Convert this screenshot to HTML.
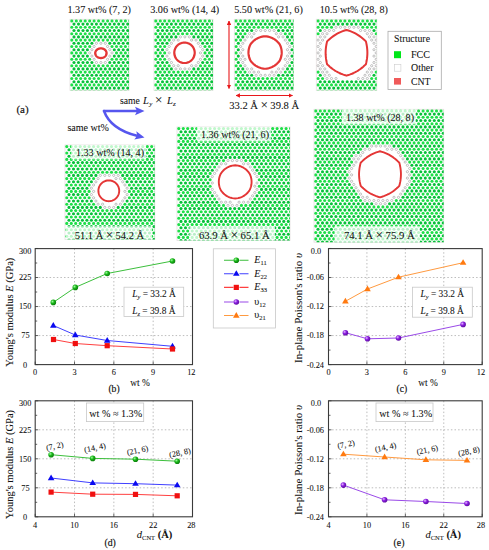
<!DOCTYPE html>
<html><head><meta charset="utf-8"><style>
html,body{margin:0;padding:0;background:#fff;width:489px;height:550px;overflow:hidden}
svg{display:block}
text{font-family:"Liberation Serif",serif;fill:#111;stroke:#111;stroke-width:0.07px}
</style></head><body>
<svg width="489" height="550" viewBox="0 0 489 550">
<defs>
<radialGradient id="gG" cx="0.35" cy="0.35" r="0.7"><stop offset="0" stop-color="#9dfc9d"/><stop offset="0.45" stop-color="#19b719"/><stop offset="1" stop-color="#0a7a0a"/></radialGradient>
<radialGradient id="gP" cx="0.35" cy="0.35" r="0.7"><stop offset="0" stop-color="#e6b8ff"/><stop offset="0.45" stop-color="#8a1ee0"/><stop offset="1" stop-color="#5a0a9a"/></radialGradient>
<marker id="ahR" viewBox="0 0 10 10" refX="9" refY="5" markerWidth="4" markerHeight="4" orient="auto-start-reverse"><path d="M0,0 L10,5 L0,10 z" fill="#e8181b"/></marker>
<marker id="ahB" viewBox="0 0 10 10" refX="8" refY="5" markerWidth="3.2" markerHeight="3.2" orient="auto"><path d="M0,0 L10,5 L0,10 L2,5 z" fill="#5a5aee"/></marker>
</defs>
<clipPath id="c1"><rect x="70" y="19.3" width="59" height="71"/></clipPath>
<rect x="70" y="19.3" width="59" height="71" fill="#fff" stroke="#e4dede" stroke-width="0.8"/>
<g clip-path="url(#c1)">
<g fill="#1ee048"><circle cx="71.8" cy="20.9" r="1.55"/><circle cx="76.3" cy="20.9" r="1.55"/><circle cx="80.7" cy="20.9" r="1.55"/><circle cx="85.2" cy="20.9" r="1.55"/><circle cx="89.7" cy="20.9" r="1.55"/><circle cx="94.1" cy="20.9" r="1.55"/><circle cx="98.6" cy="20.9" r="1.55"/><circle cx="103.1" cy="20.9" r="1.55"/><circle cx="107.6" cy="20.9" r="1.55"/><circle cx="112.0" cy="20.9" r="1.55"/><circle cx="116.5" cy="20.9" r="1.55"/><circle cx="121.0" cy="20.9" r="1.55"/><circle cx="125.4" cy="20.9" r="1.55"/><circle cx="129.9" cy="20.9" r="1.55"/><circle cx="71.8" cy="27.3" r="1.55"/><circle cx="76.3" cy="27.3" r="1.55"/><circle cx="80.7" cy="27.3" r="1.55"/><circle cx="85.2" cy="27.3" r="1.55"/><circle cx="89.7" cy="27.3" r="1.55"/><circle cx="94.1" cy="27.3" r="1.55"/><circle cx="98.6" cy="27.3" r="1.55"/><circle cx="103.1" cy="27.3" r="1.55"/><circle cx="107.6" cy="27.3" r="1.55"/><circle cx="112.0" cy="27.3" r="1.55"/><circle cx="116.5" cy="27.3" r="1.55"/><circle cx="121.0" cy="27.3" r="1.55"/><circle cx="125.4" cy="27.3" r="1.55"/><circle cx="129.9" cy="27.3" r="1.55"/><circle cx="71.8" cy="33.7" r="1.55"/><circle cx="76.3" cy="33.7" r="1.55"/><circle cx="80.7" cy="33.7" r="1.55"/><circle cx="85.2" cy="33.7" r="1.55"/><circle cx="89.7" cy="33.7" r="1.55"/><circle cx="94.1" cy="33.7" r="1.55"/><circle cx="98.6" cy="33.7" r="1.55"/><circle cx="103.1" cy="33.7" r="1.55"/><circle cx="107.6" cy="33.7" r="1.55"/><circle cx="112.0" cy="33.7" r="1.55"/><circle cx="116.5" cy="33.7" r="1.55"/><circle cx="121.0" cy="33.7" r="1.55"/><circle cx="125.4" cy="33.7" r="1.55"/><circle cx="129.9" cy="33.7" r="1.55"/><circle cx="71.8" cy="40.1" r="1.55"/><circle cx="76.3" cy="40.1" r="1.55"/><circle cx="80.7" cy="40.1" r="1.55"/><circle cx="85.2" cy="40.1" r="1.55"/><circle cx="89.7" cy="40.1" r="1.55"/><circle cx="94.1" cy="40.1" r="1.55"/><circle cx="98.6" cy="40.1" r="1.55"/><circle cx="103.1" cy="40.1" r="1.55"/><circle cx="107.6" cy="40.1" r="1.55"/><circle cx="112.0" cy="40.1" r="1.55"/><circle cx="116.5" cy="40.1" r="1.55"/><circle cx="121.0" cy="40.1" r="1.55"/><circle cx="125.4" cy="40.1" r="1.55"/><circle cx="129.9" cy="40.1" r="1.55"/><circle cx="71.8" cy="46.5" r="1.55"/><circle cx="76.3" cy="46.5" r="1.55"/><circle cx="80.7" cy="46.5" r="1.55"/><circle cx="85.2" cy="46.5" r="1.55"/><circle cx="89.7" cy="46.5" r="1.55"/><circle cx="112.0" cy="46.5" r="1.55"/><circle cx="116.5" cy="46.5" r="1.55"/><circle cx="121.0" cy="46.5" r="1.55"/><circle cx="125.4" cy="46.5" r="1.55"/><circle cx="129.9" cy="46.5" r="1.55"/><circle cx="71.8" cy="52.9" r="1.55"/><circle cx="76.3" cy="52.9" r="1.55"/><circle cx="80.7" cy="52.9" r="1.55"/><circle cx="85.2" cy="52.9" r="1.55"/><circle cx="116.5" cy="52.9" r="1.55"/><circle cx="121.0" cy="52.9" r="1.55"/><circle cx="125.4" cy="52.9" r="1.55"/><circle cx="129.9" cy="52.9" r="1.55"/><circle cx="71.8" cy="59.3" r="1.55"/><circle cx="76.3" cy="59.3" r="1.55"/><circle cx="80.7" cy="59.3" r="1.55"/><circle cx="85.2" cy="59.3" r="1.55"/><circle cx="89.7" cy="59.3" r="1.55"/><circle cx="112.0" cy="59.3" r="1.55"/><circle cx="116.5" cy="59.3" r="1.55"/><circle cx="121.0" cy="59.3" r="1.55"/><circle cx="125.4" cy="59.3" r="1.55"/><circle cx="129.9" cy="59.3" r="1.55"/><circle cx="71.8" cy="65.7" r="1.55"/><circle cx="76.3" cy="65.7" r="1.55"/><circle cx="80.7" cy="65.7" r="1.55"/><circle cx="85.2" cy="65.7" r="1.55"/><circle cx="89.7" cy="65.7" r="1.55"/><circle cx="94.1" cy="65.7" r="1.55"/><circle cx="98.6" cy="65.7" r="1.55"/><circle cx="103.1" cy="65.7" r="1.55"/><circle cx="107.6" cy="65.7" r="1.55"/><circle cx="112.0" cy="65.7" r="1.55"/><circle cx="116.5" cy="65.7" r="1.55"/><circle cx="121.0" cy="65.7" r="1.55"/><circle cx="125.4" cy="65.7" r="1.55"/><circle cx="129.9" cy="65.7" r="1.55"/><circle cx="71.8" cy="72.1" r="1.55"/><circle cx="76.3" cy="72.1" r="1.55"/><circle cx="80.7" cy="72.1" r="1.55"/><circle cx="85.2" cy="72.1" r="1.55"/><circle cx="89.7" cy="72.1" r="1.55"/><circle cx="94.1" cy="72.1" r="1.55"/><circle cx="98.6" cy="72.1" r="1.55"/><circle cx="103.1" cy="72.1" r="1.55"/><circle cx="107.6" cy="72.1" r="1.55"/><circle cx="112.0" cy="72.1" r="1.55"/><circle cx="116.5" cy="72.1" r="1.55"/><circle cx="121.0" cy="72.1" r="1.55"/><circle cx="125.4" cy="72.1" r="1.55"/><circle cx="129.9" cy="72.1" r="1.55"/><circle cx="71.8" cy="78.5" r="1.55"/><circle cx="76.3" cy="78.5" r="1.55"/><circle cx="80.7" cy="78.5" r="1.55"/><circle cx="85.2" cy="78.5" r="1.55"/><circle cx="89.7" cy="78.5" r="1.55"/><circle cx="94.1" cy="78.5" r="1.55"/><circle cx="98.6" cy="78.5" r="1.55"/><circle cx="103.1" cy="78.5" r="1.55"/><circle cx="107.6" cy="78.5" r="1.55"/><circle cx="112.0" cy="78.5" r="1.55"/><circle cx="116.5" cy="78.5" r="1.55"/><circle cx="121.0" cy="78.5" r="1.55"/><circle cx="125.4" cy="78.5" r="1.55"/><circle cx="129.9" cy="78.5" r="1.55"/><circle cx="71.8" cy="84.9" r="1.55"/><circle cx="76.3" cy="84.9" r="1.55"/><circle cx="80.7" cy="84.9" r="1.55"/><circle cx="85.2" cy="84.9" r="1.55"/><circle cx="89.7" cy="84.9" r="1.55"/><circle cx="94.1" cy="84.9" r="1.55"/><circle cx="98.6" cy="84.9" r="1.55"/><circle cx="103.1" cy="84.9" r="1.55"/><circle cx="107.6" cy="84.9" r="1.55"/><circle cx="112.0" cy="84.9" r="1.55"/><circle cx="116.5" cy="84.9" r="1.55"/><circle cx="121.0" cy="84.9" r="1.55"/><circle cx="125.4" cy="84.9" r="1.55"/><circle cx="129.9" cy="84.9" r="1.55"/><circle cx="71.8" cy="91.3" r="1.55"/><circle cx="76.3" cy="91.3" r="1.55"/><circle cx="80.7" cy="91.3" r="1.55"/><circle cx="85.2" cy="91.3" r="1.55"/><circle cx="89.7" cy="91.3" r="1.55"/><circle cx="94.1" cy="91.3" r="1.55"/><circle cx="98.6" cy="91.3" r="1.55"/><circle cx="103.1" cy="91.3" r="1.55"/><circle cx="107.6" cy="91.3" r="1.55"/><circle cx="112.0" cy="91.3" r="1.55"/><circle cx="116.5" cy="91.3" r="1.55"/><circle cx="121.0" cy="91.3" r="1.55"/><circle cx="125.4" cy="91.3" r="1.55"/><circle cx="129.9" cy="91.3" r="1.55"/></g>
<g fill="#07c03a"><circle cx="74.0" cy="24.1" r="1.55"/><circle cx="78.5" cy="24.1" r="1.55"/><circle cx="83.0" cy="24.1" r="1.55"/><circle cx="87.4" cy="24.1" r="1.55"/><circle cx="91.9" cy="24.1" r="1.55"/><circle cx="96.4" cy="24.1" r="1.55"/><circle cx="100.9" cy="24.1" r="1.55"/><circle cx="105.3" cy="24.1" r="1.55"/><circle cx="109.8" cy="24.1" r="1.55"/><circle cx="114.3" cy="24.1" r="1.55"/><circle cx="118.7" cy="24.1" r="1.55"/><circle cx="123.2" cy="24.1" r="1.55"/><circle cx="127.7" cy="24.1" r="1.55"/><circle cx="132.1" cy="24.1" r="1.55"/><circle cx="74.0" cy="30.5" r="1.55"/><circle cx="78.5" cy="30.5" r="1.55"/><circle cx="83.0" cy="30.5" r="1.55"/><circle cx="87.4" cy="30.5" r="1.55"/><circle cx="91.9" cy="30.5" r="1.55"/><circle cx="96.4" cy="30.5" r="1.55"/><circle cx="100.9" cy="30.5" r="1.55"/><circle cx="105.3" cy="30.5" r="1.55"/><circle cx="109.8" cy="30.5" r="1.55"/><circle cx="114.3" cy="30.5" r="1.55"/><circle cx="118.7" cy="30.5" r="1.55"/><circle cx="123.2" cy="30.5" r="1.55"/><circle cx="127.7" cy="30.5" r="1.55"/><circle cx="132.1" cy="30.5" r="1.55"/><circle cx="74.0" cy="36.9" r="1.55"/><circle cx="78.5" cy="36.9" r="1.55"/><circle cx="83.0" cy="36.9" r="1.55"/><circle cx="87.4" cy="36.9" r="1.55"/><circle cx="91.9" cy="36.9" r="1.55"/><circle cx="96.4" cy="36.9" r="1.55"/><circle cx="100.9" cy="36.9" r="1.55"/><circle cx="105.3" cy="36.9" r="1.55"/><circle cx="109.8" cy="36.9" r="1.55"/><circle cx="114.3" cy="36.9" r="1.55"/><circle cx="118.7" cy="36.9" r="1.55"/><circle cx="123.2" cy="36.9" r="1.55"/><circle cx="127.7" cy="36.9" r="1.55"/><circle cx="132.1" cy="36.9" r="1.55"/><circle cx="74.0" cy="43.3" r="1.55"/><circle cx="78.5" cy="43.3" r="1.55"/><circle cx="83.0" cy="43.3" r="1.55"/><circle cx="87.4" cy="43.3" r="1.55"/><circle cx="91.9" cy="43.3" r="1.55"/><circle cx="109.8" cy="43.3" r="1.55"/><circle cx="114.3" cy="43.3" r="1.55"/><circle cx="118.7" cy="43.3" r="1.55"/><circle cx="123.2" cy="43.3" r="1.55"/><circle cx="127.7" cy="43.3" r="1.55"/><circle cx="132.1" cy="43.3" r="1.55"/><circle cx="74.0" cy="49.7" r="1.55"/><circle cx="78.5" cy="49.7" r="1.55"/><circle cx="83.0" cy="49.7" r="1.55"/><circle cx="87.4" cy="49.7" r="1.55"/><circle cx="114.3" cy="49.7" r="1.55"/><circle cx="118.7" cy="49.7" r="1.55"/><circle cx="123.2" cy="49.7" r="1.55"/><circle cx="127.7" cy="49.7" r="1.55"/><circle cx="132.1" cy="49.7" r="1.55"/><circle cx="74.0" cy="56.1" r="1.55"/><circle cx="78.5" cy="56.1" r="1.55"/><circle cx="83.0" cy="56.1" r="1.55"/><circle cx="87.4" cy="56.1" r="1.55"/><circle cx="114.3" cy="56.1" r="1.55"/><circle cx="118.7" cy="56.1" r="1.55"/><circle cx="123.2" cy="56.1" r="1.55"/><circle cx="127.7" cy="56.1" r="1.55"/><circle cx="132.1" cy="56.1" r="1.55"/><circle cx="74.0" cy="62.5" r="1.55"/><circle cx="78.5" cy="62.5" r="1.55"/><circle cx="83.0" cy="62.5" r="1.55"/><circle cx="87.4" cy="62.5" r="1.55"/><circle cx="91.9" cy="62.5" r="1.55"/><circle cx="109.8" cy="62.5" r="1.55"/><circle cx="114.3" cy="62.5" r="1.55"/><circle cx="118.7" cy="62.5" r="1.55"/><circle cx="123.2" cy="62.5" r="1.55"/><circle cx="127.7" cy="62.5" r="1.55"/><circle cx="132.1" cy="62.5" r="1.55"/><circle cx="74.0" cy="68.9" r="1.55"/><circle cx="78.5" cy="68.9" r="1.55"/><circle cx="83.0" cy="68.9" r="1.55"/><circle cx="87.4" cy="68.9" r="1.55"/><circle cx="91.9" cy="68.9" r="1.55"/><circle cx="96.4" cy="68.9" r="1.55"/><circle cx="100.9" cy="68.9" r="1.55"/><circle cx="105.3" cy="68.9" r="1.55"/><circle cx="109.8" cy="68.9" r="1.55"/><circle cx="114.3" cy="68.9" r="1.55"/><circle cx="118.7" cy="68.9" r="1.55"/><circle cx="123.2" cy="68.9" r="1.55"/><circle cx="127.7" cy="68.9" r="1.55"/><circle cx="132.1" cy="68.9" r="1.55"/><circle cx="74.0" cy="75.3" r="1.55"/><circle cx="78.5" cy="75.3" r="1.55"/><circle cx="83.0" cy="75.3" r="1.55"/><circle cx="87.4" cy="75.3" r="1.55"/><circle cx="91.9" cy="75.3" r="1.55"/><circle cx="96.4" cy="75.3" r="1.55"/><circle cx="100.9" cy="75.3" r="1.55"/><circle cx="105.3" cy="75.3" r="1.55"/><circle cx="109.8" cy="75.3" r="1.55"/><circle cx="114.3" cy="75.3" r="1.55"/><circle cx="118.7" cy="75.3" r="1.55"/><circle cx="123.2" cy="75.3" r="1.55"/><circle cx="127.7" cy="75.3" r="1.55"/><circle cx="132.1" cy="75.3" r="1.55"/><circle cx="74.0" cy="81.7" r="1.55"/><circle cx="78.5" cy="81.7" r="1.55"/><circle cx="83.0" cy="81.7" r="1.55"/><circle cx="87.4" cy="81.7" r="1.55"/><circle cx="91.9" cy="81.7" r="1.55"/><circle cx="96.4" cy="81.7" r="1.55"/><circle cx="100.9" cy="81.7" r="1.55"/><circle cx="105.3" cy="81.7" r="1.55"/><circle cx="109.8" cy="81.7" r="1.55"/><circle cx="114.3" cy="81.7" r="1.55"/><circle cx="118.7" cy="81.7" r="1.55"/><circle cx="123.2" cy="81.7" r="1.55"/><circle cx="127.7" cy="81.7" r="1.55"/><circle cx="132.1" cy="81.7" r="1.55"/><circle cx="74.0" cy="88.1" r="1.55"/><circle cx="78.5" cy="88.1" r="1.55"/><circle cx="83.0" cy="88.1" r="1.55"/><circle cx="87.4" cy="88.1" r="1.55"/><circle cx="91.9" cy="88.1" r="1.55"/><circle cx="96.4" cy="88.1" r="1.55"/><circle cx="100.9" cy="88.1" r="1.55"/><circle cx="105.3" cy="88.1" r="1.55"/><circle cx="109.8" cy="88.1" r="1.55"/><circle cx="114.3" cy="88.1" r="1.55"/><circle cx="118.7" cy="88.1" r="1.55"/><circle cx="123.2" cy="88.1" r="1.55"/><circle cx="127.7" cy="88.1" r="1.55"/><circle cx="132.1" cy="88.1" r="1.55"/></g>
<g fill="#fff" stroke="#9a9a9a" stroke-width="0.6"><circle cx="96.4" cy="43.3" r="1.1"/><circle cx="100.9" cy="43.3" r="1.1"/><circle cx="105.3" cy="43.3" r="1.1"/><circle cx="94.1" cy="46.5" r="1.1"/><circle cx="107.6" cy="46.5" r="1.1"/><circle cx="91.9" cy="49.7" r="1.1"/><circle cx="109.8" cy="49.7" r="1.1"/><circle cx="89.7" cy="52.9" r="1.1"/><circle cx="112.0" cy="52.9" r="1.1"/><circle cx="91.9" cy="56.1" r="1.1"/><circle cx="109.8" cy="56.1" r="1.1"/><circle cx="94.1" cy="59.3" r="1.1"/><circle cx="107.6" cy="59.3" r="1.1"/><circle cx="96.4" cy="62.5" r="1.1"/><circle cx="100.9" cy="62.5" r="1.1"/><circle cx="105.3" cy="62.5" r="1.1"/></g>
<path d="M106.57,53.20 L106.55,53.62 L106.49,54.04 L106.38,54.45 L106.23,54.85 L106.04,55.24 L105.81,55.62 L105.55,55.97 L105.25,56.31 L104.91,56.62 L104.55,56.90 L104.15,57.16 L103.74,57.38 L103.30,57.58 L102.84,57.74 L102.37,57.87 L101.89,57.96 L101.39,58.01 L100.90,58.03 L100.41,58.01 L99.91,57.96 L99.43,57.87 L98.96,57.74 L98.50,57.58 L98.06,57.38 L97.65,57.16 L97.25,56.90 L96.89,56.62 L96.55,56.31 L96.25,55.97 L95.99,55.62 L95.76,55.24 L95.57,54.85 L95.42,54.45 L95.31,54.04 L95.25,53.62 L95.23,53.20 L95.25,52.78 L95.31,52.36 L95.42,51.95 L95.57,51.55 L95.76,51.16 L95.99,50.78 L96.25,50.43 L96.55,50.09 L96.89,49.78 L97.25,49.50 L97.65,49.24 L98.06,49.02 L98.50,48.82 L98.96,48.66 L99.43,48.53 L99.91,48.44 L100.41,48.39 L100.90,48.37 L101.39,48.39 L101.89,48.44 L102.37,48.53 L102.84,48.66 L103.30,48.82 L103.74,49.02 L104.15,49.24 L104.55,49.50 L104.91,49.78 L105.25,50.09 L105.55,50.43 L105.81,50.78 L106.04,51.16 L106.23,51.55 L106.38,51.95 L106.49,52.36 L106.55,52.78Z" fill="none" stroke="#e43636" stroke-width="2.3" stroke-linejoin="round"/>
</g>
<clipPath id="c2"><rect x="154" y="19.3" width="59" height="71"/></clipPath>
<rect x="154" y="19.3" width="59" height="71" fill="#fff" stroke="#e4dede" stroke-width="0.8"/>
<g clip-path="url(#c2)">
<g fill="#1ee048"><circle cx="155.8" cy="20.9" r="1.55"/><circle cx="160.3" cy="20.9" r="1.55"/><circle cx="164.7" cy="20.9" r="1.55"/><circle cx="169.2" cy="20.9" r="1.55"/><circle cx="173.7" cy="20.9" r="1.55"/><circle cx="178.2" cy="20.9" r="1.55"/><circle cx="182.6" cy="20.9" r="1.55"/><circle cx="187.1" cy="20.9" r="1.55"/><circle cx="191.6" cy="20.9" r="1.55"/><circle cx="196.0" cy="20.9" r="1.55"/><circle cx="200.5" cy="20.9" r="1.55"/><circle cx="205.0" cy="20.9" r="1.55"/><circle cx="209.4" cy="20.9" r="1.55"/><circle cx="213.9" cy="20.9" r="1.55"/><circle cx="155.8" cy="27.3" r="1.55"/><circle cx="160.3" cy="27.3" r="1.55"/><circle cx="164.7" cy="27.3" r="1.55"/><circle cx="169.2" cy="27.3" r="1.55"/><circle cx="173.7" cy="27.3" r="1.55"/><circle cx="178.2" cy="27.3" r="1.55"/><circle cx="182.6" cy="27.3" r="1.55"/><circle cx="187.1" cy="27.3" r="1.55"/><circle cx="191.6" cy="27.3" r="1.55"/><circle cx="196.0" cy="27.3" r="1.55"/><circle cx="200.5" cy="27.3" r="1.55"/><circle cx="205.0" cy="27.3" r="1.55"/><circle cx="209.4" cy="27.3" r="1.55"/><circle cx="213.9" cy="27.3" r="1.55"/><circle cx="155.8" cy="33.7" r="1.55"/><circle cx="160.3" cy="33.7" r="1.55"/><circle cx="164.7" cy="33.7" r="1.55"/><circle cx="169.2" cy="33.7" r="1.55"/><circle cx="173.7" cy="33.7" r="1.55"/><circle cx="178.2" cy="33.7" r="1.55"/><circle cx="182.6" cy="33.7" r="1.55"/><circle cx="187.1" cy="33.7" r="1.55"/><circle cx="191.6" cy="33.7" r="1.55"/><circle cx="196.0" cy="33.7" r="1.55"/><circle cx="200.5" cy="33.7" r="1.55"/><circle cx="205.0" cy="33.7" r="1.55"/><circle cx="209.4" cy="33.7" r="1.55"/><circle cx="213.9" cy="33.7" r="1.55"/><circle cx="155.8" cy="40.1" r="1.55"/><circle cx="160.3" cy="40.1" r="1.55"/><circle cx="164.7" cy="40.1" r="1.55"/><circle cx="169.2" cy="40.1" r="1.55"/><circle cx="200.5" cy="40.1" r="1.55"/><circle cx="205.0" cy="40.1" r="1.55"/><circle cx="209.4" cy="40.1" r="1.55"/><circle cx="213.9" cy="40.1" r="1.55"/><circle cx="155.8" cy="46.5" r="1.55"/><circle cx="160.3" cy="46.5" r="1.55"/><circle cx="164.7" cy="46.5" r="1.55"/><circle cx="205.0" cy="46.5" r="1.55"/><circle cx="209.4" cy="46.5" r="1.55"/><circle cx="213.9" cy="46.5" r="1.55"/><circle cx="155.8" cy="52.9" r="1.55"/><circle cx="160.3" cy="52.9" r="1.55"/><circle cx="164.7" cy="52.9" r="1.55"/><circle cx="205.0" cy="52.9" r="1.55"/><circle cx="209.4" cy="52.9" r="1.55"/><circle cx="213.9" cy="52.9" r="1.55"/><circle cx="155.8" cy="59.3" r="1.55"/><circle cx="160.3" cy="59.3" r="1.55"/><circle cx="164.7" cy="59.3" r="1.55"/><circle cx="205.0" cy="59.3" r="1.55"/><circle cx="209.4" cy="59.3" r="1.55"/><circle cx="213.9" cy="59.3" r="1.55"/><circle cx="155.8" cy="65.7" r="1.55"/><circle cx="160.3" cy="65.7" r="1.55"/><circle cx="164.7" cy="65.7" r="1.55"/><circle cx="169.2" cy="65.7" r="1.55"/><circle cx="200.5" cy="65.7" r="1.55"/><circle cx="205.0" cy="65.7" r="1.55"/><circle cx="209.4" cy="65.7" r="1.55"/><circle cx="213.9" cy="65.7" r="1.55"/><circle cx="155.8" cy="72.1" r="1.55"/><circle cx="160.3" cy="72.1" r="1.55"/><circle cx="164.7" cy="72.1" r="1.55"/><circle cx="169.2" cy="72.1" r="1.55"/><circle cx="173.7" cy="72.1" r="1.55"/><circle cx="178.2" cy="72.1" r="1.55"/><circle cx="182.6" cy="72.1" r="1.55"/><circle cx="187.1" cy="72.1" r="1.55"/><circle cx="191.6" cy="72.1" r="1.55"/><circle cx="196.0" cy="72.1" r="1.55"/><circle cx="200.5" cy="72.1" r="1.55"/><circle cx="205.0" cy="72.1" r="1.55"/><circle cx="209.4" cy="72.1" r="1.55"/><circle cx="213.9" cy="72.1" r="1.55"/><circle cx="155.8" cy="78.5" r="1.55"/><circle cx="160.3" cy="78.5" r="1.55"/><circle cx="164.7" cy="78.5" r="1.55"/><circle cx="169.2" cy="78.5" r="1.55"/><circle cx="173.7" cy="78.5" r="1.55"/><circle cx="178.2" cy="78.5" r="1.55"/><circle cx="182.6" cy="78.5" r="1.55"/><circle cx="187.1" cy="78.5" r="1.55"/><circle cx="191.6" cy="78.5" r="1.55"/><circle cx="196.0" cy="78.5" r="1.55"/><circle cx="200.5" cy="78.5" r="1.55"/><circle cx="205.0" cy="78.5" r="1.55"/><circle cx="209.4" cy="78.5" r="1.55"/><circle cx="213.9" cy="78.5" r="1.55"/><circle cx="155.8" cy="84.9" r="1.55"/><circle cx="160.3" cy="84.9" r="1.55"/><circle cx="164.7" cy="84.9" r="1.55"/><circle cx="169.2" cy="84.9" r="1.55"/><circle cx="173.7" cy="84.9" r="1.55"/><circle cx="178.2" cy="84.9" r="1.55"/><circle cx="182.6" cy="84.9" r="1.55"/><circle cx="187.1" cy="84.9" r="1.55"/><circle cx="191.6" cy="84.9" r="1.55"/><circle cx="196.0" cy="84.9" r="1.55"/><circle cx="200.5" cy="84.9" r="1.55"/><circle cx="205.0" cy="84.9" r="1.55"/><circle cx="209.4" cy="84.9" r="1.55"/><circle cx="213.9" cy="84.9" r="1.55"/><circle cx="155.8" cy="91.3" r="1.55"/><circle cx="160.3" cy="91.3" r="1.55"/><circle cx="164.7" cy="91.3" r="1.55"/><circle cx="169.2" cy="91.3" r="1.55"/><circle cx="173.7" cy="91.3" r="1.55"/><circle cx="178.2" cy="91.3" r="1.55"/><circle cx="182.6" cy="91.3" r="1.55"/><circle cx="187.1" cy="91.3" r="1.55"/><circle cx="191.6" cy="91.3" r="1.55"/><circle cx="196.0" cy="91.3" r="1.55"/><circle cx="200.5" cy="91.3" r="1.55"/><circle cx="205.0" cy="91.3" r="1.55"/><circle cx="209.4" cy="91.3" r="1.55"/><circle cx="213.9" cy="91.3" r="1.55"/></g>
<g fill="#07c03a"><circle cx="158.0" cy="24.1" r="1.55"/><circle cx="162.5" cy="24.1" r="1.55"/><circle cx="167.0" cy="24.1" r="1.55"/><circle cx="171.4" cy="24.1" r="1.55"/><circle cx="175.9" cy="24.1" r="1.55"/><circle cx="180.4" cy="24.1" r="1.55"/><circle cx="184.9" cy="24.1" r="1.55"/><circle cx="189.3" cy="24.1" r="1.55"/><circle cx="193.8" cy="24.1" r="1.55"/><circle cx="198.3" cy="24.1" r="1.55"/><circle cx="202.7" cy="24.1" r="1.55"/><circle cx="207.2" cy="24.1" r="1.55"/><circle cx="211.7" cy="24.1" r="1.55"/><circle cx="216.1" cy="24.1" r="1.55"/><circle cx="158.0" cy="30.5" r="1.55"/><circle cx="162.5" cy="30.5" r="1.55"/><circle cx="167.0" cy="30.5" r="1.55"/><circle cx="171.4" cy="30.5" r="1.55"/><circle cx="175.9" cy="30.5" r="1.55"/><circle cx="180.4" cy="30.5" r="1.55"/><circle cx="184.9" cy="30.5" r="1.55"/><circle cx="189.3" cy="30.5" r="1.55"/><circle cx="193.8" cy="30.5" r="1.55"/><circle cx="198.3" cy="30.5" r="1.55"/><circle cx="202.7" cy="30.5" r="1.55"/><circle cx="207.2" cy="30.5" r="1.55"/><circle cx="211.7" cy="30.5" r="1.55"/><circle cx="216.1" cy="30.5" r="1.55"/><circle cx="158.0" cy="36.9" r="1.55"/><circle cx="162.5" cy="36.9" r="1.55"/><circle cx="167.0" cy="36.9" r="1.55"/><circle cx="171.4" cy="36.9" r="1.55"/><circle cx="175.9" cy="36.9" r="1.55"/><circle cx="193.8" cy="36.9" r="1.55"/><circle cx="198.3" cy="36.9" r="1.55"/><circle cx="202.7" cy="36.9" r="1.55"/><circle cx="207.2" cy="36.9" r="1.55"/><circle cx="211.7" cy="36.9" r="1.55"/><circle cx="216.1" cy="36.9" r="1.55"/><circle cx="158.0" cy="43.3" r="1.55"/><circle cx="162.5" cy="43.3" r="1.55"/><circle cx="167.0" cy="43.3" r="1.55"/><circle cx="202.7" cy="43.3" r="1.55"/><circle cx="207.2" cy="43.3" r="1.55"/><circle cx="211.7" cy="43.3" r="1.55"/><circle cx="216.1" cy="43.3" r="1.55"/><circle cx="158.0" cy="49.7" r="1.55"/><circle cx="162.5" cy="49.7" r="1.55"/><circle cx="207.2" cy="49.7" r="1.55"/><circle cx="211.7" cy="49.7" r="1.55"/><circle cx="216.1" cy="49.7" r="1.55"/><circle cx="158.0" cy="56.1" r="1.55"/><circle cx="162.5" cy="56.1" r="1.55"/><circle cx="207.2" cy="56.1" r="1.55"/><circle cx="211.7" cy="56.1" r="1.55"/><circle cx="216.1" cy="56.1" r="1.55"/><circle cx="158.0" cy="62.5" r="1.55"/><circle cx="162.5" cy="62.5" r="1.55"/><circle cx="167.0" cy="62.5" r="1.55"/><circle cx="202.7" cy="62.5" r="1.55"/><circle cx="207.2" cy="62.5" r="1.55"/><circle cx="211.7" cy="62.5" r="1.55"/><circle cx="216.1" cy="62.5" r="1.55"/><circle cx="158.0" cy="68.9" r="1.55"/><circle cx="162.5" cy="68.9" r="1.55"/><circle cx="167.0" cy="68.9" r="1.55"/><circle cx="171.4" cy="68.9" r="1.55"/><circle cx="193.8" cy="68.9" r="1.55"/><circle cx="198.3" cy="68.9" r="1.55"/><circle cx="202.7" cy="68.9" r="1.55"/><circle cx="207.2" cy="68.9" r="1.55"/><circle cx="211.7" cy="68.9" r="1.55"/><circle cx="216.1" cy="68.9" r="1.55"/><circle cx="158.0" cy="75.3" r="1.55"/><circle cx="162.5" cy="75.3" r="1.55"/><circle cx="167.0" cy="75.3" r="1.55"/><circle cx="171.4" cy="75.3" r="1.55"/><circle cx="175.9" cy="75.3" r="1.55"/><circle cx="180.4" cy="75.3" r="1.55"/><circle cx="184.9" cy="75.3" r="1.55"/><circle cx="189.3" cy="75.3" r="1.55"/><circle cx="193.8" cy="75.3" r="1.55"/><circle cx="198.3" cy="75.3" r="1.55"/><circle cx="202.7" cy="75.3" r="1.55"/><circle cx="207.2" cy="75.3" r="1.55"/><circle cx="211.7" cy="75.3" r="1.55"/><circle cx="216.1" cy="75.3" r="1.55"/><circle cx="158.0" cy="81.7" r="1.55"/><circle cx="162.5" cy="81.7" r="1.55"/><circle cx="167.0" cy="81.7" r="1.55"/><circle cx="171.4" cy="81.7" r="1.55"/><circle cx="175.9" cy="81.7" r="1.55"/><circle cx="180.4" cy="81.7" r="1.55"/><circle cx="184.9" cy="81.7" r="1.55"/><circle cx="189.3" cy="81.7" r="1.55"/><circle cx="193.8" cy="81.7" r="1.55"/><circle cx="198.3" cy="81.7" r="1.55"/><circle cx="202.7" cy="81.7" r="1.55"/><circle cx="207.2" cy="81.7" r="1.55"/><circle cx="211.7" cy="81.7" r="1.55"/><circle cx="216.1" cy="81.7" r="1.55"/><circle cx="158.0" cy="88.1" r="1.55"/><circle cx="162.5" cy="88.1" r="1.55"/><circle cx="167.0" cy="88.1" r="1.55"/><circle cx="171.4" cy="88.1" r="1.55"/><circle cx="175.9" cy="88.1" r="1.55"/><circle cx="180.4" cy="88.1" r="1.55"/><circle cx="184.9" cy="88.1" r="1.55"/><circle cx="189.3" cy="88.1" r="1.55"/><circle cx="193.8" cy="88.1" r="1.55"/><circle cx="198.3" cy="88.1" r="1.55"/><circle cx="202.7" cy="88.1" r="1.55"/><circle cx="207.2" cy="88.1" r="1.55"/><circle cx="211.7" cy="88.1" r="1.55"/><circle cx="216.1" cy="88.1" r="1.55"/></g>
<g fill="#fff" stroke="#9a9a9a" stroke-width="0.6"><circle cx="180.4" cy="36.9" r="1.1"/><circle cx="184.9" cy="36.9" r="1.1"/><circle cx="189.3" cy="36.9" r="1.1"/><circle cx="173.7" cy="40.1" r="1.1"/><circle cx="178.2" cy="40.1" r="1.1"/><circle cx="191.6" cy="40.1" r="1.1"/><circle cx="196.0" cy="40.1" r="1.1"/><circle cx="171.4" cy="43.3" r="1.1"/><circle cx="198.3" cy="43.3" r="1.1"/><circle cx="169.2" cy="46.5" r="1.1"/><circle cx="200.5" cy="46.5" r="1.1"/><circle cx="167.0" cy="49.7" r="1.1"/><circle cx="202.7" cy="49.7" r="1.1"/><circle cx="169.2" cy="52.9" r="1.1"/><circle cx="200.5" cy="52.9" r="1.1"/><circle cx="167.0" cy="56.1" r="1.1"/><circle cx="202.7" cy="56.1" r="1.1"/><circle cx="169.2" cy="59.3" r="1.1"/><circle cx="200.5" cy="59.3" r="1.1"/><circle cx="171.4" cy="62.5" r="1.1"/><circle cx="198.3" cy="62.5" r="1.1"/><circle cx="173.7" cy="65.7" r="1.1"/><circle cx="178.2" cy="65.7" r="1.1"/><circle cx="191.6" cy="65.7" r="1.1"/><circle cx="196.0" cy="65.7" r="1.1"/><circle cx="175.9" cy="68.9" r="1.1"/><circle cx="180.4" cy="68.9" r="1.1"/><circle cx="184.9" cy="68.9" r="1.1"/><circle cx="189.3" cy="68.9" r="1.1"/></g>
<path d="M194.72,52.80 L194.68,53.69 L194.56,54.57 L194.37,55.44 L194.10,56.29 L193.76,57.12 L193.35,57.91 L192.87,58.66 L192.33,59.37 L191.73,60.03 L191.07,60.63 L190.36,61.17 L189.61,61.65 L188.82,62.06 L187.99,62.40 L187.14,62.67 L186.27,62.86 L185.39,62.98 L184.50,63.02 L183.61,62.98 L182.73,62.86 L181.86,62.67 L181.01,62.40 L180.18,62.06 L179.39,61.65 L178.64,61.17 L177.93,60.63 L177.27,60.03 L176.67,59.37 L176.13,58.66 L175.65,57.91 L175.24,57.12 L174.90,56.29 L174.63,55.44 L174.44,54.57 L174.32,53.69 L174.28,52.80 L174.32,51.91 L174.44,51.03 L174.63,50.16 L174.90,49.31 L175.24,48.48 L175.65,47.69 L176.13,46.94 L176.67,46.23 L177.27,45.57 L177.93,44.97 L178.64,44.43 L179.39,43.95 L180.18,43.54 L181.01,43.20 L181.86,42.93 L182.73,42.74 L183.61,42.62 L184.50,42.58 L185.39,42.62 L186.27,42.74 L187.14,42.93 L187.99,43.20 L188.82,43.54 L189.61,43.95 L190.36,44.43 L191.07,44.97 L191.73,45.57 L192.33,46.23 L192.87,46.94 L193.35,47.69 L193.76,48.48 L194.10,49.31 L194.37,50.16 L194.56,51.03 L194.68,51.91Z" fill="none" stroke="#e43636" stroke-width="2.2" stroke-linejoin="round"/>
</g>
<clipPath id="c3"><rect x="234.3" y="19.3" width="59.3" height="71"/></clipPath>
<rect x="234.3" y="19.3" width="59.3" height="71" fill="#fff" stroke="#e4dede" stroke-width="0.8"/>
<g clip-path="url(#c3)">
<g fill="#1ee048"><circle cx="236.1" cy="20.9" r="1.55"/><circle cx="240.6" cy="20.9" r="1.55"/><circle cx="245.0" cy="20.9" r="1.55"/><circle cx="249.5" cy="20.9" r="1.55"/><circle cx="254.0" cy="20.9" r="1.55"/><circle cx="258.5" cy="20.9" r="1.55"/><circle cx="262.9" cy="20.9" r="1.55"/><circle cx="267.4" cy="20.9" r="1.55"/><circle cx="271.9" cy="20.9" r="1.55"/><circle cx="276.3" cy="20.9" r="1.55"/><circle cx="280.8" cy="20.9" r="1.55"/><circle cx="285.3" cy="20.9" r="1.55"/><circle cx="289.7" cy="20.9" r="1.55"/><circle cx="294.2" cy="20.9" r="1.55"/><circle cx="236.1" cy="27.3" r="1.55"/><circle cx="240.6" cy="27.3" r="1.55"/><circle cx="245.0" cy="27.3" r="1.55"/><circle cx="249.5" cy="27.3" r="1.55"/><circle cx="254.0" cy="27.3" r="1.55"/><circle cx="258.5" cy="27.3" r="1.55"/><circle cx="262.9" cy="27.3" r="1.55"/><circle cx="267.4" cy="27.3" r="1.55"/><circle cx="271.9" cy="27.3" r="1.55"/><circle cx="276.3" cy="27.3" r="1.55"/><circle cx="280.8" cy="27.3" r="1.55"/><circle cx="285.3" cy="27.3" r="1.55"/><circle cx="289.7" cy="27.3" r="1.55"/><circle cx="294.2" cy="27.3" r="1.55"/><circle cx="236.1" cy="33.7" r="1.55"/><circle cx="240.6" cy="33.7" r="1.55"/><circle cx="245.0" cy="33.7" r="1.55"/><circle cx="285.3" cy="33.7" r="1.55"/><circle cx="289.7" cy="33.7" r="1.55"/><circle cx="294.2" cy="33.7" r="1.55"/><circle cx="236.1" cy="40.1" r="1.55"/><circle cx="240.6" cy="40.1" r="1.55"/><circle cx="289.7" cy="40.1" r="1.55"/><circle cx="294.2" cy="40.1" r="1.55"/><circle cx="236.1" cy="46.5" r="1.55"/><circle cx="294.2" cy="46.5" r="1.55"/><circle cx="236.1" cy="52.9" r="1.55"/><circle cx="294.2" cy="52.9" r="1.55"/><circle cx="236.1" cy="59.3" r="1.55"/><circle cx="294.2" cy="59.3" r="1.55"/><circle cx="236.1" cy="65.7" r="1.55"/><circle cx="240.6" cy="65.7" r="1.55"/><circle cx="289.7" cy="65.7" r="1.55"/><circle cx="294.2" cy="65.7" r="1.55"/><circle cx="236.1" cy="72.1" r="1.55"/><circle cx="240.6" cy="72.1" r="1.55"/><circle cx="245.0" cy="72.1" r="1.55"/><circle cx="285.3" cy="72.1" r="1.55"/><circle cx="289.7" cy="72.1" r="1.55"/><circle cx="294.2" cy="72.1" r="1.55"/><circle cx="236.1" cy="78.5" r="1.55"/><circle cx="240.6" cy="78.5" r="1.55"/><circle cx="245.0" cy="78.5" r="1.55"/><circle cx="249.5" cy="78.5" r="1.55"/><circle cx="254.0" cy="78.5" r="1.55"/><circle cx="258.5" cy="78.5" r="1.55"/><circle cx="262.9" cy="78.5" r="1.55"/><circle cx="267.4" cy="78.5" r="1.55"/><circle cx="271.9" cy="78.5" r="1.55"/><circle cx="276.3" cy="78.5" r="1.55"/><circle cx="280.8" cy="78.5" r="1.55"/><circle cx="285.3" cy="78.5" r="1.55"/><circle cx="289.7" cy="78.5" r="1.55"/><circle cx="294.2" cy="78.5" r="1.55"/><circle cx="236.1" cy="84.9" r="1.55"/><circle cx="240.6" cy="84.9" r="1.55"/><circle cx="245.0" cy="84.9" r="1.55"/><circle cx="249.5" cy="84.9" r="1.55"/><circle cx="254.0" cy="84.9" r="1.55"/><circle cx="258.5" cy="84.9" r="1.55"/><circle cx="262.9" cy="84.9" r="1.55"/><circle cx="267.4" cy="84.9" r="1.55"/><circle cx="271.9" cy="84.9" r="1.55"/><circle cx="276.3" cy="84.9" r="1.55"/><circle cx="280.8" cy="84.9" r="1.55"/><circle cx="285.3" cy="84.9" r="1.55"/><circle cx="289.7" cy="84.9" r="1.55"/><circle cx="294.2" cy="84.9" r="1.55"/><circle cx="236.1" cy="91.3" r="1.55"/><circle cx="240.6" cy="91.3" r="1.55"/><circle cx="245.0" cy="91.3" r="1.55"/><circle cx="249.5" cy="91.3" r="1.55"/><circle cx="254.0" cy="91.3" r="1.55"/><circle cx="258.5" cy="91.3" r="1.55"/><circle cx="262.9" cy="91.3" r="1.55"/><circle cx="267.4" cy="91.3" r="1.55"/><circle cx="271.9" cy="91.3" r="1.55"/><circle cx="276.3" cy="91.3" r="1.55"/><circle cx="280.8" cy="91.3" r="1.55"/><circle cx="285.3" cy="91.3" r="1.55"/><circle cx="289.7" cy="91.3" r="1.55"/><circle cx="294.2" cy="91.3" r="1.55"/></g>
<g fill="#07c03a"><circle cx="238.3" cy="24.1" r="1.55"/><circle cx="242.8" cy="24.1" r="1.55"/><circle cx="247.3" cy="24.1" r="1.55"/><circle cx="251.7" cy="24.1" r="1.55"/><circle cx="256.2" cy="24.1" r="1.55"/><circle cx="260.7" cy="24.1" r="1.55"/><circle cx="265.2" cy="24.1" r="1.55"/><circle cx="269.6" cy="24.1" r="1.55"/><circle cx="274.1" cy="24.1" r="1.55"/><circle cx="278.6" cy="24.1" r="1.55"/><circle cx="283.0" cy="24.1" r="1.55"/><circle cx="287.5" cy="24.1" r="1.55"/><circle cx="292.0" cy="24.1" r="1.55"/><circle cx="296.4" cy="24.1" r="1.55"/><circle cx="238.3" cy="30.5" r="1.55"/><circle cx="242.8" cy="30.5" r="1.55"/><circle cx="247.3" cy="30.5" r="1.55"/><circle cx="251.7" cy="30.5" r="1.55"/><circle cx="278.6" cy="30.5" r="1.55"/><circle cx="283.0" cy="30.5" r="1.55"/><circle cx="287.5" cy="30.5" r="1.55"/><circle cx="292.0" cy="30.5" r="1.55"/><circle cx="296.4" cy="30.5" r="1.55"/><circle cx="238.3" cy="36.9" r="1.55"/><circle cx="242.8" cy="36.9" r="1.55"/><circle cx="287.5" cy="36.9" r="1.55"/><circle cx="292.0" cy="36.9" r="1.55"/><circle cx="296.4" cy="36.9" r="1.55"/><circle cx="238.3" cy="43.3" r="1.55"/><circle cx="292.0" cy="43.3" r="1.55"/><circle cx="296.4" cy="43.3" r="1.55"/><circle cx="238.3" cy="49.7" r="1.55"/><circle cx="292.0" cy="49.7" r="1.55"/><circle cx="296.4" cy="49.7" r="1.55"/><circle cx="238.3" cy="56.1" r="1.55"/><circle cx="292.0" cy="56.1" r="1.55"/><circle cx="296.4" cy="56.1" r="1.55"/><circle cx="238.3" cy="62.5" r="1.55"/><circle cx="292.0" cy="62.5" r="1.55"/><circle cx="296.4" cy="62.5" r="1.55"/><circle cx="238.3" cy="68.9" r="1.55"/><circle cx="242.8" cy="68.9" r="1.55"/><circle cx="287.5" cy="68.9" r="1.55"/><circle cx="292.0" cy="68.9" r="1.55"/><circle cx="296.4" cy="68.9" r="1.55"/><circle cx="238.3" cy="75.3" r="1.55"/><circle cx="242.8" cy="75.3" r="1.55"/><circle cx="247.3" cy="75.3" r="1.55"/><circle cx="251.7" cy="75.3" r="1.55"/><circle cx="278.6" cy="75.3" r="1.55"/><circle cx="283.0" cy="75.3" r="1.55"/><circle cx="287.5" cy="75.3" r="1.55"/><circle cx="292.0" cy="75.3" r="1.55"/><circle cx="296.4" cy="75.3" r="1.55"/><circle cx="238.3" cy="81.7" r="1.55"/><circle cx="242.8" cy="81.7" r="1.55"/><circle cx="247.3" cy="81.7" r="1.55"/><circle cx="251.7" cy="81.7" r="1.55"/><circle cx="256.2" cy="81.7" r="1.55"/><circle cx="260.7" cy="81.7" r="1.55"/><circle cx="265.2" cy="81.7" r="1.55"/><circle cx="269.6" cy="81.7" r="1.55"/><circle cx="274.1" cy="81.7" r="1.55"/><circle cx="278.6" cy="81.7" r="1.55"/><circle cx="283.0" cy="81.7" r="1.55"/><circle cx="287.5" cy="81.7" r="1.55"/><circle cx="292.0" cy="81.7" r="1.55"/><circle cx="296.4" cy="81.7" r="1.55"/><circle cx="238.3" cy="88.1" r="1.55"/><circle cx="242.8" cy="88.1" r="1.55"/><circle cx="247.3" cy="88.1" r="1.55"/><circle cx="251.7" cy="88.1" r="1.55"/><circle cx="256.2" cy="88.1" r="1.55"/><circle cx="260.7" cy="88.1" r="1.55"/><circle cx="265.2" cy="88.1" r="1.55"/><circle cx="269.6" cy="88.1" r="1.55"/><circle cx="274.1" cy="88.1" r="1.55"/><circle cx="278.6" cy="88.1" r="1.55"/><circle cx="283.0" cy="88.1" r="1.55"/><circle cx="287.5" cy="88.1" r="1.55"/><circle cx="292.0" cy="88.1" r="1.55"/><circle cx="296.4" cy="88.1" r="1.55"/></g>
<g fill="#fff" stroke="#9a9a9a" stroke-width="0.6"><circle cx="256.2" cy="30.5" r="1.1"/><circle cx="260.7" cy="30.5" r="1.1"/><circle cx="265.2" cy="30.5" r="1.1"/><circle cx="269.6" cy="30.5" r="1.1"/><circle cx="274.1" cy="30.5" r="1.1"/><circle cx="249.5" cy="33.7" r="1.1"/><circle cx="254.0" cy="33.7" r="1.1"/><circle cx="276.3" cy="33.7" r="1.1"/><circle cx="280.8" cy="33.7" r="1.1"/><circle cx="247.3" cy="36.9" r="1.1"/><circle cx="251.7" cy="36.9" r="1.1"/><circle cx="278.6" cy="36.9" r="1.1"/><circle cx="283.0" cy="36.9" r="1.1"/><circle cx="245.0" cy="40.1" r="1.1"/><circle cx="285.3" cy="40.1" r="1.1"/><circle cx="242.8" cy="43.3" r="1.1"/><circle cx="287.5" cy="43.3" r="1.1"/><circle cx="240.6" cy="46.5" r="1.1"/><circle cx="289.7" cy="46.5" r="1.1"/><circle cx="242.8" cy="49.7" r="1.1"/><circle cx="287.5" cy="49.7" r="1.1"/><circle cx="240.6" cy="52.9" r="1.1"/><circle cx="289.7" cy="52.9" r="1.1"/><circle cx="242.8" cy="56.1" r="1.1"/><circle cx="287.5" cy="56.1" r="1.1"/><circle cx="240.6" cy="59.3" r="1.1"/><circle cx="245.0" cy="59.3" r="1.1"/><circle cx="285.3" cy="59.3" r="1.1"/><circle cx="289.7" cy="59.3" r="1.1"/><circle cx="242.8" cy="62.5" r="1.1"/><circle cx="287.5" cy="62.5" r="1.1"/><circle cx="245.0" cy="65.7" r="1.1"/><circle cx="285.3" cy="65.7" r="1.1"/><circle cx="247.3" cy="68.9" r="1.1"/><circle cx="251.7" cy="68.9" r="1.1"/><circle cx="278.6" cy="68.9" r="1.1"/><circle cx="283.0" cy="68.9" r="1.1"/><circle cx="249.5" cy="72.1" r="1.1"/><circle cx="254.0" cy="72.1" r="1.1"/><circle cx="258.5" cy="72.1" r="1.1"/><circle cx="271.9" cy="72.1" r="1.1"/><circle cx="276.3" cy="72.1" r="1.1"/><circle cx="280.8" cy="72.1" r="1.1"/><circle cx="256.2" cy="75.3" r="1.1"/><circle cx="260.7" cy="75.3" r="1.1"/><circle cx="265.2" cy="75.3" r="1.1"/><circle cx="269.6" cy="75.3" r="1.1"/><circle cx="274.1" cy="75.3" r="1.1"/></g>
<path d="M281.72,52.50 L281.66,53.89 L281.50,55.28 L281.22,56.65 L280.83,58.00 L280.33,59.32 L279.74,60.61 L278.87,61.76 L277.92,62.83 L276.90,63.83 L275.80,64.74 L274.64,65.58 L273.41,66.32 L272.13,66.97 L270.79,67.52 L269.42,67.97 L268.01,68.32 L266.57,68.58 L265.10,68.73 L263.63,68.58 L262.19,68.32 L260.78,67.97 L259.41,67.52 L258.07,66.97 L256.79,66.32 L255.56,65.58 L254.40,64.74 L253.30,63.83 L252.28,62.83 L251.33,61.76 L250.46,60.61 L249.87,59.32 L249.37,58.00 L248.98,56.65 L248.70,55.28 L248.54,53.89 L248.48,52.50 L248.54,51.11 L248.70,49.72 L248.98,48.35 L249.37,47.00 L249.87,45.68 L250.46,44.39 L251.33,43.24 L252.28,42.17 L253.30,41.17 L254.40,40.26 L255.56,39.42 L256.79,38.68 L258.07,38.03 L259.41,37.48 L260.78,37.03 L262.19,36.68 L263.63,36.42 L265.10,36.27 L266.57,36.42 L268.01,36.68 L269.42,37.03 L270.79,37.48 L272.13,38.03 L273.41,38.68 L274.64,39.42 L275.80,40.26 L276.90,41.17 L277.92,42.17 L278.87,43.24 L279.74,44.39 L280.33,45.68 L280.83,47.00 L281.22,48.35 L281.50,49.72 L281.66,51.11Z" fill="none" stroke="#e43636" stroke-width="2.2" stroke-linejoin="round"/>
</g>
<clipPath id="c4"><rect x="316.3" y="19.3" width="60.5" height="71"/></clipPath>
<rect x="316.3" y="19.3" width="60.5" height="71" fill="#fff" stroke="#e4dede" stroke-width="0.8"/>
<g clip-path="url(#c4)">
<g fill="#1ee048"><circle cx="318.1" cy="20.9" r="1.55"/><circle cx="322.6" cy="20.9" r="1.55"/><circle cx="327.0" cy="20.9" r="1.55"/><circle cx="331.5" cy="20.9" r="1.55"/><circle cx="336.0" cy="20.9" r="1.55"/><circle cx="340.5" cy="20.9" r="1.55"/><circle cx="344.9" cy="20.9" r="1.55"/><circle cx="349.4" cy="20.9" r="1.55"/><circle cx="353.9" cy="20.9" r="1.55"/><circle cx="358.3" cy="20.9" r="1.55"/><circle cx="362.8" cy="20.9" r="1.55"/><circle cx="367.3" cy="20.9" r="1.55"/><circle cx="371.7" cy="20.9" r="1.55"/><circle cx="376.2" cy="20.9" r="1.55"/><circle cx="380.7" cy="20.9" r="1.55"/><circle cx="318.1" cy="27.3" r="1.55"/><circle cx="322.6" cy="27.3" r="1.55"/><circle cx="327.0" cy="27.3" r="1.55"/><circle cx="331.5" cy="27.3" r="1.55"/><circle cx="362.8" cy="27.3" r="1.55"/><circle cx="367.3" cy="27.3" r="1.55"/><circle cx="371.7" cy="27.3" r="1.55"/><circle cx="376.2" cy="27.3" r="1.55"/><circle cx="380.7" cy="27.3" r="1.55"/><circle cx="318.1" cy="33.7" r="1.55"/><circle cx="376.2" cy="33.7" r="1.55"/><circle cx="380.7" cy="33.7" r="1.55"/><circle cx="380.7" cy="40.1" r="1.55"/><circle cx="380.7" cy="46.5" r="1.55"/><circle cx="380.7" cy="52.9" r="1.55"/><circle cx="380.7" cy="59.3" r="1.55"/><circle cx="380.7" cy="65.7" r="1.55"/><circle cx="318.1" cy="72.1" r="1.55"/><circle cx="376.2" cy="72.1" r="1.55"/><circle cx="380.7" cy="72.1" r="1.55"/><circle cx="318.1" cy="78.5" r="1.55"/><circle cx="322.6" cy="78.5" r="1.55"/><circle cx="371.7" cy="78.5" r="1.55"/><circle cx="376.2" cy="78.5" r="1.55"/><circle cx="380.7" cy="78.5" r="1.55"/><circle cx="318.1" cy="84.9" r="1.55"/><circle cx="322.6" cy="84.9" r="1.55"/><circle cx="327.0" cy="84.9" r="1.55"/><circle cx="331.5" cy="84.9" r="1.55"/><circle cx="336.0" cy="84.9" r="1.55"/><circle cx="340.5" cy="84.9" r="1.55"/><circle cx="344.9" cy="84.9" r="1.55"/><circle cx="349.4" cy="84.9" r="1.55"/><circle cx="353.9" cy="84.9" r="1.55"/><circle cx="358.3" cy="84.9" r="1.55"/><circle cx="362.8" cy="84.9" r="1.55"/><circle cx="367.3" cy="84.9" r="1.55"/><circle cx="371.7" cy="84.9" r="1.55"/><circle cx="376.2" cy="84.9" r="1.55"/><circle cx="380.7" cy="84.9" r="1.55"/><circle cx="318.1" cy="91.3" r="1.55"/><circle cx="322.6" cy="91.3" r="1.55"/><circle cx="327.0" cy="91.3" r="1.55"/><circle cx="331.5" cy="91.3" r="1.55"/><circle cx="336.0" cy="91.3" r="1.55"/><circle cx="340.5" cy="91.3" r="1.55"/><circle cx="344.9" cy="91.3" r="1.55"/><circle cx="349.4" cy="91.3" r="1.55"/><circle cx="353.9" cy="91.3" r="1.55"/><circle cx="358.3" cy="91.3" r="1.55"/><circle cx="362.8" cy="91.3" r="1.55"/><circle cx="367.3" cy="91.3" r="1.55"/><circle cx="371.7" cy="91.3" r="1.55"/><circle cx="376.2" cy="91.3" r="1.55"/><circle cx="380.7" cy="91.3" r="1.55"/></g>
<g fill="#07c03a"><circle cx="320.3" cy="24.1" r="1.55"/><circle cx="324.8" cy="24.1" r="1.55"/><circle cx="329.3" cy="24.1" r="1.55"/><circle cx="333.7" cy="24.1" r="1.55"/><circle cx="338.2" cy="24.1" r="1.55"/><circle cx="342.7" cy="24.1" r="1.55"/><circle cx="347.2" cy="24.1" r="1.55"/><circle cx="351.6" cy="24.1" r="1.55"/><circle cx="356.1" cy="24.1" r="1.55"/><circle cx="360.6" cy="24.1" r="1.55"/><circle cx="365.0" cy="24.1" r="1.55"/><circle cx="369.5" cy="24.1" r="1.55"/><circle cx="374.0" cy="24.1" r="1.55"/><circle cx="378.4" cy="24.1" r="1.55"/><circle cx="320.3" cy="30.5" r="1.55"/><circle cx="374.0" cy="30.5" r="1.55"/><circle cx="378.4" cy="30.5" r="1.55"/><circle cx="378.4" cy="36.9" r="1.55"/><circle cx="378.4" cy="43.3" r="1.55"/><circle cx="378.4" cy="49.7" r="1.55"/><circle cx="378.4" cy="56.1" r="1.55"/><circle cx="378.4" cy="62.5" r="1.55"/><circle cx="378.4" cy="68.9" r="1.55"/><circle cx="320.3" cy="75.3" r="1.55"/><circle cx="374.0" cy="75.3" r="1.55"/><circle cx="378.4" cy="75.3" r="1.55"/><circle cx="320.3" cy="81.7" r="1.55"/><circle cx="324.8" cy="81.7" r="1.55"/><circle cx="329.3" cy="81.7" r="1.55"/><circle cx="333.7" cy="81.7" r="1.55"/><circle cx="338.2" cy="81.7" r="1.55"/><circle cx="342.7" cy="81.7" r="1.55"/><circle cx="347.2" cy="81.7" r="1.55"/><circle cx="351.6" cy="81.7" r="1.55"/><circle cx="356.1" cy="81.7" r="1.55"/><circle cx="360.6" cy="81.7" r="1.55"/><circle cx="365.0" cy="81.7" r="1.55"/><circle cx="369.5" cy="81.7" r="1.55"/><circle cx="374.0" cy="81.7" r="1.55"/><circle cx="378.4" cy="81.7" r="1.55"/><circle cx="320.3" cy="88.1" r="1.55"/><circle cx="324.8" cy="88.1" r="1.55"/><circle cx="329.3" cy="88.1" r="1.55"/><circle cx="333.7" cy="88.1" r="1.55"/><circle cx="338.2" cy="88.1" r="1.55"/><circle cx="342.7" cy="88.1" r="1.55"/><circle cx="347.2" cy="88.1" r="1.55"/><circle cx="351.6" cy="88.1" r="1.55"/><circle cx="356.1" cy="88.1" r="1.55"/><circle cx="360.6" cy="88.1" r="1.55"/><circle cx="365.0" cy="88.1" r="1.55"/><circle cx="369.5" cy="88.1" r="1.55"/><circle cx="374.0" cy="88.1" r="1.55"/><circle cx="378.4" cy="88.1" r="1.55"/></g>
<g fill="#fff" stroke="#9a9a9a" stroke-width="0.6"><circle cx="336.0" cy="27.3" r="1.1"/><circle cx="340.5" cy="27.3" r="1.1"/><circle cx="344.9" cy="27.3" r="1.1"/><circle cx="349.4" cy="27.3" r="1.1"/><circle cx="353.9" cy="27.3" r="1.1"/><circle cx="358.3" cy="27.3" r="1.1"/><circle cx="324.8" cy="30.5" r="1.1"/><circle cx="329.3" cy="30.5" r="1.1"/><circle cx="333.7" cy="30.5" r="1.1"/><circle cx="360.6" cy="30.5" r="1.1"/><circle cx="365.0" cy="30.5" r="1.1"/><circle cx="369.5" cy="30.5" r="1.1"/><circle cx="322.6" cy="33.7" r="1.1"/><circle cx="327.0" cy="33.7" r="1.1"/><circle cx="367.3" cy="33.7" r="1.1"/><circle cx="371.7" cy="33.7" r="1.1"/><circle cx="320.3" cy="36.9" r="1.1"/><circle cx="324.8" cy="36.9" r="1.1"/><circle cx="369.5" cy="36.9" r="1.1"/><circle cx="374.0" cy="36.9" r="1.1"/><circle cx="318.1" cy="40.1" r="1.1"/><circle cx="322.6" cy="40.1" r="1.1"/><circle cx="371.7" cy="40.1" r="1.1"/><circle cx="376.2" cy="40.1" r="1.1"/><circle cx="320.3" cy="43.3" r="1.1"/><circle cx="374.0" cy="43.3" r="1.1"/><circle cx="318.1" cy="46.5" r="1.1"/><circle cx="376.2" cy="46.5" r="1.1"/><circle cx="320.3" cy="49.7" r="1.1"/><circle cx="374.0" cy="49.7" r="1.1"/><circle cx="318.1" cy="52.9" r="1.1"/><circle cx="376.2" cy="52.9" r="1.1"/><circle cx="320.3" cy="56.1" r="1.1"/><circle cx="374.0" cy="56.1" r="1.1"/><circle cx="318.1" cy="59.3" r="1.1"/><circle cx="376.2" cy="59.3" r="1.1"/><circle cx="320.3" cy="62.5" r="1.1"/><circle cx="374.0" cy="62.5" r="1.1"/><circle cx="318.1" cy="65.7" r="1.1"/><circle cx="322.6" cy="65.7" r="1.1"/><circle cx="371.7" cy="65.7" r="1.1"/><circle cx="376.2" cy="65.7" r="1.1"/><circle cx="320.3" cy="68.9" r="1.1"/><circle cx="324.8" cy="68.9" r="1.1"/><circle cx="369.5" cy="68.9" r="1.1"/><circle cx="374.0" cy="68.9" r="1.1"/><circle cx="322.6" cy="72.1" r="1.1"/><circle cx="327.0" cy="72.1" r="1.1"/><circle cx="367.3" cy="72.1" r="1.1"/><circle cx="371.7" cy="72.1" r="1.1"/><circle cx="324.8" cy="75.3" r="1.1"/><circle cx="329.3" cy="75.3" r="1.1"/><circle cx="365.0" cy="75.3" r="1.1"/><circle cx="369.5" cy="75.3" r="1.1"/><circle cx="327.0" cy="78.5" r="1.1"/><circle cx="331.5" cy="78.5" r="1.1"/><circle cx="336.0" cy="78.5" r="1.1"/><circle cx="358.3" cy="78.5" r="1.1"/><circle cx="362.8" cy="78.5" r="1.1"/><circle cx="367.3" cy="78.5" r="1.1"/></g>
<path d="M367.38,52.80 L367.34,54.66 L367.21,56.53 L367.01,58.41 L366.72,60.31 L366.35,62.25 L365.91,64.24 L364.44,65.62 L362.98,66.91 L361.51,68.12 L360.02,69.24 L358.50,70.28 L356.94,71.25 L355.34,72.14 L353.69,72.97 L351.99,73.73 L350.24,74.42 L348.41,75.07 L346.50,75.67 L344.59,75.07 L342.76,74.42 L341.01,73.73 L339.31,72.97 L337.66,72.14 L336.06,71.25 L334.50,70.28 L332.98,69.24 L331.49,68.12 L330.02,66.91 L328.56,65.62 L327.09,64.24 L326.65,62.25 L326.28,60.31 L325.99,58.41 L325.79,56.53 L325.66,54.66 L325.62,52.80 L325.66,50.94 L325.79,49.07 L325.99,47.19 L326.28,45.29 L326.65,43.35 L327.09,41.36 L328.56,39.98 L330.02,38.69 L331.49,37.48 L332.98,36.36 L334.50,35.32 L336.06,34.35 L337.66,33.46 L339.31,32.63 L341.01,31.87 L342.76,31.18 L344.59,30.53 L346.50,29.93 L348.41,30.53 L350.24,31.18 L351.99,31.87 L353.69,32.63 L355.34,33.46 L356.94,34.35 L358.50,35.32 L360.02,36.36 L361.51,37.48 L362.98,38.69 L364.44,39.98 L365.91,41.36 L366.35,43.35 L366.72,45.29 L367.01,47.19 L367.21,49.07 L367.34,50.94Z" fill="none" stroke="#e43636" stroke-width="2.0" stroke-linejoin="round"/>
</g>
<clipPath id="c5"><rect x="65" y="145" width="89.8" height="94.4"/></clipPath>
<rect x="65" y="145" width="89.8" height="94.4" fill="#fff" stroke="#e4dede" stroke-width="0.8"/>
<g clip-path="url(#c5)">
<g fill="#1ee048"><circle cx="66.8" cy="146.6" r="1.55"/><circle cx="71.3" cy="146.6" r="1.55"/><circle cx="75.7" cy="146.6" r="1.55"/><circle cx="80.2" cy="146.6" r="1.55"/><circle cx="84.7" cy="146.6" r="1.55"/><circle cx="89.1" cy="146.6" r="1.55"/><circle cx="93.6" cy="146.6" r="1.55"/><circle cx="98.1" cy="146.6" r="1.55"/><circle cx="102.6" cy="146.6" r="1.55"/><circle cx="107.0" cy="146.6" r="1.55"/><circle cx="111.5" cy="146.6" r="1.55"/><circle cx="116.0" cy="146.6" r="1.55"/><circle cx="120.4" cy="146.6" r="1.55"/><circle cx="124.9" cy="146.6" r="1.55"/><circle cx="129.4" cy="146.6" r="1.55"/><circle cx="133.8" cy="146.6" r="1.55"/><circle cx="138.3" cy="146.6" r="1.55"/><circle cx="142.8" cy="146.6" r="1.55"/><circle cx="147.3" cy="146.6" r="1.55"/><circle cx="151.7" cy="146.6" r="1.55"/><circle cx="156.2" cy="146.6" r="1.55"/><circle cx="66.8" cy="153.0" r="1.55"/><circle cx="71.3" cy="153.0" r="1.55"/><circle cx="75.7" cy="153.0" r="1.55"/><circle cx="80.2" cy="153.0" r="1.55"/><circle cx="84.7" cy="153.0" r="1.55"/><circle cx="89.1" cy="153.0" r="1.55"/><circle cx="93.6" cy="153.0" r="1.55"/><circle cx="98.1" cy="153.0" r="1.55"/><circle cx="102.6" cy="153.0" r="1.55"/><circle cx="107.0" cy="153.0" r="1.55"/><circle cx="111.5" cy="153.0" r="1.55"/><circle cx="116.0" cy="153.0" r="1.55"/><circle cx="120.4" cy="153.0" r="1.55"/><circle cx="124.9" cy="153.0" r="1.55"/><circle cx="129.4" cy="153.0" r="1.55"/><circle cx="133.8" cy="153.0" r="1.55"/><circle cx="138.3" cy="153.0" r="1.55"/><circle cx="142.8" cy="153.0" r="1.55"/><circle cx="147.3" cy="153.0" r="1.55"/><circle cx="151.7" cy="153.0" r="1.55"/><circle cx="156.2" cy="153.0" r="1.55"/><circle cx="66.8" cy="159.4" r="1.55"/><circle cx="71.3" cy="159.4" r="1.55"/><circle cx="75.7" cy="159.4" r="1.55"/><circle cx="80.2" cy="159.4" r="1.55"/><circle cx="84.7" cy="159.4" r="1.55"/><circle cx="89.1" cy="159.4" r="1.55"/><circle cx="93.6" cy="159.4" r="1.55"/><circle cx="98.1" cy="159.4" r="1.55"/><circle cx="102.6" cy="159.4" r="1.55"/><circle cx="107.0" cy="159.4" r="1.55"/><circle cx="111.5" cy="159.4" r="1.55"/><circle cx="116.0" cy="159.4" r="1.55"/><circle cx="120.4" cy="159.4" r="1.55"/><circle cx="124.9" cy="159.4" r="1.55"/><circle cx="129.4" cy="159.4" r="1.55"/><circle cx="133.8" cy="159.4" r="1.55"/><circle cx="138.3" cy="159.4" r="1.55"/><circle cx="142.8" cy="159.4" r="1.55"/><circle cx="147.3" cy="159.4" r="1.55"/><circle cx="151.7" cy="159.4" r="1.55"/><circle cx="156.2" cy="159.4" r="1.55"/><circle cx="66.8" cy="165.8" r="1.55"/><circle cx="71.3" cy="165.8" r="1.55"/><circle cx="75.7" cy="165.8" r="1.55"/><circle cx="80.2" cy="165.8" r="1.55"/><circle cx="84.7" cy="165.8" r="1.55"/><circle cx="89.1" cy="165.8" r="1.55"/><circle cx="93.6" cy="165.8" r="1.55"/><circle cx="98.1" cy="165.8" r="1.55"/><circle cx="102.6" cy="165.8" r="1.55"/><circle cx="107.0" cy="165.8" r="1.55"/><circle cx="111.5" cy="165.8" r="1.55"/><circle cx="116.0" cy="165.8" r="1.55"/><circle cx="120.4" cy="165.8" r="1.55"/><circle cx="124.9" cy="165.8" r="1.55"/><circle cx="129.4" cy="165.8" r="1.55"/><circle cx="133.8" cy="165.8" r="1.55"/><circle cx="138.3" cy="165.8" r="1.55"/><circle cx="142.8" cy="165.8" r="1.55"/><circle cx="147.3" cy="165.8" r="1.55"/><circle cx="151.7" cy="165.8" r="1.55"/><circle cx="156.2" cy="165.8" r="1.55"/><circle cx="66.8" cy="172.2" r="1.55"/><circle cx="71.3" cy="172.2" r="1.55"/><circle cx="75.7" cy="172.2" r="1.55"/><circle cx="80.2" cy="172.2" r="1.55"/><circle cx="84.7" cy="172.2" r="1.55"/><circle cx="89.1" cy="172.2" r="1.55"/><circle cx="93.6" cy="172.2" r="1.55"/><circle cx="98.1" cy="172.2" r="1.55"/><circle cx="102.6" cy="172.2" r="1.55"/><circle cx="107.0" cy="172.2" r="1.55"/><circle cx="111.5" cy="172.2" r="1.55"/><circle cx="116.0" cy="172.2" r="1.55"/><circle cx="120.4" cy="172.2" r="1.55"/><circle cx="124.9" cy="172.2" r="1.55"/><circle cx="129.4" cy="172.2" r="1.55"/><circle cx="133.8" cy="172.2" r="1.55"/><circle cx="138.3" cy="172.2" r="1.55"/><circle cx="142.8" cy="172.2" r="1.55"/><circle cx="147.3" cy="172.2" r="1.55"/><circle cx="151.7" cy="172.2" r="1.55"/><circle cx="156.2" cy="172.2" r="1.55"/><circle cx="66.8" cy="178.6" r="1.55"/><circle cx="71.3" cy="178.6" r="1.55"/><circle cx="75.7" cy="178.6" r="1.55"/><circle cx="80.2" cy="178.6" r="1.55"/><circle cx="84.7" cy="178.6" r="1.55"/><circle cx="89.1" cy="178.6" r="1.55"/><circle cx="93.6" cy="178.6" r="1.55"/><circle cx="124.9" cy="178.6" r="1.55"/><circle cx="129.4" cy="178.6" r="1.55"/><circle cx="133.8" cy="178.6" r="1.55"/><circle cx="138.3" cy="178.6" r="1.55"/><circle cx="142.8" cy="178.6" r="1.55"/><circle cx="147.3" cy="178.6" r="1.55"/><circle cx="151.7" cy="178.6" r="1.55"/><circle cx="156.2" cy="178.6" r="1.55"/><circle cx="66.8" cy="185.0" r="1.55"/><circle cx="71.3" cy="185.0" r="1.55"/><circle cx="75.7" cy="185.0" r="1.55"/><circle cx="80.2" cy="185.0" r="1.55"/><circle cx="84.7" cy="185.0" r="1.55"/><circle cx="89.1" cy="185.0" r="1.55"/><circle cx="129.4" cy="185.0" r="1.55"/><circle cx="133.8" cy="185.0" r="1.55"/><circle cx="138.3" cy="185.0" r="1.55"/><circle cx="142.8" cy="185.0" r="1.55"/><circle cx="147.3" cy="185.0" r="1.55"/><circle cx="151.7" cy="185.0" r="1.55"/><circle cx="156.2" cy="185.0" r="1.55"/><circle cx="66.8" cy="191.4" r="1.55"/><circle cx="71.3" cy="191.4" r="1.55"/><circle cx="75.7" cy="191.4" r="1.55"/><circle cx="80.2" cy="191.4" r="1.55"/><circle cx="84.7" cy="191.4" r="1.55"/><circle cx="89.1" cy="191.4" r="1.55"/><circle cx="129.4" cy="191.4" r="1.55"/><circle cx="133.8" cy="191.4" r="1.55"/><circle cx="138.3" cy="191.4" r="1.55"/><circle cx="142.8" cy="191.4" r="1.55"/><circle cx="147.3" cy="191.4" r="1.55"/><circle cx="151.7" cy="191.4" r="1.55"/><circle cx="156.2" cy="191.4" r="1.55"/><circle cx="66.8" cy="197.8" r="1.55"/><circle cx="71.3" cy="197.8" r="1.55"/><circle cx="75.7" cy="197.8" r="1.55"/><circle cx="80.2" cy="197.8" r="1.55"/><circle cx="84.7" cy="197.8" r="1.55"/><circle cx="89.1" cy="197.8" r="1.55"/><circle cx="129.4" cy="197.8" r="1.55"/><circle cx="133.8" cy="197.8" r="1.55"/><circle cx="138.3" cy="197.8" r="1.55"/><circle cx="142.8" cy="197.8" r="1.55"/><circle cx="147.3" cy="197.8" r="1.55"/><circle cx="151.7" cy="197.8" r="1.55"/><circle cx="156.2" cy="197.8" r="1.55"/><circle cx="66.8" cy="204.2" r="1.55"/><circle cx="71.3" cy="204.2" r="1.55"/><circle cx="75.7" cy="204.2" r="1.55"/><circle cx="80.2" cy="204.2" r="1.55"/><circle cx="84.7" cy="204.2" r="1.55"/><circle cx="89.1" cy="204.2" r="1.55"/><circle cx="93.6" cy="204.2" r="1.55"/><circle cx="124.9" cy="204.2" r="1.55"/><circle cx="129.4" cy="204.2" r="1.55"/><circle cx="133.8" cy="204.2" r="1.55"/><circle cx="138.3" cy="204.2" r="1.55"/><circle cx="142.8" cy="204.2" r="1.55"/><circle cx="147.3" cy="204.2" r="1.55"/><circle cx="151.7" cy="204.2" r="1.55"/><circle cx="156.2" cy="204.2" r="1.55"/><circle cx="66.8" cy="210.6" r="1.55"/><circle cx="71.3" cy="210.6" r="1.55"/><circle cx="75.7" cy="210.6" r="1.55"/><circle cx="80.2" cy="210.6" r="1.55"/><circle cx="84.7" cy="210.6" r="1.55"/><circle cx="89.1" cy="210.6" r="1.55"/><circle cx="93.6" cy="210.6" r="1.55"/><circle cx="98.1" cy="210.6" r="1.55"/><circle cx="102.6" cy="210.6" r="1.55"/><circle cx="107.0" cy="210.6" r="1.55"/><circle cx="111.5" cy="210.6" r="1.55"/><circle cx="116.0" cy="210.6" r="1.55"/><circle cx="120.4" cy="210.6" r="1.55"/><circle cx="124.9" cy="210.6" r="1.55"/><circle cx="129.4" cy="210.6" r="1.55"/><circle cx="133.8" cy="210.6" r="1.55"/><circle cx="138.3" cy="210.6" r="1.55"/><circle cx="142.8" cy="210.6" r="1.55"/><circle cx="147.3" cy="210.6" r="1.55"/><circle cx="151.7" cy="210.6" r="1.55"/><circle cx="156.2" cy="210.6" r="1.55"/><circle cx="66.8" cy="217.0" r="1.55"/><circle cx="71.3" cy="217.0" r="1.55"/><circle cx="75.7" cy="217.0" r="1.55"/><circle cx="80.2" cy="217.0" r="1.55"/><circle cx="84.7" cy="217.0" r="1.55"/><circle cx="89.1" cy="217.0" r="1.55"/><circle cx="93.6" cy="217.0" r="1.55"/><circle cx="98.1" cy="217.0" r="1.55"/><circle cx="102.6" cy="217.0" r="1.55"/><circle cx="107.0" cy="217.0" r="1.55"/><circle cx="111.5" cy="217.0" r="1.55"/><circle cx="116.0" cy="217.0" r="1.55"/><circle cx="120.4" cy="217.0" r="1.55"/><circle cx="124.9" cy="217.0" r="1.55"/><circle cx="129.4" cy="217.0" r="1.55"/><circle cx="133.8" cy="217.0" r="1.55"/><circle cx="138.3" cy="217.0" r="1.55"/><circle cx="142.8" cy="217.0" r="1.55"/><circle cx="147.3" cy="217.0" r="1.55"/><circle cx="151.7" cy="217.0" r="1.55"/><circle cx="156.2" cy="217.0" r="1.55"/><circle cx="66.8" cy="223.4" r="1.55"/><circle cx="71.3" cy="223.4" r="1.55"/><circle cx="75.7" cy="223.4" r="1.55"/><circle cx="80.2" cy="223.4" r="1.55"/><circle cx="84.7" cy="223.4" r="1.55"/><circle cx="89.1" cy="223.4" r="1.55"/><circle cx="93.6" cy="223.4" r="1.55"/><circle cx="98.1" cy="223.4" r="1.55"/><circle cx="102.6" cy="223.4" r="1.55"/><circle cx="107.0" cy="223.4" r="1.55"/><circle cx="111.5" cy="223.4" r="1.55"/><circle cx="116.0" cy="223.4" r="1.55"/><circle cx="120.4" cy="223.4" r="1.55"/><circle cx="124.9" cy="223.4" r="1.55"/><circle cx="129.4" cy="223.4" r="1.55"/><circle cx="133.8" cy="223.4" r="1.55"/><circle cx="138.3" cy="223.4" r="1.55"/><circle cx="142.8" cy="223.4" r="1.55"/><circle cx="147.3" cy="223.4" r="1.55"/><circle cx="151.7" cy="223.4" r="1.55"/><circle cx="156.2" cy="223.4" r="1.55"/><circle cx="66.8" cy="229.8" r="1.55"/><circle cx="71.3" cy="229.8" r="1.55"/><circle cx="75.7" cy="229.8" r="1.55"/><circle cx="80.2" cy="229.8" r="1.55"/><circle cx="84.7" cy="229.8" r="1.55"/><circle cx="89.1" cy="229.8" r="1.55"/><circle cx="93.6" cy="229.8" r="1.55"/><circle cx="98.1" cy="229.8" r="1.55"/><circle cx="102.6" cy="229.8" r="1.55"/><circle cx="107.0" cy="229.8" r="1.55"/><circle cx="111.5" cy="229.8" r="1.55"/><circle cx="116.0" cy="229.8" r="1.55"/><circle cx="120.4" cy="229.8" r="1.55"/><circle cx="124.9" cy="229.8" r="1.55"/><circle cx="129.4" cy="229.8" r="1.55"/><circle cx="133.8" cy="229.8" r="1.55"/><circle cx="138.3" cy="229.8" r="1.55"/><circle cx="142.8" cy="229.8" r="1.55"/><circle cx="147.3" cy="229.8" r="1.55"/><circle cx="151.7" cy="229.8" r="1.55"/><circle cx="156.2" cy="229.8" r="1.55"/><circle cx="66.8" cy="236.2" r="1.55"/><circle cx="71.3" cy="236.2" r="1.55"/><circle cx="75.7" cy="236.2" r="1.55"/><circle cx="80.2" cy="236.2" r="1.55"/><circle cx="84.7" cy="236.2" r="1.55"/><circle cx="89.1" cy="236.2" r="1.55"/><circle cx="93.6" cy="236.2" r="1.55"/><circle cx="98.1" cy="236.2" r="1.55"/><circle cx="102.6" cy="236.2" r="1.55"/><circle cx="107.0" cy="236.2" r="1.55"/><circle cx="111.5" cy="236.2" r="1.55"/><circle cx="116.0" cy="236.2" r="1.55"/><circle cx="120.4" cy="236.2" r="1.55"/><circle cx="124.9" cy="236.2" r="1.55"/><circle cx="129.4" cy="236.2" r="1.55"/><circle cx="133.8" cy="236.2" r="1.55"/><circle cx="138.3" cy="236.2" r="1.55"/><circle cx="142.8" cy="236.2" r="1.55"/><circle cx="147.3" cy="236.2" r="1.55"/><circle cx="151.7" cy="236.2" r="1.55"/><circle cx="156.2" cy="236.2" r="1.55"/><circle cx="66.8" cy="242.6" r="1.55"/><circle cx="71.3" cy="242.6" r="1.55"/><circle cx="75.7" cy="242.6" r="1.55"/><circle cx="80.2" cy="242.6" r="1.55"/><circle cx="84.7" cy="242.6" r="1.55"/><circle cx="89.1" cy="242.6" r="1.55"/><circle cx="93.6" cy="242.6" r="1.55"/><circle cx="98.1" cy="242.6" r="1.55"/><circle cx="102.6" cy="242.6" r="1.55"/><circle cx="107.0" cy="242.6" r="1.55"/><circle cx="111.5" cy="242.6" r="1.55"/><circle cx="116.0" cy="242.6" r="1.55"/><circle cx="120.4" cy="242.6" r="1.55"/><circle cx="124.9" cy="242.6" r="1.55"/><circle cx="129.4" cy="242.6" r="1.55"/><circle cx="133.8" cy="242.6" r="1.55"/><circle cx="138.3" cy="242.6" r="1.55"/><circle cx="142.8" cy="242.6" r="1.55"/><circle cx="147.3" cy="242.6" r="1.55"/><circle cx="151.7" cy="242.6" r="1.55"/><circle cx="156.2" cy="242.6" r="1.55"/></g>
<g fill="#07c03a"><circle cx="69.0" cy="149.8" r="1.55"/><circle cx="73.5" cy="149.8" r="1.55"/><circle cx="78.0" cy="149.8" r="1.55"/><circle cx="82.4" cy="149.8" r="1.55"/><circle cx="86.9" cy="149.8" r="1.55"/><circle cx="91.4" cy="149.8" r="1.55"/><circle cx="95.9" cy="149.8" r="1.55"/><circle cx="100.3" cy="149.8" r="1.55"/><circle cx="104.8" cy="149.8" r="1.55"/><circle cx="109.3" cy="149.8" r="1.55"/><circle cx="113.7" cy="149.8" r="1.55"/><circle cx="118.2" cy="149.8" r="1.55"/><circle cx="122.7" cy="149.8" r="1.55"/><circle cx="127.1" cy="149.8" r="1.55"/><circle cx="131.6" cy="149.8" r="1.55"/><circle cx="136.1" cy="149.8" r="1.55"/><circle cx="140.6" cy="149.8" r="1.55"/><circle cx="145.0" cy="149.8" r="1.55"/><circle cx="149.5" cy="149.8" r="1.55"/><circle cx="154.0" cy="149.8" r="1.55"/><circle cx="158.4" cy="149.8" r="1.55"/><circle cx="69.0" cy="156.2" r="1.55"/><circle cx="73.5" cy="156.2" r="1.55"/><circle cx="78.0" cy="156.2" r="1.55"/><circle cx="82.4" cy="156.2" r="1.55"/><circle cx="86.9" cy="156.2" r="1.55"/><circle cx="91.4" cy="156.2" r="1.55"/><circle cx="95.9" cy="156.2" r="1.55"/><circle cx="100.3" cy="156.2" r="1.55"/><circle cx="104.8" cy="156.2" r="1.55"/><circle cx="109.3" cy="156.2" r="1.55"/><circle cx="113.7" cy="156.2" r="1.55"/><circle cx="118.2" cy="156.2" r="1.55"/><circle cx="122.7" cy="156.2" r="1.55"/><circle cx="127.1" cy="156.2" r="1.55"/><circle cx="131.6" cy="156.2" r="1.55"/><circle cx="136.1" cy="156.2" r="1.55"/><circle cx="140.6" cy="156.2" r="1.55"/><circle cx="145.0" cy="156.2" r="1.55"/><circle cx="149.5" cy="156.2" r="1.55"/><circle cx="154.0" cy="156.2" r="1.55"/><circle cx="158.4" cy="156.2" r="1.55"/><circle cx="69.0" cy="162.6" r="1.55"/><circle cx="73.5" cy="162.6" r="1.55"/><circle cx="78.0" cy="162.6" r="1.55"/><circle cx="82.4" cy="162.6" r="1.55"/><circle cx="86.9" cy="162.6" r="1.55"/><circle cx="91.4" cy="162.6" r="1.55"/><circle cx="95.9" cy="162.6" r="1.55"/><circle cx="100.3" cy="162.6" r="1.55"/><circle cx="104.8" cy="162.6" r="1.55"/><circle cx="109.3" cy="162.6" r="1.55"/><circle cx="113.7" cy="162.6" r="1.55"/><circle cx="118.2" cy="162.6" r="1.55"/><circle cx="122.7" cy="162.6" r="1.55"/><circle cx="127.1" cy="162.6" r="1.55"/><circle cx="131.6" cy="162.6" r="1.55"/><circle cx="136.1" cy="162.6" r="1.55"/><circle cx="140.6" cy="162.6" r="1.55"/><circle cx="145.0" cy="162.6" r="1.55"/><circle cx="149.5" cy="162.6" r="1.55"/><circle cx="154.0" cy="162.6" r="1.55"/><circle cx="158.4" cy="162.6" r="1.55"/><circle cx="69.0" cy="169.0" r="1.55"/><circle cx="73.5" cy="169.0" r="1.55"/><circle cx="78.0" cy="169.0" r="1.55"/><circle cx="82.4" cy="169.0" r="1.55"/><circle cx="86.9" cy="169.0" r="1.55"/><circle cx="91.4" cy="169.0" r="1.55"/><circle cx="95.9" cy="169.0" r="1.55"/><circle cx="100.3" cy="169.0" r="1.55"/><circle cx="104.8" cy="169.0" r="1.55"/><circle cx="109.3" cy="169.0" r="1.55"/><circle cx="113.7" cy="169.0" r="1.55"/><circle cx="118.2" cy="169.0" r="1.55"/><circle cx="122.7" cy="169.0" r="1.55"/><circle cx="127.1" cy="169.0" r="1.55"/><circle cx="131.6" cy="169.0" r="1.55"/><circle cx="136.1" cy="169.0" r="1.55"/><circle cx="140.6" cy="169.0" r="1.55"/><circle cx="145.0" cy="169.0" r="1.55"/><circle cx="149.5" cy="169.0" r="1.55"/><circle cx="154.0" cy="169.0" r="1.55"/><circle cx="158.4" cy="169.0" r="1.55"/><circle cx="69.0" cy="175.4" r="1.55"/><circle cx="73.5" cy="175.4" r="1.55"/><circle cx="78.0" cy="175.4" r="1.55"/><circle cx="82.4" cy="175.4" r="1.55"/><circle cx="86.9" cy="175.4" r="1.55"/><circle cx="91.4" cy="175.4" r="1.55"/><circle cx="95.9" cy="175.4" r="1.55"/><circle cx="122.7" cy="175.4" r="1.55"/><circle cx="127.1" cy="175.4" r="1.55"/><circle cx="131.6" cy="175.4" r="1.55"/><circle cx="136.1" cy="175.4" r="1.55"/><circle cx="140.6" cy="175.4" r="1.55"/><circle cx="145.0" cy="175.4" r="1.55"/><circle cx="149.5" cy="175.4" r="1.55"/><circle cx="154.0" cy="175.4" r="1.55"/><circle cx="158.4" cy="175.4" r="1.55"/><circle cx="69.0" cy="181.8" r="1.55"/><circle cx="73.5" cy="181.8" r="1.55"/><circle cx="78.0" cy="181.8" r="1.55"/><circle cx="82.4" cy="181.8" r="1.55"/><circle cx="86.9" cy="181.8" r="1.55"/><circle cx="91.4" cy="181.8" r="1.55"/><circle cx="127.1" cy="181.8" r="1.55"/><circle cx="131.6" cy="181.8" r="1.55"/><circle cx="136.1" cy="181.8" r="1.55"/><circle cx="140.6" cy="181.8" r="1.55"/><circle cx="145.0" cy="181.8" r="1.55"/><circle cx="149.5" cy="181.8" r="1.55"/><circle cx="154.0" cy="181.8" r="1.55"/><circle cx="158.4" cy="181.8" r="1.55"/><circle cx="69.0" cy="188.2" r="1.55"/><circle cx="73.5" cy="188.2" r="1.55"/><circle cx="78.0" cy="188.2" r="1.55"/><circle cx="82.4" cy="188.2" r="1.55"/><circle cx="86.9" cy="188.2" r="1.55"/><circle cx="131.6" cy="188.2" r="1.55"/><circle cx="136.1" cy="188.2" r="1.55"/><circle cx="140.6" cy="188.2" r="1.55"/><circle cx="145.0" cy="188.2" r="1.55"/><circle cx="149.5" cy="188.2" r="1.55"/><circle cx="154.0" cy="188.2" r="1.55"/><circle cx="158.4" cy="188.2" r="1.55"/><circle cx="69.0" cy="194.6" r="1.55"/><circle cx="73.5" cy="194.6" r="1.55"/><circle cx="78.0" cy="194.6" r="1.55"/><circle cx="82.4" cy="194.6" r="1.55"/><circle cx="86.9" cy="194.6" r="1.55"/><circle cx="131.6" cy="194.6" r="1.55"/><circle cx="136.1" cy="194.6" r="1.55"/><circle cx="140.6" cy="194.6" r="1.55"/><circle cx="145.0" cy="194.6" r="1.55"/><circle cx="149.5" cy="194.6" r="1.55"/><circle cx="154.0" cy="194.6" r="1.55"/><circle cx="158.4" cy="194.6" r="1.55"/><circle cx="69.0" cy="201.0" r="1.55"/><circle cx="73.5" cy="201.0" r="1.55"/><circle cx="78.0" cy="201.0" r="1.55"/><circle cx="82.4" cy="201.0" r="1.55"/><circle cx="86.9" cy="201.0" r="1.55"/><circle cx="91.4" cy="201.0" r="1.55"/><circle cx="127.1" cy="201.0" r="1.55"/><circle cx="131.6" cy="201.0" r="1.55"/><circle cx="136.1" cy="201.0" r="1.55"/><circle cx="140.6" cy="201.0" r="1.55"/><circle cx="145.0" cy="201.0" r="1.55"/><circle cx="149.5" cy="201.0" r="1.55"/><circle cx="154.0" cy="201.0" r="1.55"/><circle cx="158.4" cy="201.0" r="1.55"/><circle cx="69.0" cy="207.4" r="1.55"/><circle cx="73.5" cy="207.4" r="1.55"/><circle cx="78.0" cy="207.4" r="1.55"/><circle cx="82.4" cy="207.4" r="1.55"/><circle cx="86.9" cy="207.4" r="1.55"/><circle cx="91.4" cy="207.4" r="1.55"/><circle cx="95.9" cy="207.4" r="1.55"/><circle cx="100.3" cy="207.4" r="1.55"/><circle cx="118.2" cy="207.4" r="1.55"/><circle cx="122.7" cy="207.4" r="1.55"/><circle cx="127.1" cy="207.4" r="1.55"/><circle cx="131.6" cy="207.4" r="1.55"/><circle cx="136.1" cy="207.4" r="1.55"/><circle cx="140.6" cy="207.4" r="1.55"/><circle cx="145.0" cy="207.4" r="1.55"/><circle cx="149.5" cy="207.4" r="1.55"/><circle cx="154.0" cy="207.4" r="1.55"/><circle cx="158.4" cy="207.4" r="1.55"/><circle cx="69.0" cy="213.8" r="1.55"/><circle cx="73.5" cy="213.8" r="1.55"/><circle cx="78.0" cy="213.8" r="1.55"/><circle cx="82.4" cy="213.8" r="1.55"/><circle cx="86.9" cy="213.8" r="1.55"/><circle cx="91.4" cy="213.8" r="1.55"/><circle cx="95.9" cy="213.8" r="1.55"/><circle cx="100.3" cy="213.8" r="1.55"/><circle cx="104.8" cy="213.8" r="1.55"/><circle cx="109.3" cy="213.8" r="1.55"/><circle cx="113.7" cy="213.8" r="1.55"/><circle cx="118.2" cy="213.8" r="1.55"/><circle cx="122.7" cy="213.8" r="1.55"/><circle cx="127.1" cy="213.8" r="1.55"/><circle cx="131.6" cy="213.8" r="1.55"/><circle cx="136.1" cy="213.8" r="1.55"/><circle cx="140.6" cy="213.8" r="1.55"/><circle cx="145.0" cy="213.8" r="1.55"/><circle cx="149.5" cy="213.8" r="1.55"/><circle cx="154.0" cy="213.8" r="1.55"/><circle cx="158.4" cy="213.8" r="1.55"/><circle cx="69.0" cy="220.2" r="1.55"/><circle cx="73.5" cy="220.2" r="1.55"/><circle cx="78.0" cy="220.2" r="1.55"/><circle cx="82.4" cy="220.2" r="1.55"/><circle cx="86.9" cy="220.2" r="1.55"/><circle cx="91.4" cy="220.2" r="1.55"/><circle cx="95.9" cy="220.2" r="1.55"/><circle cx="100.3" cy="220.2" r="1.55"/><circle cx="104.8" cy="220.2" r="1.55"/><circle cx="109.3" cy="220.2" r="1.55"/><circle cx="113.7" cy="220.2" r="1.55"/><circle cx="118.2" cy="220.2" r="1.55"/><circle cx="122.7" cy="220.2" r="1.55"/><circle cx="127.1" cy="220.2" r="1.55"/><circle cx="131.6" cy="220.2" r="1.55"/><circle cx="136.1" cy="220.2" r="1.55"/><circle cx="140.6" cy="220.2" r="1.55"/><circle cx="145.0" cy="220.2" r="1.55"/><circle cx="149.5" cy="220.2" r="1.55"/><circle cx="154.0" cy="220.2" r="1.55"/><circle cx="158.4" cy="220.2" r="1.55"/><circle cx="69.0" cy="226.6" r="1.55"/><circle cx="73.5" cy="226.6" r="1.55"/><circle cx="78.0" cy="226.6" r="1.55"/><circle cx="82.4" cy="226.6" r="1.55"/><circle cx="86.9" cy="226.6" r="1.55"/><circle cx="91.4" cy="226.6" r="1.55"/><circle cx="95.9" cy="226.6" r="1.55"/><circle cx="100.3" cy="226.6" r="1.55"/><circle cx="104.8" cy="226.6" r="1.55"/><circle cx="109.3" cy="226.6" r="1.55"/><circle cx="113.7" cy="226.6" r="1.55"/><circle cx="118.2" cy="226.6" r="1.55"/><circle cx="122.7" cy="226.6" r="1.55"/><circle cx="127.1" cy="226.6" r="1.55"/><circle cx="131.6" cy="226.6" r="1.55"/><circle cx="136.1" cy="226.6" r="1.55"/><circle cx="140.6" cy="226.6" r="1.55"/><circle cx="145.0" cy="226.6" r="1.55"/><circle cx="149.5" cy="226.6" r="1.55"/><circle cx="154.0" cy="226.6" r="1.55"/><circle cx="158.4" cy="226.6" r="1.55"/><circle cx="69.0" cy="233.0" r="1.55"/><circle cx="73.5" cy="233.0" r="1.55"/><circle cx="78.0" cy="233.0" r="1.55"/><circle cx="82.4" cy="233.0" r="1.55"/><circle cx="86.9" cy="233.0" r="1.55"/><circle cx="91.4" cy="233.0" r="1.55"/><circle cx="95.9" cy="233.0" r="1.55"/><circle cx="100.3" cy="233.0" r="1.55"/><circle cx="104.8" cy="233.0" r="1.55"/><circle cx="109.3" cy="233.0" r="1.55"/><circle cx="113.7" cy="233.0" r="1.55"/><circle cx="118.2" cy="233.0" r="1.55"/><circle cx="122.7" cy="233.0" r="1.55"/><circle cx="127.1" cy="233.0" r="1.55"/><circle cx="131.6" cy="233.0" r="1.55"/><circle cx="136.1" cy="233.0" r="1.55"/><circle cx="140.6" cy="233.0" r="1.55"/><circle cx="145.0" cy="233.0" r="1.55"/><circle cx="149.5" cy="233.0" r="1.55"/><circle cx="154.0" cy="233.0" r="1.55"/><circle cx="158.4" cy="233.0" r="1.55"/><circle cx="69.0" cy="239.4" r="1.55"/><circle cx="73.5" cy="239.4" r="1.55"/><circle cx="78.0" cy="239.4" r="1.55"/><circle cx="82.4" cy="239.4" r="1.55"/><circle cx="86.9" cy="239.4" r="1.55"/><circle cx="91.4" cy="239.4" r="1.55"/><circle cx="95.9" cy="239.4" r="1.55"/><circle cx="100.3" cy="239.4" r="1.55"/><circle cx="104.8" cy="239.4" r="1.55"/><circle cx="109.3" cy="239.4" r="1.55"/><circle cx="113.7" cy="239.4" r="1.55"/><circle cx="118.2" cy="239.4" r="1.55"/><circle cx="122.7" cy="239.4" r="1.55"/><circle cx="127.1" cy="239.4" r="1.55"/><circle cx="131.6" cy="239.4" r="1.55"/><circle cx="136.1" cy="239.4" r="1.55"/><circle cx="140.6" cy="239.4" r="1.55"/><circle cx="145.0" cy="239.4" r="1.55"/><circle cx="149.5" cy="239.4" r="1.55"/><circle cx="154.0" cy="239.4" r="1.55"/><circle cx="158.4" cy="239.4" r="1.55"/></g>
<g fill="#fff" stroke="#9a9a9a" stroke-width="0.6"><circle cx="100.3" cy="175.4" r="1.1"/><circle cx="104.8" cy="175.4" r="1.1"/><circle cx="109.3" cy="175.4" r="1.1"/><circle cx="113.7" cy="175.4" r="1.1"/><circle cx="118.2" cy="175.4" r="1.1"/><circle cx="98.1" cy="178.6" r="1.1"/><circle cx="116.0" cy="178.6" r="1.1"/><circle cx="120.4" cy="178.6" r="1.1"/><circle cx="95.9" cy="181.8" r="1.1"/><circle cx="122.7" cy="181.8" r="1.1"/><circle cx="93.6" cy="185.0" r="1.1"/><circle cx="124.9" cy="185.0" r="1.1"/><circle cx="91.4" cy="188.2" r="1.1"/><circle cx="127.1" cy="188.2" r="1.1"/><circle cx="93.6" cy="191.4" r="1.1"/><circle cx="124.9" cy="191.4" r="1.1"/><circle cx="91.4" cy="194.6" r="1.1"/><circle cx="127.1" cy="194.6" r="1.1"/><circle cx="93.6" cy="197.8" r="1.1"/><circle cx="124.9" cy="197.8" r="1.1"/><circle cx="95.9" cy="201.0" r="1.1"/><circle cx="122.7" cy="201.0" r="1.1"/><circle cx="98.1" cy="204.2" r="1.1"/><circle cx="102.6" cy="204.2" r="1.1"/><circle cx="116.0" cy="204.2" r="1.1"/><circle cx="120.4" cy="204.2" r="1.1"/><circle cx="104.8" cy="207.4" r="1.1"/><circle cx="109.3" cy="207.4" r="1.1"/><circle cx="113.7" cy="207.4" r="1.1"/></g>
<path d="M119.21,190.80 L119.17,191.71 L119.05,192.61 L118.85,193.49 L118.58,194.36 L118.23,195.20 L117.81,196.00 L117.33,196.77 L116.77,197.49 L116.16,198.16 L115.49,198.77 L114.77,199.33 L114.00,199.81 L113.20,200.23 L112.36,200.58 L111.49,200.85 L110.61,201.05 L109.71,201.17 L108.80,201.21 L107.89,201.17 L106.99,201.05 L106.11,200.85 L105.24,200.58 L104.40,200.23 L103.60,199.81 L102.83,199.33 L102.11,198.77 L101.44,198.16 L100.83,197.49 L100.27,196.77 L99.79,196.00 L99.37,195.20 L99.02,194.36 L98.75,193.49 L98.55,192.61 L98.43,191.71 L98.39,190.80 L98.43,189.89 L98.55,188.99 L98.75,188.11 L99.02,187.24 L99.37,186.40 L99.79,185.60 L100.27,184.83 L100.83,184.11 L101.44,183.44 L102.11,182.83 L102.83,182.27 L103.60,181.79 L104.40,181.37 L105.24,181.02 L106.11,180.75 L106.99,180.55 L107.89,180.43 L108.80,180.39 L109.71,180.43 L110.61,180.55 L111.49,180.75 L112.36,181.02 L113.20,181.37 L114.00,181.79 L114.77,182.27 L115.49,182.83 L116.16,183.44 L116.77,184.11 L117.33,184.83 L117.81,185.60 L118.23,186.40 L118.58,187.24 L118.85,188.11 L119.05,188.99 L119.17,189.89Z" fill="none" stroke="#e43636" stroke-width="1.9" stroke-linejoin="round"/>
</g>
<clipPath id="c6"><rect x="177" y="127" width="113" height="113.4"/></clipPath>
<rect x="177" y="127" width="113" height="113.4" fill="#fff" stroke="#e4dede" stroke-width="0.8"/>
<g clip-path="url(#c6)">
<g fill="#1ee048"><circle cx="178.8" cy="128.6" r="1.55"/><circle cx="183.3" cy="128.6" r="1.55"/><circle cx="187.7" cy="128.6" r="1.55"/><circle cx="192.2" cy="128.6" r="1.55"/><circle cx="196.7" cy="128.6" r="1.55"/><circle cx="201.2" cy="128.6" r="1.55"/><circle cx="205.6" cy="128.6" r="1.55"/><circle cx="210.1" cy="128.6" r="1.55"/><circle cx="214.6" cy="128.6" r="1.55"/><circle cx="219.0" cy="128.6" r="1.55"/><circle cx="223.5" cy="128.6" r="1.55"/><circle cx="228.0" cy="128.6" r="1.55"/><circle cx="232.4" cy="128.6" r="1.55"/><circle cx="236.9" cy="128.6" r="1.55"/><circle cx="241.4" cy="128.6" r="1.55"/><circle cx="245.8" cy="128.6" r="1.55"/><circle cx="250.3" cy="128.6" r="1.55"/><circle cx="254.8" cy="128.6" r="1.55"/><circle cx="259.3" cy="128.6" r="1.55"/><circle cx="263.7" cy="128.6" r="1.55"/><circle cx="268.2" cy="128.6" r="1.55"/><circle cx="272.7" cy="128.6" r="1.55"/><circle cx="277.1" cy="128.6" r="1.55"/><circle cx="281.6" cy="128.6" r="1.55"/><circle cx="286.1" cy="128.6" r="1.55"/><circle cx="290.6" cy="128.6" r="1.55"/><circle cx="178.8" cy="135.0" r="1.55"/><circle cx="183.3" cy="135.0" r="1.55"/><circle cx="187.7" cy="135.0" r="1.55"/><circle cx="192.2" cy="135.0" r="1.55"/><circle cx="196.7" cy="135.0" r="1.55"/><circle cx="201.2" cy="135.0" r="1.55"/><circle cx="205.6" cy="135.0" r="1.55"/><circle cx="210.1" cy="135.0" r="1.55"/><circle cx="214.6" cy="135.0" r="1.55"/><circle cx="219.0" cy="135.0" r="1.55"/><circle cx="223.5" cy="135.0" r="1.55"/><circle cx="228.0" cy="135.0" r="1.55"/><circle cx="232.4" cy="135.0" r="1.55"/><circle cx="236.9" cy="135.0" r="1.55"/><circle cx="241.4" cy="135.0" r="1.55"/><circle cx="245.8" cy="135.0" r="1.55"/><circle cx="250.3" cy="135.0" r="1.55"/><circle cx="254.8" cy="135.0" r="1.55"/><circle cx="259.3" cy="135.0" r="1.55"/><circle cx="263.7" cy="135.0" r="1.55"/><circle cx="268.2" cy="135.0" r="1.55"/><circle cx="272.7" cy="135.0" r="1.55"/><circle cx="277.1" cy="135.0" r="1.55"/><circle cx="281.6" cy="135.0" r="1.55"/><circle cx="286.1" cy="135.0" r="1.55"/><circle cx="290.6" cy="135.0" r="1.55"/><circle cx="178.8" cy="141.4" r="1.55"/><circle cx="183.3" cy="141.4" r="1.55"/><circle cx="187.7" cy="141.4" r="1.55"/><circle cx="192.2" cy="141.4" r="1.55"/><circle cx="196.7" cy="141.4" r="1.55"/><circle cx="201.2" cy="141.4" r="1.55"/><circle cx="205.6" cy="141.4" r="1.55"/><circle cx="210.1" cy="141.4" r="1.55"/><circle cx="214.6" cy="141.4" r="1.55"/><circle cx="219.0" cy="141.4" r="1.55"/><circle cx="223.5" cy="141.4" r="1.55"/><circle cx="228.0" cy="141.4" r="1.55"/><circle cx="232.4" cy="141.4" r="1.55"/><circle cx="236.9" cy="141.4" r="1.55"/><circle cx="241.4" cy="141.4" r="1.55"/><circle cx="245.8" cy="141.4" r="1.55"/><circle cx="250.3" cy="141.4" r="1.55"/><circle cx="254.8" cy="141.4" r="1.55"/><circle cx="259.3" cy="141.4" r="1.55"/><circle cx="263.7" cy="141.4" r="1.55"/><circle cx="268.2" cy="141.4" r="1.55"/><circle cx="272.7" cy="141.4" r="1.55"/><circle cx="277.1" cy="141.4" r="1.55"/><circle cx="281.6" cy="141.4" r="1.55"/><circle cx="286.1" cy="141.4" r="1.55"/><circle cx="290.6" cy="141.4" r="1.55"/><circle cx="178.8" cy="147.8" r="1.55"/><circle cx="183.3" cy="147.8" r="1.55"/><circle cx="187.7" cy="147.8" r="1.55"/><circle cx="192.2" cy="147.8" r="1.55"/><circle cx="196.7" cy="147.8" r="1.55"/><circle cx="201.2" cy="147.8" r="1.55"/><circle cx="205.6" cy="147.8" r="1.55"/><circle cx="210.1" cy="147.8" r="1.55"/><circle cx="214.6" cy="147.8" r="1.55"/><circle cx="219.0" cy="147.8" r="1.55"/><circle cx="223.5" cy="147.8" r="1.55"/><circle cx="228.0" cy="147.8" r="1.55"/><circle cx="232.4" cy="147.8" r="1.55"/><circle cx="236.9" cy="147.8" r="1.55"/><circle cx="241.4" cy="147.8" r="1.55"/><circle cx="245.8" cy="147.8" r="1.55"/><circle cx="250.3" cy="147.8" r="1.55"/><circle cx="254.8" cy="147.8" r="1.55"/><circle cx="259.3" cy="147.8" r="1.55"/><circle cx="263.7" cy="147.8" r="1.55"/><circle cx="268.2" cy="147.8" r="1.55"/><circle cx="272.7" cy="147.8" r="1.55"/><circle cx="277.1" cy="147.8" r="1.55"/><circle cx="281.6" cy="147.8" r="1.55"/><circle cx="286.1" cy="147.8" r="1.55"/><circle cx="290.6" cy="147.8" r="1.55"/><circle cx="178.8" cy="154.2" r="1.55"/><circle cx="183.3" cy="154.2" r="1.55"/><circle cx="187.7" cy="154.2" r="1.55"/><circle cx="192.2" cy="154.2" r="1.55"/><circle cx="196.7" cy="154.2" r="1.55"/><circle cx="201.2" cy="154.2" r="1.55"/><circle cx="205.6" cy="154.2" r="1.55"/><circle cx="210.1" cy="154.2" r="1.55"/><circle cx="214.6" cy="154.2" r="1.55"/><circle cx="219.0" cy="154.2" r="1.55"/><circle cx="223.5" cy="154.2" r="1.55"/><circle cx="228.0" cy="154.2" r="1.55"/><circle cx="232.4" cy="154.2" r="1.55"/><circle cx="236.9" cy="154.2" r="1.55"/><circle cx="241.4" cy="154.2" r="1.55"/><circle cx="245.8" cy="154.2" r="1.55"/><circle cx="250.3" cy="154.2" r="1.55"/><circle cx="254.8" cy="154.2" r="1.55"/><circle cx="259.3" cy="154.2" r="1.55"/><circle cx="263.7" cy="154.2" r="1.55"/><circle cx="268.2" cy="154.2" r="1.55"/><circle cx="272.7" cy="154.2" r="1.55"/><circle cx="277.1" cy="154.2" r="1.55"/><circle cx="281.6" cy="154.2" r="1.55"/><circle cx="286.1" cy="154.2" r="1.55"/><circle cx="290.6" cy="154.2" r="1.55"/><circle cx="178.8" cy="160.6" r="1.55"/><circle cx="183.3" cy="160.6" r="1.55"/><circle cx="187.7" cy="160.6" r="1.55"/><circle cx="192.2" cy="160.6" r="1.55"/><circle cx="196.7" cy="160.6" r="1.55"/><circle cx="201.2" cy="160.6" r="1.55"/><circle cx="205.6" cy="160.6" r="1.55"/><circle cx="210.1" cy="160.6" r="1.55"/><circle cx="214.6" cy="160.6" r="1.55"/><circle cx="219.0" cy="160.6" r="1.55"/><circle cx="223.5" cy="160.6" r="1.55"/><circle cx="245.8" cy="160.6" r="1.55"/><circle cx="250.3" cy="160.6" r="1.55"/><circle cx="254.8" cy="160.6" r="1.55"/><circle cx="259.3" cy="160.6" r="1.55"/><circle cx="263.7" cy="160.6" r="1.55"/><circle cx="268.2" cy="160.6" r="1.55"/><circle cx="272.7" cy="160.6" r="1.55"/><circle cx="277.1" cy="160.6" r="1.55"/><circle cx="281.6" cy="160.6" r="1.55"/><circle cx="286.1" cy="160.6" r="1.55"/><circle cx="290.6" cy="160.6" r="1.55"/><circle cx="178.8" cy="167.0" r="1.55"/><circle cx="183.3" cy="167.0" r="1.55"/><circle cx="187.7" cy="167.0" r="1.55"/><circle cx="192.2" cy="167.0" r="1.55"/><circle cx="196.7" cy="167.0" r="1.55"/><circle cx="201.2" cy="167.0" r="1.55"/><circle cx="205.6" cy="167.0" r="1.55"/><circle cx="210.1" cy="167.0" r="1.55"/><circle cx="214.6" cy="167.0" r="1.55"/><circle cx="254.8" cy="167.0" r="1.55"/><circle cx="259.3" cy="167.0" r="1.55"/><circle cx="263.7" cy="167.0" r="1.55"/><circle cx="268.2" cy="167.0" r="1.55"/><circle cx="272.7" cy="167.0" r="1.55"/><circle cx="277.1" cy="167.0" r="1.55"/><circle cx="281.6" cy="167.0" r="1.55"/><circle cx="286.1" cy="167.0" r="1.55"/><circle cx="290.6" cy="167.0" r="1.55"/><circle cx="178.8" cy="173.4" r="1.55"/><circle cx="183.3" cy="173.4" r="1.55"/><circle cx="187.7" cy="173.4" r="1.55"/><circle cx="192.2" cy="173.4" r="1.55"/><circle cx="196.7" cy="173.4" r="1.55"/><circle cx="201.2" cy="173.4" r="1.55"/><circle cx="205.6" cy="173.4" r="1.55"/><circle cx="210.1" cy="173.4" r="1.55"/><circle cx="259.3" cy="173.4" r="1.55"/><circle cx="263.7" cy="173.4" r="1.55"/><circle cx="268.2" cy="173.4" r="1.55"/><circle cx="272.7" cy="173.4" r="1.55"/><circle cx="277.1" cy="173.4" r="1.55"/><circle cx="281.6" cy="173.4" r="1.55"/><circle cx="286.1" cy="173.4" r="1.55"/><circle cx="290.6" cy="173.4" r="1.55"/><circle cx="178.8" cy="179.8" r="1.55"/><circle cx="183.3" cy="179.8" r="1.55"/><circle cx="187.7" cy="179.8" r="1.55"/><circle cx="192.2" cy="179.8" r="1.55"/><circle cx="196.7" cy="179.8" r="1.55"/><circle cx="201.2" cy="179.8" r="1.55"/><circle cx="205.6" cy="179.8" r="1.55"/><circle cx="210.1" cy="179.8" r="1.55"/><circle cx="259.3" cy="179.8" r="1.55"/><circle cx="263.7" cy="179.8" r="1.55"/><circle cx="268.2" cy="179.8" r="1.55"/><circle cx="272.7" cy="179.8" r="1.55"/><circle cx="277.1" cy="179.8" r="1.55"/><circle cx="281.6" cy="179.8" r="1.55"/><circle cx="286.1" cy="179.8" r="1.55"/><circle cx="290.6" cy="179.8" r="1.55"/><circle cx="178.8" cy="186.2" r="1.55"/><circle cx="183.3" cy="186.2" r="1.55"/><circle cx="187.7" cy="186.2" r="1.55"/><circle cx="192.2" cy="186.2" r="1.55"/><circle cx="196.7" cy="186.2" r="1.55"/><circle cx="201.2" cy="186.2" r="1.55"/><circle cx="205.6" cy="186.2" r="1.55"/><circle cx="210.1" cy="186.2" r="1.55"/><circle cx="259.3" cy="186.2" r="1.55"/><circle cx="263.7" cy="186.2" r="1.55"/><circle cx="268.2" cy="186.2" r="1.55"/><circle cx="272.7" cy="186.2" r="1.55"/><circle cx="277.1" cy="186.2" r="1.55"/><circle cx="281.6" cy="186.2" r="1.55"/><circle cx="286.1" cy="186.2" r="1.55"/><circle cx="290.6" cy="186.2" r="1.55"/><circle cx="178.8" cy="192.6" r="1.55"/><circle cx="183.3" cy="192.6" r="1.55"/><circle cx="187.7" cy="192.6" r="1.55"/><circle cx="192.2" cy="192.6" r="1.55"/><circle cx="196.7" cy="192.6" r="1.55"/><circle cx="201.2" cy="192.6" r="1.55"/><circle cx="205.6" cy="192.6" r="1.55"/><circle cx="210.1" cy="192.6" r="1.55"/><circle cx="259.3" cy="192.6" r="1.55"/><circle cx="263.7" cy="192.6" r="1.55"/><circle cx="268.2" cy="192.6" r="1.55"/><circle cx="272.7" cy="192.6" r="1.55"/><circle cx="277.1" cy="192.6" r="1.55"/><circle cx="281.6" cy="192.6" r="1.55"/><circle cx="286.1" cy="192.6" r="1.55"/><circle cx="290.6" cy="192.6" r="1.55"/><circle cx="178.8" cy="199.0" r="1.55"/><circle cx="183.3" cy="199.0" r="1.55"/><circle cx="187.7" cy="199.0" r="1.55"/><circle cx="192.2" cy="199.0" r="1.55"/><circle cx="196.7" cy="199.0" r="1.55"/><circle cx="201.2" cy="199.0" r="1.55"/><circle cx="205.6" cy="199.0" r="1.55"/><circle cx="210.1" cy="199.0" r="1.55"/><circle cx="214.6" cy="199.0" r="1.55"/><circle cx="254.8" cy="199.0" r="1.55"/><circle cx="259.3" cy="199.0" r="1.55"/><circle cx="263.7" cy="199.0" r="1.55"/><circle cx="268.2" cy="199.0" r="1.55"/><circle cx="272.7" cy="199.0" r="1.55"/><circle cx="277.1" cy="199.0" r="1.55"/><circle cx="281.6" cy="199.0" r="1.55"/><circle cx="286.1" cy="199.0" r="1.55"/><circle cx="290.6" cy="199.0" r="1.55"/><circle cx="178.8" cy="205.4" r="1.55"/><circle cx="183.3" cy="205.4" r="1.55"/><circle cx="187.7" cy="205.4" r="1.55"/><circle cx="192.2" cy="205.4" r="1.55"/><circle cx="196.7" cy="205.4" r="1.55"/><circle cx="201.2" cy="205.4" r="1.55"/><circle cx="205.6" cy="205.4" r="1.55"/><circle cx="210.1" cy="205.4" r="1.55"/><circle cx="214.6" cy="205.4" r="1.55"/><circle cx="219.0" cy="205.4" r="1.55"/><circle cx="223.5" cy="205.4" r="1.55"/><circle cx="241.4" cy="205.4" r="1.55"/><circle cx="245.8" cy="205.4" r="1.55"/><circle cx="250.3" cy="205.4" r="1.55"/><circle cx="254.8" cy="205.4" r="1.55"/><circle cx="259.3" cy="205.4" r="1.55"/><circle cx="263.7" cy="205.4" r="1.55"/><circle cx="268.2" cy="205.4" r="1.55"/><circle cx="272.7" cy="205.4" r="1.55"/><circle cx="277.1" cy="205.4" r="1.55"/><circle cx="281.6" cy="205.4" r="1.55"/><circle cx="286.1" cy="205.4" r="1.55"/><circle cx="290.6" cy="205.4" r="1.55"/><circle cx="178.8" cy="211.8" r="1.55"/><circle cx="183.3" cy="211.8" r="1.55"/><circle cx="187.7" cy="211.8" r="1.55"/><circle cx="192.2" cy="211.8" r="1.55"/><circle cx="196.7" cy="211.8" r="1.55"/><circle cx="201.2" cy="211.8" r="1.55"/><circle cx="205.6" cy="211.8" r="1.55"/><circle cx="210.1" cy="211.8" r="1.55"/><circle cx="214.6" cy="211.8" r="1.55"/><circle cx="219.0" cy="211.8" r="1.55"/><circle cx="223.5" cy="211.8" r="1.55"/><circle cx="228.0" cy="211.8" r="1.55"/><circle cx="232.4" cy="211.8" r="1.55"/><circle cx="236.9" cy="211.8" r="1.55"/><circle cx="241.4" cy="211.8" r="1.55"/><circle cx="245.8" cy="211.8" r="1.55"/><circle cx="250.3" cy="211.8" r="1.55"/><circle cx="254.8" cy="211.8" r="1.55"/><circle cx="259.3" cy="211.8" r="1.55"/><circle cx="263.7" cy="211.8" r="1.55"/><circle cx="268.2" cy="211.8" r="1.55"/><circle cx="272.7" cy="211.8" r="1.55"/><circle cx="277.1" cy="211.8" r="1.55"/><circle cx="281.6" cy="211.8" r="1.55"/><circle cx="286.1" cy="211.8" r="1.55"/><circle cx="290.6" cy="211.8" r="1.55"/><circle cx="178.8" cy="218.2" r="1.55"/><circle cx="183.3" cy="218.2" r="1.55"/><circle cx="187.7" cy="218.2" r="1.55"/><circle cx="192.2" cy="218.2" r="1.55"/><circle cx="196.7" cy="218.2" r="1.55"/><circle cx="201.2" cy="218.2" r="1.55"/><circle cx="205.6" cy="218.2" r="1.55"/><circle cx="210.1" cy="218.2" r="1.55"/><circle cx="214.6" cy="218.2" r="1.55"/><circle cx="219.0" cy="218.2" r="1.55"/><circle cx="223.5" cy="218.2" r="1.55"/><circle cx="228.0" cy="218.2" r="1.55"/><circle cx="232.4" cy="218.2" r="1.55"/><circle cx="236.9" cy="218.2" r="1.55"/><circle cx="241.4" cy="218.2" r="1.55"/><circle cx="245.8" cy="218.2" r="1.55"/><circle cx="250.3" cy="218.2" r="1.55"/><circle cx="254.8" cy="218.2" r="1.55"/><circle cx="259.3" cy="218.2" r="1.55"/><circle cx="263.7" cy="218.2" r="1.55"/><circle cx="268.2" cy="218.2" r="1.55"/><circle cx="272.7" cy="218.2" r="1.55"/><circle cx="277.1" cy="218.2" r="1.55"/><circle cx="281.6" cy="218.2" r="1.55"/><circle cx="286.1" cy="218.2" r="1.55"/><circle cx="290.6" cy="218.2" r="1.55"/><circle cx="178.8" cy="224.6" r="1.55"/><circle cx="183.3" cy="224.6" r="1.55"/><circle cx="187.7" cy="224.6" r="1.55"/><circle cx="192.2" cy="224.6" r="1.55"/><circle cx="196.7" cy="224.6" r="1.55"/><circle cx="201.2" cy="224.6" r="1.55"/><circle cx="205.6" cy="224.6" r="1.55"/><circle cx="210.1" cy="224.6" r="1.55"/><circle cx="214.6" cy="224.6" r="1.55"/><circle cx="219.0" cy="224.6" r="1.55"/><circle cx="223.5" cy="224.6" r="1.55"/><circle cx="228.0" cy="224.6" r="1.55"/><circle cx="232.4" cy="224.6" r="1.55"/><circle cx="236.9" cy="224.6" r="1.55"/><circle cx="241.4" cy="224.6" r="1.55"/><circle cx="245.8" cy="224.6" r="1.55"/><circle cx="250.3" cy="224.6" r="1.55"/><circle cx="254.8" cy="224.6" r="1.55"/><circle cx="259.3" cy="224.6" r="1.55"/><circle cx="263.7" cy="224.6" r="1.55"/><circle cx="268.2" cy="224.6" r="1.55"/><circle cx="272.7" cy="224.6" r="1.55"/><circle cx="277.1" cy="224.6" r="1.55"/><circle cx="281.6" cy="224.6" r="1.55"/><circle cx="286.1" cy="224.6" r="1.55"/><circle cx="290.6" cy="224.6" r="1.55"/><circle cx="178.8" cy="231.0" r="1.55"/><circle cx="183.3" cy="231.0" r="1.55"/><circle cx="187.7" cy="231.0" r="1.55"/><circle cx="192.2" cy="231.0" r="1.55"/><circle cx="196.7" cy="231.0" r="1.55"/><circle cx="201.2" cy="231.0" r="1.55"/><circle cx="205.6" cy="231.0" r="1.55"/><circle cx="210.1" cy="231.0" r="1.55"/><circle cx="214.6" cy="231.0" r="1.55"/><circle cx="219.0" cy="231.0" r="1.55"/><circle cx="223.5" cy="231.0" r="1.55"/><circle cx="228.0" cy="231.0" r="1.55"/><circle cx="232.4" cy="231.0" r="1.55"/><circle cx="236.9" cy="231.0" r="1.55"/><circle cx="241.4" cy="231.0" r="1.55"/><circle cx="245.8" cy="231.0" r="1.55"/><circle cx="250.3" cy="231.0" r="1.55"/><circle cx="254.8" cy="231.0" r="1.55"/><circle cx="259.3" cy="231.0" r="1.55"/><circle cx="263.7" cy="231.0" r="1.55"/><circle cx="268.2" cy="231.0" r="1.55"/><circle cx="272.7" cy="231.0" r="1.55"/><circle cx="277.1" cy="231.0" r="1.55"/><circle cx="281.6" cy="231.0" r="1.55"/><circle cx="286.1" cy="231.0" r="1.55"/><circle cx="290.6" cy="231.0" r="1.55"/><circle cx="178.8" cy="237.4" r="1.55"/><circle cx="183.3" cy="237.4" r="1.55"/><circle cx="187.7" cy="237.4" r="1.55"/><circle cx="192.2" cy="237.4" r="1.55"/><circle cx="196.7" cy="237.4" r="1.55"/><circle cx="201.2" cy="237.4" r="1.55"/><circle cx="205.6" cy="237.4" r="1.55"/><circle cx="210.1" cy="237.4" r="1.55"/><circle cx="214.6" cy="237.4" r="1.55"/><circle cx="219.0" cy="237.4" r="1.55"/><circle cx="223.5" cy="237.4" r="1.55"/><circle cx="228.0" cy="237.4" r="1.55"/><circle cx="232.4" cy="237.4" r="1.55"/><circle cx="236.9" cy="237.4" r="1.55"/><circle cx="241.4" cy="237.4" r="1.55"/><circle cx="245.8" cy="237.4" r="1.55"/><circle cx="250.3" cy="237.4" r="1.55"/><circle cx="254.8" cy="237.4" r="1.55"/><circle cx="259.3" cy="237.4" r="1.55"/><circle cx="263.7" cy="237.4" r="1.55"/><circle cx="268.2" cy="237.4" r="1.55"/><circle cx="272.7" cy="237.4" r="1.55"/><circle cx="277.1" cy="237.4" r="1.55"/><circle cx="281.6" cy="237.4" r="1.55"/><circle cx="286.1" cy="237.4" r="1.55"/><circle cx="290.6" cy="237.4" r="1.55"/></g>
<g fill="#07c03a"><circle cx="181.0" cy="131.8" r="1.55"/><circle cx="185.5" cy="131.8" r="1.55"/><circle cx="190.0" cy="131.8" r="1.55"/><circle cx="194.4" cy="131.8" r="1.55"/><circle cx="198.9" cy="131.8" r="1.55"/><circle cx="203.4" cy="131.8" r="1.55"/><circle cx="207.9" cy="131.8" r="1.55"/><circle cx="212.3" cy="131.8" r="1.55"/><circle cx="216.8" cy="131.8" r="1.55"/><circle cx="221.3" cy="131.8" r="1.55"/><circle cx="225.7" cy="131.8" r="1.55"/><circle cx="230.2" cy="131.8" r="1.55"/><circle cx="234.7" cy="131.8" r="1.55"/><circle cx="239.1" cy="131.8" r="1.55"/><circle cx="243.6" cy="131.8" r="1.55"/><circle cx="248.1" cy="131.8" r="1.55"/><circle cx="252.6" cy="131.8" r="1.55"/><circle cx="257.0" cy="131.8" r="1.55"/><circle cx="261.5" cy="131.8" r="1.55"/><circle cx="266.0" cy="131.8" r="1.55"/><circle cx="270.4" cy="131.8" r="1.55"/><circle cx="274.9" cy="131.8" r="1.55"/><circle cx="279.4" cy="131.8" r="1.55"/><circle cx="283.8" cy="131.8" r="1.55"/><circle cx="288.3" cy="131.8" r="1.55"/><circle cx="292.8" cy="131.8" r="1.55"/><circle cx="181.0" cy="138.2" r="1.55"/><circle cx="185.5" cy="138.2" r="1.55"/><circle cx="190.0" cy="138.2" r="1.55"/><circle cx="194.4" cy="138.2" r="1.55"/><circle cx="198.9" cy="138.2" r="1.55"/><circle cx="203.4" cy="138.2" r="1.55"/><circle cx="207.9" cy="138.2" r="1.55"/><circle cx="212.3" cy="138.2" r="1.55"/><circle cx="216.8" cy="138.2" r="1.55"/><circle cx="221.3" cy="138.2" r="1.55"/><circle cx="225.7" cy="138.2" r="1.55"/><circle cx="230.2" cy="138.2" r="1.55"/><circle cx="234.7" cy="138.2" r="1.55"/><circle cx="239.1" cy="138.2" r="1.55"/><circle cx="243.6" cy="138.2" r="1.55"/><circle cx="248.1" cy="138.2" r="1.55"/><circle cx="252.6" cy="138.2" r="1.55"/><circle cx="257.0" cy="138.2" r="1.55"/><circle cx="261.5" cy="138.2" r="1.55"/><circle cx="266.0" cy="138.2" r="1.55"/><circle cx="270.4" cy="138.2" r="1.55"/><circle cx="274.9" cy="138.2" r="1.55"/><circle cx="279.4" cy="138.2" r="1.55"/><circle cx="283.8" cy="138.2" r="1.55"/><circle cx="288.3" cy="138.2" r="1.55"/><circle cx="292.8" cy="138.2" r="1.55"/><circle cx="181.0" cy="144.6" r="1.55"/><circle cx="185.5" cy="144.6" r="1.55"/><circle cx="190.0" cy="144.6" r="1.55"/><circle cx="194.4" cy="144.6" r="1.55"/><circle cx="198.9" cy="144.6" r="1.55"/><circle cx="203.4" cy="144.6" r="1.55"/><circle cx="207.9" cy="144.6" r="1.55"/><circle cx="212.3" cy="144.6" r="1.55"/><circle cx="216.8" cy="144.6" r="1.55"/><circle cx="221.3" cy="144.6" r="1.55"/><circle cx="225.7" cy="144.6" r="1.55"/><circle cx="230.2" cy="144.6" r="1.55"/><circle cx="234.7" cy="144.6" r="1.55"/><circle cx="239.1" cy="144.6" r="1.55"/><circle cx="243.6" cy="144.6" r="1.55"/><circle cx="248.1" cy="144.6" r="1.55"/><circle cx="252.6" cy="144.6" r="1.55"/><circle cx="257.0" cy="144.6" r="1.55"/><circle cx="261.5" cy="144.6" r="1.55"/><circle cx="266.0" cy="144.6" r="1.55"/><circle cx="270.4" cy="144.6" r="1.55"/><circle cx="274.9" cy="144.6" r="1.55"/><circle cx="279.4" cy="144.6" r="1.55"/><circle cx="283.8" cy="144.6" r="1.55"/><circle cx="288.3" cy="144.6" r="1.55"/><circle cx="292.8" cy="144.6" r="1.55"/><circle cx="181.0" cy="151.0" r="1.55"/><circle cx="185.5" cy="151.0" r="1.55"/><circle cx="190.0" cy="151.0" r="1.55"/><circle cx="194.4" cy="151.0" r="1.55"/><circle cx="198.9" cy="151.0" r="1.55"/><circle cx="203.4" cy="151.0" r="1.55"/><circle cx="207.9" cy="151.0" r="1.55"/><circle cx="212.3" cy="151.0" r="1.55"/><circle cx="216.8" cy="151.0" r="1.55"/><circle cx="221.3" cy="151.0" r="1.55"/><circle cx="225.7" cy="151.0" r="1.55"/><circle cx="230.2" cy="151.0" r="1.55"/><circle cx="234.7" cy="151.0" r="1.55"/><circle cx="239.1" cy="151.0" r="1.55"/><circle cx="243.6" cy="151.0" r="1.55"/><circle cx="248.1" cy="151.0" r="1.55"/><circle cx="252.6" cy="151.0" r="1.55"/><circle cx="257.0" cy="151.0" r="1.55"/><circle cx="261.5" cy="151.0" r="1.55"/><circle cx="266.0" cy="151.0" r="1.55"/><circle cx="270.4" cy="151.0" r="1.55"/><circle cx="274.9" cy="151.0" r="1.55"/><circle cx="279.4" cy="151.0" r="1.55"/><circle cx="283.8" cy="151.0" r="1.55"/><circle cx="288.3" cy="151.0" r="1.55"/><circle cx="292.8" cy="151.0" r="1.55"/><circle cx="181.0" cy="157.4" r="1.55"/><circle cx="185.5" cy="157.4" r="1.55"/><circle cx="190.0" cy="157.4" r="1.55"/><circle cx="194.4" cy="157.4" r="1.55"/><circle cx="198.9" cy="157.4" r="1.55"/><circle cx="203.4" cy="157.4" r="1.55"/><circle cx="207.9" cy="157.4" r="1.55"/><circle cx="212.3" cy="157.4" r="1.55"/><circle cx="216.8" cy="157.4" r="1.55"/><circle cx="221.3" cy="157.4" r="1.55"/><circle cx="225.7" cy="157.4" r="1.55"/><circle cx="230.2" cy="157.4" r="1.55"/><circle cx="234.7" cy="157.4" r="1.55"/><circle cx="239.1" cy="157.4" r="1.55"/><circle cx="243.6" cy="157.4" r="1.55"/><circle cx="248.1" cy="157.4" r="1.55"/><circle cx="252.6" cy="157.4" r="1.55"/><circle cx="257.0" cy="157.4" r="1.55"/><circle cx="261.5" cy="157.4" r="1.55"/><circle cx="266.0" cy="157.4" r="1.55"/><circle cx="270.4" cy="157.4" r="1.55"/><circle cx="274.9" cy="157.4" r="1.55"/><circle cx="279.4" cy="157.4" r="1.55"/><circle cx="283.8" cy="157.4" r="1.55"/><circle cx="288.3" cy="157.4" r="1.55"/><circle cx="292.8" cy="157.4" r="1.55"/><circle cx="181.0" cy="163.8" r="1.55"/><circle cx="185.5" cy="163.8" r="1.55"/><circle cx="190.0" cy="163.8" r="1.55"/><circle cx="194.4" cy="163.8" r="1.55"/><circle cx="198.9" cy="163.8" r="1.55"/><circle cx="203.4" cy="163.8" r="1.55"/><circle cx="207.9" cy="163.8" r="1.55"/><circle cx="212.3" cy="163.8" r="1.55"/><circle cx="216.8" cy="163.8" r="1.55"/><circle cx="252.6" cy="163.8" r="1.55"/><circle cx="257.0" cy="163.8" r="1.55"/><circle cx="261.5" cy="163.8" r="1.55"/><circle cx="266.0" cy="163.8" r="1.55"/><circle cx="270.4" cy="163.8" r="1.55"/><circle cx="274.9" cy="163.8" r="1.55"/><circle cx="279.4" cy="163.8" r="1.55"/><circle cx="283.8" cy="163.8" r="1.55"/><circle cx="288.3" cy="163.8" r="1.55"/><circle cx="292.8" cy="163.8" r="1.55"/><circle cx="181.0" cy="170.2" r="1.55"/><circle cx="185.5" cy="170.2" r="1.55"/><circle cx="190.0" cy="170.2" r="1.55"/><circle cx="194.4" cy="170.2" r="1.55"/><circle cx="198.9" cy="170.2" r="1.55"/><circle cx="203.4" cy="170.2" r="1.55"/><circle cx="207.9" cy="170.2" r="1.55"/><circle cx="212.3" cy="170.2" r="1.55"/><circle cx="257.0" cy="170.2" r="1.55"/><circle cx="261.5" cy="170.2" r="1.55"/><circle cx="266.0" cy="170.2" r="1.55"/><circle cx="270.4" cy="170.2" r="1.55"/><circle cx="274.9" cy="170.2" r="1.55"/><circle cx="279.4" cy="170.2" r="1.55"/><circle cx="283.8" cy="170.2" r="1.55"/><circle cx="288.3" cy="170.2" r="1.55"/><circle cx="292.8" cy="170.2" r="1.55"/><circle cx="181.0" cy="176.6" r="1.55"/><circle cx="185.5" cy="176.6" r="1.55"/><circle cx="190.0" cy="176.6" r="1.55"/><circle cx="194.4" cy="176.6" r="1.55"/><circle cx="198.9" cy="176.6" r="1.55"/><circle cx="203.4" cy="176.6" r="1.55"/><circle cx="207.9" cy="176.6" r="1.55"/><circle cx="261.5" cy="176.6" r="1.55"/><circle cx="266.0" cy="176.6" r="1.55"/><circle cx="270.4" cy="176.6" r="1.55"/><circle cx="274.9" cy="176.6" r="1.55"/><circle cx="279.4" cy="176.6" r="1.55"/><circle cx="283.8" cy="176.6" r="1.55"/><circle cx="288.3" cy="176.6" r="1.55"/><circle cx="292.8" cy="176.6" r="1.55"/><circle cx="181.0" cy="183.0" r="1.55"/><circle cx="185.5" cy="183.0" r="1.55"/><circle cx="190.0" cy="183.0" r="1.55"/><circle cx="194.4" cy="183.0" r="1.55"/><circle cx="198.9" cy="183.0" r="1.55"/><circle cx="203.4" cy="183.0" r="1.55"/><circle cx="207.9" cy="183.0" r="1.55"/><circle cx="261.5" cy="183.0" r="1.55"/><circle cx="266.0" cy="183.0" r="1.55"/><circle cx="270.4" cy="183.0" r="1.55"/><circle cx="274.9" cy="183.0" r="1.55"/><circle cx="279.4" cy="183.0" r="1.55"/><circle cx="283.8" cy="183.0" r="1.55"/><circle cx="288.3" cy="183.0" r="1.55"/><circle cx="292.8" cy="183.0" r="1.55"/><circle cx="181.0" cy="189.4" r="1.55"/><circle cx="185.5" cy="189.4" r="1.55"/><circle cx="190.0" cy="189.4" r="1.55"/><circle cx="194.4" cy="189.4" r="1.55"/><circle cx="198.9" cy="189.4" r="1.55"/><circle cx="203.4" cy="189.4" r="1.55"/><circle cx="207.9" cy="189.4" r="1.55"/><circle cx="261.5" cy="189.4" r="1.55"/><circle cx="266.0" cy="189.4" r="1.55"/><circle cx="270.4" cy="189.4" r="1.55"/><circle cx="274.9" cy="189.4" r="1.55"/><circle cx="279.4" cy="189.4" r="1.55"/><circle cx="283.8" cy="189.4" r="1.55"/><circle cx="288.3" cy="189.4" r="1.55"/><circle cx="292.8" cy="189.4" r="1.55"/><circle cx="181.0" cy="195.8" r="1.55"/><circle cx="185.5" cy="195.8" r="1.55"/><circle cx="190.0" cy="195.8" r="1.55"/><circle cx="194.4" cy="195.8" r="1.55"/><circle cx="198.9" cy="195.8" r="1.55"/><circle cx="203.4" cy="195.8" r="1.55"/><circle cx="207.9" cy="195.8" r="1.55"/><circle cx="212.3" cy="195.8" r="1.55"/><circle cx="257.0" cy="195.8" r="1.55"/><circle cx="261.5" cy="195.8" r="1.55"/><circle cx="266.0" cy="195.8" r="1.55"/><circle cx="270.4" cy="195.8" r="1.55"/><circle cx="274.9" cy="195.8" r="1.55"/><circle cx="279.4" cy="195.8" r="1.55"/><circle cx="283.8" cy="195.8" r="1.55"/><circle cx="288.3" cy="195.8" r="1.55"/><circle cx="292.8" cy="195.8" r="1.55"/><circle cx="181.0" cy="202.2" r="1.55"/><circle cx="185.5" cy="202.2" r="1.55"/><circle cx="190.0" cy="202.2" r="1.55"/><circle cx="194.4" cy="202.2" r="1.55"/><circle cx="198.9" cy="202.2" r="1.55"/><circle cx="203.4" cy="202.2" r="1.55"/><circle cx="207.9" cy="202.2" r="1.55"/><circle cx="212.3" cy="202.2" r="1.55"/><circle cx="216.8" cy="202.2" r="1.55"/><circle cx="252.6" cy="202.2" r="1.55"/><circle cx="257.0" cy="202.2" r="1.55"/><circle cx="261.5" cy="202.2" r="1.55"/><circle cx="266.0" cy="202.2" r="1.55"/><circle cx="270.4" cy="202.2" r="1.55"/><circle cx="274.9" cy="202.2" r="1.55"/><circle cx="279.4" cy="202.2" r="1.55"/><circle cx="283.8" cy="202.2" r="1.55"/><circle cx="288.3" cy="202.2" r="1.55"/><circle cx="292.8" cy="202.2" r="1.55"/><circle cx="181.0" cy="208.6" r="1.55"/><circle cx="185.5" cy="208.6" r="1.55"/><circle cx="190.0" cy="208.6" r="1.55"/><circle cx="194.4" cy="208.6" r="1.55"/><circle cx="198.9" cy="208.6" r="1.55"/><circle cx="203.4" cy="208.6" r="1.55"/><circle cx="207.9" cy="208.6" r="1.55"/><circle cx="212.3" cy="208.6" r="1.55"/><circle cx="216.8" cy="208.6" r="1.55"/><circle cx="221.3" cy="208.6" r="1.55"/><circle cx="225.7" cy="208.6" r="1.55"/><circle cx="230.2" cy="208.6" r="1.55"/><circle cx="234.7" cy="208.6" r="1.55"/><circle cx="239.1" cy="208.6" r="1.55"/><circle cx="243.6" cy="208.6" r="1.55"/><circle cx="248.1" cy="208.6" r="1.55"/><circle cx="252.6" cy="208.6" r="1.55"/><circle cx="257.0" cy="208.6" r="1.55"/><circle cx="261.5" cy="208.6" r="1.55"/><circle cx="266.0" cy="208.6" r="1.55"/><circle cx="270.4" cy="208.6" r="1.55"/><circle cx="274.9" cy="208.6" r="1.55"/><circle cx="279.4" cy="208.6" r="1.55"/><circle cx="283.8" cy="208.6" r="1.55"/><circle cx="288.3" cy="208.6" r="1.55"/><circle cx="292.8" cy="208.6" r="1.55"/><circle cx="181.0" cy="215.0" r="1.55"/><circle cx="185.5" cy="215.0" r="1.55"/><circle cx="190.0" cy="215.0" r="1.55"/><circle cx="194.4" cy="215.0" r="1.55"/><circle cx="198.9" cy="215.0" r="1.55"/><circle cx="203.4" cy="215.0" r="1.55"/><circle cx="207.9" cy="215.0" r="1.55"/><circle cx="212.3" cy="215.0" r="1.55"/><circle cx="216.8" cy="215.0" r="1.55"/><circle cx="221.3" cy="215.0" r="1.55"/><circle cx="225.7" cy="215.0" r="1.55"/><circle cx="230.2" cy="215.0" r="1.55"/><circle cx="234.7" cy="215.0" r="1.55"/><circle cx="239.1" cy="215.0" r="1.55"/><circle cx="243.6" cy="215.0" r="1.55"/><circle cx="248.1" cy="215.0" r="1.55"/><circle cx="252.6" cy="215.0" r="1.55"/><circle cx="257.0" cy="215.0" r="1.55"/><circle cx="261.5" cy="215.0" r="1.55"/><circle cx="266.0" cy="215.0" r="1.55"/><circle cx="270.4" cy="215.0" r="1.55"/><circle cx="274.9" cy="215.0" r="1.55"/><circle cx="279.4" cy="215.0" r="1.55"/><circle cx="283.8" cy="215.0" r="1.55"/><circle cx="288.3" cy="215.0" r="1.55"/><circle cx="292.8" cy="215.0" r="1.55"/><circle cx="181.0" cy="221.4" r="1.55"/><circle cx="185.5" cy="221.4" r="1.55"/><circle cx="190.0" cy="221.4" r="1.55"/><circle cx="194.4" cy="221.4" r="1.55"/><circle cx="198.9" cy="221.4" r="1.55"/><circle cx="203.4" cy="221.4" r="1.55"/><circle cx="207.9" cy="221.4" r="1.55"/><circle cx="212.3" cy="221.4" r="1.55"/><circle cx="216.8" cy="221.4" r="1.55"/><circle cx="221.3" cy="221.4" r="1.55"/><circle cx="225.7" cy="221.4" r="1.55"/><circle cx="230.2" cy="221.4" r="1.55"/><circle cx="234.7" cy="221.4" r="1.55"/><circle cx="239.1" cy="221.4" r="1.55"/><circle cx="243.6" cy="221.4" r="1.55"/><circle cx="248.1" cy="221.4" r="1.55"/><circle cx="252.6" cy="221.4" r="1.55"/><circle cx="257.0" cy="221.4" r="1.55"/><circle cx="261.5" cy="221.4" r="1.55"/><circle cx="266.0" cy="221.4" r="1.55"/><circle cx="270.4" cy="221.4" r="1.55"/><circle cx="274.9" cy="221.4" r="1.55"/><circle cx="279.4" cy="221.4" r="1.55"/><circle cx="283.8" cy="221.4" r="1.55"/><circle cx="288.3" cy="221.4" r="1.55"/><circle cx="292.8" cy="221.4" r="1.55"/><circle cx="181.0" cy="227.8" r="1.55"/><circle cx="185.5" cy="227.8" r="1.55"/><circle cx="190.0" cy="227.8" r="1.55"/><circle cx="194.4" cy="227.8" r="1.55"/><circle cx="198.9" cy="227.8" r="1.55"/><circle cx="203.4" cy="227.8" r="1.55"/><circle cx="207.9" cy="227.8" r="1.55"/><circle cx="212.3" cy="227.8" r="1.55"/><circle cx="216.8" cy="227.8" r="1.55"/><circle cx="221.3" cy="227.8" r="1.55"/><circle cx="225.7" cy="227.8" r="1.55"/><circle cx="230.2" cy="227.8" r="1.55"/><circle cx="234.7" cy="227.8" r="1.55"/><circle cx="239.1" cy="227.8" r="1.55"/><circle cx="243.6" cy="227.8" r="1.55"/><circle cx="248.1" cy="227.8" r="1.55"/><circle cx="252.6" cy="227.8" r="1.55"/><circle cx="257.0" cy="227.8" r="1.55"/><circle cx="261.5" cy="227.8" r="1.55"/><circle cx="266.0" cy="227.8" r="1.55"/><circle cx="270.4" cy="227.8" r="1.55"/><circle cx="274.9" cy="227.8" r="1.55"/><circle cx="279.4" cy="227.8" r="1.55"/><circle cx="283.8" cy="227.8" r="1.55"/><circle cx="288.3" cy="227.8" r="1.55"/><circle cx="292.8" cy="227.8" r="1.55"/><circle cx="181.0" cy="234.2" r="1.55"/><circle cx="185.5" cy="234.2" r="1.55"/><circle cx="190.0" cy="234.2" r="1.55"/><circle cx="194.4" cy="234.2" r="1.55"/><circle cx="198.9" cy="234.2" r="1.55"/><circle cx="203.4" cy="234.2" r="1.55"/><circle cx="207.9" cy="234.2" r="1.55"/><circle cx="212.3" cy="234.2" r="1.55"/><circle cx="216.8" cy="234.2" r="1.55"/><circle cx="221.3" cy="234.2" r="1.55"/><circle cx="225.7" cy="234.2" r="1.55"/><circle cx="230.2" cy="234.2" r="1.55"/><circle cx="234.7" cy="234.2" r="1.55"/><circle cx="239.1" cy="234.2" r="1.55"/><circle cx="243.6" cy="234.2" r="1.55"/><circle cx="248.1" cy="234.2" r="1.55"/><circle cx="252.6" cy="234.2" r="1.55"/><circle cx="257.0" cy="234.2" r="1.55"/><circle cx="261.5" cy="234.2" r="1.55"/><circle cx="266.0" cy="234.2" r="1.55"/><circle cx="270.4" cy="234.2" r="1.55"/><circle cx="274.9" cy="234.2" r="1.55"/><circle cx="279.4" cy="234.2" r="1.55"/><circle cx="283.8" cy="234.2" r="1.55"/><circle cx="288.3" cy="234.2" r="1.55"/><circle cx="292.8" cy="234.2" r="1.55"/><circle cx="181.0" cy="240.6" r="1.55"/><circle cx="185.5" cy="240.6" r="1.55"/><circle cx="190.0" cy="240.6" r="1.55"/><circle cx="194.4" cy="240.6" r="1.55"/><circle cx="198.9" cy="240.6" r="1.55"/><circle cx="203.4" cy="240.6" r="1.55"/><circle cx="207.9" cy="240.6" r="1.55"/><circle cx="212.3" cy="240.6" r="1.55"/><circle cx="216.8" cy="240.6" r="1.55"/><circle cx="221.3" cy="240.6" r="1.55"/><circle cx="225.7" cy="240.6" r="1.55"/><circle cx="230.2" cy="240.6" r="1.55"/><circle cx="234.7" cy="240.6" r="1.55"/><circle cx="239.1" cy="240.6" r="1.55"/><circle cx="243.6" cy="240.6" r="1.55"/><circle cx="248.1" cy="240.6" r="1.55"/><circle cx="252.6" cy="240.6" r="1.55"/><circle cx="257.0" cy="240.6" r="1.55"/><circle cx="261.5" cy="240.6" r="1.55"/><circle cx="266.0" cy="240.6" r="1.55"/><circle cx="270.4" cy="240.6" r="1.55"/><circle cx="274.9" cy="240.6" r="1.55"/><circle cx="279.4" cy="240.6" r="1.55"/><circle cx="283.8" cy="240.6" r="1.55"/><circle cx="288.3" cy="240.6" r="1.55"/><circle cx="292.8" cy="240.6" r="1.55"/></g>
<g fill="#fff" stroke="#9a9a9a" stroke-width="0.6"><circle cx="228.0" cy="160.6" r="1.1"/><circle cx="232.4" cy="160.6" r="1.1"/><circle cx="236.9" cy="160.6" r="1.1"/><circle cx="241.4" cy="160.6" r="1.1"/><circle cx="221.3" cy="163.8" r="1.1"/><circle cx="225.7" cy="163.8" r="1.1"/><circle cx="243.6" cy="163.8" r="1.1"/><circle cx="248.1" cy="163.8" r="1.1"/><circle cx="219.0" cy="167.0" r="1.1"/><circle cx="250.3" cy="167.0" r="1.1"/><circle cx="216.8" cy="170.2" r="1.1"/><circle cx="252.6" cy="170.2" r="1.1"/><circle cx="214.6" cy="173.4" r="1.1"/><circle cx="254.8" cy="173.4" r="1.1"/><circle cx="212.3" cy="176.6" r="1.1"/><circle cx="257.0" cy="176.6" r="1.1"/><circle cx="212.3" cy="183.0" r="1.1"/><circle cx="257.0" cy="183.0" r="1.1"/><circle cx="254.8" cy="186.2" r="1.1"/><circle cx="212.3" cy="189.4" r="1.1"/><circle cx="257.0" cy="189.4" r="1.1"/><circle cx="214.6" cy="192.6" r="1.1"/><circle cx="254.8" cy="192.6" r="1.1"/><circle cx="216.8" cy="195.8" r="1.1"/><circle cx="252.6" cy="195.8" r="1.1"/><circle cx="219.0" cy="199.0" r="1.1"/><circle cx="250.3" cy="199.0" r="1.1"/><circle cx="221.3" cy="202.2" r="1.1"/><circle cx="225.7" cy="202.2" r="1.1"/><circle cx="230.2" cy="202.2" r="1.1"/><circle cx="239.1" cy="202.2" r="1.1"/><circle cx="243.6" cy="202.2" r="1.1"/><circle cx="248.1" cy="202.2" r="1.1"/><circle cx="228.0" cy="205.4" r="1.1"/><circle cx="232.4" cy="205.4" r="1.1"/><circle cx="236.9" cy="205.4" r="1.1"/></g>
<path d="M251.60,181.90 L251.54,183.33 L251.37,184.75 L251.08,186.16 L250.68,187.53 L250.17,188.88 L249.56,190.19 L248.73,191.38 L247.82,192.49 L246.83,193.53 L245.75,194.48 L244.61,195.34 L243.40,196.10 L242.13,196.77 L240.81,197.33 L239.46,197.78 L238.06,198.12 L236.64,198.36 L235.20,198.48 L233.76,198.36 L232.34,198.12 L230.94,197.78 L229.59,197.33 L228.27,196.77 L227.00,196.10 L225.79,195.34 L224.65,194.48 L223.57,193.53 L222.58,192.49 L221.67,191.38 L220.84,190.19 L220.23,188.88 L219.72,187.53 L219.32,186.16 L219.03,184.75 L218.86,183.33 L218.80,181.90 L218.86,180.47 L219.03,179.05 L219.32,177.64 L219.72,176.27 L220.23,174.92 L220.84,173.61 L221.67,172.42 L222.58,171.31 L223.57,170.27 L224.65,169.32 L225.79,168.46 L227.00,167.70 L228.27,167.03 L229.59,166.47 L230.94,166.02 L232.34,165.68 L233.76,165.44 L235.20,165.32 L236.64,165.44 L238.06,165.68 L239.46,166.02 L240.81,166.47 L242.13,167.03 L243.40,167.70 L244.61,168.46 L245.75,169.32 L246.83,170.27 L247.82,171.31 L248.73,172.42 L249.56,173.61 L250.17,174.92 L250.68,176.27 L251.08,177.64 L251.37,179.05 L251.54,180.47Z" fill="none" stroke="#e43636" stroke-width="1.9" stroke-linejoin="round"/>
</g>
<clipPath id="c7"><rect x="314" y="109.3" width="129.7" height="132.9"/></clipPath>
<rect x="314" y="109.3" width="129.7" height="132.9" fill="#fff" stroke="#e4dede" stroke-width="0.8"/>
<g clip-path="url(#c7)">
<g fill="#1ee048"><circle cx="315.8" cy="110.9" r="1.55"/><circle cx="320.3" cy="110.9" r="1.55"/><circle cx="324.7" cy="110.9" r="1.55"/><circle cx="329.2" cy="110.9" r="1.55"/><circle cx="333.7" cy="110.9" r="1.55"/><circle cx="338.2" cy="110.9" r="1.55"/><circle cx="342.6" cy="110.9" r="1.55"/><circle cx="347.1" cy="110.9" r="1.55"/><circle cx="351.6" cy="110.9" r="1.55"/><circle cx="356.0" cy="110.9" r="1.55"/><circle cx="360.5" cy="110.9" r="1.55"/><circle cx="365.0" cy="110.9" r="1.55"/><circle cx="369.4" cy="110.9" r="1.55"/><circle cx="373.9" cy="110.9" r="1.55"/><circle cx="378.4" cy="110.9" r="1.55"/><circle cx="382.9" cy="110.9" r="1.55"/><circle cx="387.3" cy="110.9" r="1.55"/><circle cx="391.8" cy="110.9" r="1.55"/><circle cx="396.3" cy="110.9" r="1.55"/><circle cx="400.7" cy="110.9" r="1.55"/><circle cx="405.2" cy="110.9" r="1.55"/><circle cx="409.7" cy="110.9" r="1.55"/><circle cx="414.1" cy="110.9" r="1.55"/><circle cx="418.6" cy="110.9" r="1.55"/><circle cx="423.1" cy="110.9" r="1.55"/><circle cx="427.6" cy="110.9" r="1.55"/><circle cx="432.0" cy="110.9" r="1.55"/><circle cx="436.5" cy="110.9" r="1.55"/><circle cx="441.0" cy="110.9" r="1.55"/><circle cx="445.4" cy="110.9" r="1.55"/><circle cx="315.8" cy="117.3" r="1.55"/><circle cx="320.3" cy="117.3" r="1.55"/><circle cx="324.7" cy="117.3" r="1.55"/><circle cx="329.2" cy="117.3" r="1.55"/><circle cx="333.7" cy="117.3" r="1.55"/><circle cx="338.2" cy="117.3" r="1.55"/><circle cx="342.6" cy="117.3" r="1.55"/><circle cx="347.1" cy="117.3" r="1.55"/><circle cx="351.6" cy="117.3" r="1.55"/><circle cx="356.0" cy="117.3" r="1.55"/><circle cx="360.5" cy="117.3" r="1.55"/><circle cx="365.0" cy="117.3" r="1.55"/><circle cx="369.4" cy="117.3" r="1.55"/><circle cx="373.9" cy="117.3" r="1.55"/><circle cx="378.4" cy="117.3" r="1.55"/><circle cx="382.9" cy="117.3" r="1.55"/><circle cx="387.3" cy="117.3" r="1.55"/><circle cx="391.8" cy="117.3" r="1.55"/><circle cx="396.3" cy="117.3" r="1.55"/><circle cx="400.7" cy="117.3" r="1.55"/><circle cx="405.2" cy="117.3" r="1.55"/><circle cx="409.7" cy="117.3" r="1.55"/><circle cx="414.1" cy="117.3" r="1.55"/><circle cx="418.6" cy="117.3" r="1.55"/><circle cx="423.1" cy="117.3" r="1.55"/><circle cx="427.6" cy="117.3" r="1.55"/><circle cx="432.0" cy="117.3" r="1.55"/><circle cx="436.5" cy="117.3" r="1.55"/><circle cx="441.0" cy="117.3" r="1.55"/><circle cx="445.4" cy="117.3" r="1.55"/><circle cx="315.8" cy="123.7" r="1.55"/><circle cx="320.3" cy="123.7" r="1.55"/><circle cx="324.7" cy="123.7" r="1.55"/><circle cx="329.2" cy="123.7" r="1.55"/><circle cx="333.7" cy="123.7" r="1.55"/><circle cx="338.2" cy="123.7" r="1.55"/><circle cx="342.6" cy="123.7" r="1.55"/><circle cx="347.1" cy="123.7" r="1.55"/><circle cx="351.6" cy="123.7" r="1.55"/><circle cx="356.0" cy="123.7" r="1.55"/><circle cx="360.5" cy="123.7" r="1.55"/><circle cx="365.0" cy="123.7" r="1.55"/><circle cx="369.4" cy="123.7" r="1.55"/><circle cx="373.9" cy="123.7" r="1.55"/><circle cx="378.4" cy="123.7" r="1.55"/><circle cx="382.9" cy="123.7" r="1.55"/><circle cx="387.3" cy="123.7" r="1.55"/><circle cx="391.8" cy="123.7" r="1.55"/><circle cx="396.3" cy="123.7" r="1.55"/><circle cx="400.7" cy="123.7" r="1.55"/><circle cx="405.2" cy="123.7" r="1.55"/><circle cx="409.7" cy="123.7" r="1.55"/><circle cx="414.1" cy="123.7" r="1.55"/><circle cx="418.6" cy="123.7" r="1.55"/><circle cx="423.1" cy="123.7" r="1.55"/><circle cx="427.6" cy="123.7" r="1.55"/><circle cx="432.0" cy="123.7" r="1.55"/><circle cx="436.5" cy="123.7" r="1.55"/><circle cx="441.0" cy="123.7" r="1.55"/><circle cx="445.4" cy="123.7" r="1.55"/><circle cx="315.8" cy="130.1" r="1.55"/><circle cx="320.3" cy="130.1" r="1.55"/><circle cx="324.7" cy="130.1" r="1.55"/><circle cx="329.2" cy="130.1" r="1.55"/><circle cx="333.7" cy="130.1" r="1.55"/><circle cx="338.2" cy="130.1" r="1.55"/><circle cx="342.6" cy="130.1" r="1.55"/><circle cx="347.1" cy="130.1" r="1.55"/><circle cx="351.6" cy="130.1" r="1.55"/><circle cx="356.0" cy="130.1" r="1.55"/><circle cx="360.5" cy="130.1" r="1.55"/><circle cx="365.0" cy="130.1" r="1.55"/><circle cx="369.4" cy="130.1" r="1.55"/><circle cx="373.9" cy="130.1" r="1.55"/><circle cx="378.4" cy="130.1" r="1.55"/><circle cx="382.9" cy="130.1" r="1.55"/><circle cx="387.3" cy="130.1" r="1.55"/><circle cx="391.8" cy="130.1" r="1.55"/><circle cx="396.3" cy="130.1" r="1.55"/><circle cx="400.7" cy="130.1" r="1.55"/><circle cx="405.2" cy="130.1" r="1.55"/><circle cx="409.7" cy="130.1" r="1.55"/><circle cx="414.1" cy="130.1" r="1.55"/><circle cx="418.6" cy="130.1" r="1.55"/><circle cx="423.1" cy="130.1" r="1.55"/><circle cx="427.6" cy="130.1" r="1.55"/><circle cx="432.0" cy="130.1" r="1.55"/><circle cx="436.5" cy="130.1" r="1.55"/><circle cx="441.0" cy="130.1" r="1.55"/><circle cx="445.4" cy="130.1" r="1.55"/><circle cx="315.8" cy="136.5" r="1.55"/><circle cx="320.3" cy="136.5" r="1.55"/><circle cx="324.7" cy="136.5" r="1.55"/><circle cx="329.2" cy="136.5" r="1.55"/><circle cx="333.7" cy="136.5" r="1.55"/><circle cx="338.2" cy="136.5" r="1.55"/><circle cx="342.6" cy="136.5" r="1.55"/><circle cx="347.1" cy="136.5" r="1.55"/><circle cx="351.6" cy="136.5" r="1.55"/><circle cx="356.0" cy="136.5" r="1.55"/><circle cx="360.5" cy="136.5" r="1.55"/><circle cx="365.0" cy="136.5" r="1.55"/><circle cx="369.4" cy="136.5" r="1.55"/><circle cx="373.9" cy="136.5" r="1.55"/><circle cx="378.4" cy="136.5" r="1.55"/><circle cx="382.9" cy="136.5" r="1.55"/><circle cx="387.3" cy="136.5" r="1.55"/><circle cx="391.8" cy="136.5" r="1.55"/><circle cx="396.3" cy="136.5" r="1.55"/><circle cx="400.7" cy="136.5" r="1.55"/><circle cx="405.2" cy="136.5" r="1.55"/><circle cx="409.7" cy="136.5" r="1.55"/><circle cx="414.1" cy="136.5" r="1.55"/><circle cx="418.6" cy="136.5" r="1.55"/><circle cx="423.1" cy="136.5" r="1.55"/><circle cx="427.6" cy="136.5" r="1.55"/><circle cx="432.0" cy="136.5" r="1.55"/><circle cx="436.5" cy="136.5" r="1.55"/><circle cx="441.0" cy="136.5" r="1.55"/><circle cx="445.4" cy="136.5" r="1.55"/><circle cx="315.8" cy="142.9" r="1.55"/><circle cx="320.3" cy="142.9" r="1.55"/><circle cx="324.7" cy="142.9" r="1.55"/><circle cx="329.2" cy="142.9" r="1.55"/><circle cx="333.7" cy="142.9" r="1.55"/><circle cx="338.2" cy="142.9" r="1.55"/><circle cx="342.6" cy="142.9" r="1.55"/><circle cx="347.1" cy="142.9" r="1.55"/><circle cx="351.6" cy="142.9" r="1.55"/><circle cx="356.0" cy="142.9" r="1.55"/><circle cx="360.5" cy="142.9" r="1.55"/><circle cx="365.0" cy="142.9" r="1.55"/><circle cx="369.4" cy="142.9" r="1.55"/><circle cx="373.9" cy="142.9" r="1.55"/><circle cx="378.4" cy="142.9" r="1.55"/><circle cx="382.9" cy="142.9" r="1.55"/><circle cx="387.3" cy="142.9" r="1.55"/><circle cx="391.8" cy="142.9" r="1.55"/><circle cx="396.3" cy="142.9" r="1.55"/><circle cx="400.7" cy="142.9" r="1.55"/><circle cx="405.2" cy="142.9" r="1.55"/><circle cx="409.7" cy="142.9" r="1.55"/><circle cx="414.1" cy="142.9" r="1.55"/><circle cx="418.6" cy="142.9" r="1.55"/><circle cx="423.1" cy="142.9" r="1.55"/><circle cx="427.6" cy="142.9" r="1.55"/><circle cx="432.0" cy="142.9" r="1.55"/><circle cx="436.5" cy="142.9" r="1.55"/><circle cx="441.0" cy="142.9" r="1.55"/><circle cx="445.4" cy="142.9" r="1.55"/><circle cx="315.8" cy="149.3" r="1.55"/><circle cx="320.3" cy="149.3" r="1.55"/><circle cx="324.7" cy="149.3" r="1.55"/><circle cx="329.2" cy="149.3" r="1.55"/><circle cx="333.7" cy="149.3" r="1.55"/><circle cx="338.2" cy="149.3" r="1.55"/><circle cx="342.6" cy="149.3" r="1.55"/><circle cx="347.1" cy="149.3" r="1.55"/><circle cx="351.6" cy="149.3" r="1.55"/><circle cx="356.0" cy="149.3" r="1.55"/><circle cx="360.5" cy="149.3" r="1.55"/><circle cx="400.7" cy="149.3" r="1.55"/><circle cx="405.2" cy="149.3" r="1.55"/><circle cx="409.7" cy="149.3" r="1.55"/><circle cx="414.1" cy="149.3" r="1.55"/><circle cx="418.6" cy="149.3" r="1.55"/><circle cx="423.1" cy="149.3" r="1.55"/><circle cx="427.6" cy="149.3" r="1.55"/><circle cx="432.0" cy="149.3" r="1.55"/><circle cx="436.5" cy="149.3" r="1.55"/><circle cx="441.0" cy="149.3" r="1.55"/><circle cx="445.4" cy="149.3" r="1.55"/><circle cx="315.8" cy="155.7" r="1.55"/><circle cx="320.3" cy="155.7" r="1.55"/><circle cx="324.7" cy="155.7" r="1.55"/><circle cx="329.2" cy="155.7" r="1.55"/><circle cx="333.7" cy="155.7" r="1.55"/><circle cx="338.2" cy="155.7" r="1.55"/><circle cx="342.6" cy="155.7" r="1.55"/><circle cx="347.1" cy="155.7" r="1.55"/><circle cx="351.6" cy="155.7" r="1.55"/><circle cx="405.2" cy="155.7" r="1.55"/><circle cx="409.7" cy="155.7" r="1.55"/><circle cx="414.1" cy="155.7" r="1.55"/><circle cx="418.6" cy="155.7" r="1.55"/><circle cx="423.1" cy="155.7" r="1.55"/><circle cx="427.6" cy="155.7" r="1.55"/><circle cx="432.0" cy="155.7" r="1.55"/><circle cx="436.5" cy="155.7" r="1.55"/><circle cx="441.0" cy="155.7" r="1.55"/><circle cx="445.4" cy="155.7" r="1.55"/><circle cx="315.8" cy="162.1" r="1.55"/><circle cx="320.3" cy="162.1" r="1.55"/><circle cx="324.7" cy="162.1" r="1.55"/><circle cx="329.2" cy="162.1" r="1.55"/><circle cx="333.7" cy="162.1" r="1.55"/><circle cx="338.2" cy="162.1" r="1.55"/><circle cx="342.6" cy="162.1" r="1.55"/><circle cx="347.1" cy="162.1" r="1.55"/><circle cx="351.6" cy="162.1" r="1.55"/><circle cx="409.7" cy="162.1" r="1.55"/><circle cx="414.1" cy="162.1" r="1.55"/><circle cx="418.6" cy="162.1" r="1.55"/><circle cx="423.1" cy="162.1" r="1.55"/><circle cx="427.6" cy="162.1" r="1.55"/><circle cx="432.0" cy="162.1" r="1.55"/><circle cx="436.5" cy="162.1" r="1.55"/><circle cx="441.0" cy="162.1" r="1.55"/><circle cx="445.4" cy="162.1" r="1.55"/><circle cx="315.8" cy="168.5" r="1.55"/><circle cx="320.3" cy="168.5" r="1.55"/><circle cx="324.7" cy="168.5" r="1.55"/><circle cx="329.2" cy="168.5" r="1.55"/><circle cx="333.7" cy="168.5" r="1.55"/><circle cx="338.2" cy="168.5" r="1.55"/><circle cx="342.6" cy="168.5" r="1.55"/><circle cx="347.1" cy="168.5" r="1.55"/><circle cx="414.1" cy="168.5" r="1.55"/><circle cx="418.6" cy="168.5" r="1.55"/><circle cx="423.1" cy="168.5" r="1.55"/><circle cx="427.6" cy="168.5" r="1.55"/><circle cx="432.0" cy="168.5" r="1.55"/><circle cx="436.5" cy="168.5" r="1.55"/><circle cx="441.0" cy="168.5" r="1.55"/><circle cx="445.4" cy="168.5" r="1.55"/><circle cx="315.8" cy="174.9" r="1.55"/><circle cx="320.3" cy="174.9" r="1.55"/><circle cx="324.7" cy="174.9" r="1.55"/><circle cx="329.2" cy="174.9" r="1.55"/><circle cx="333.7" cy="174.9" r="1.55"/><circle cx="338.2" cy="174.9" r="1.55"/><circle cx="342.6" cy="174.9" r="1.55"/><circle cx="347.1" cy="174.9" r="1.55"/><circle cx="414.1" cy="174.9" r="1.55"/><circle cx="418.6" cy="174.9" r="1.55"/><circle cx="423.1" cy="174.9" r="1.55"/><circle cx="427.6" cy="174.9" r="1.55"/><circle cx="432.0" cy="174.9" r="1.55"/><circle cx="436.5" cy="174.9" r="1.55"/><circle cx="441.0" cy="174.9" r="1.55"/><circle cx="445.4" cy="174.9" r="1.55"/><circle cx="315.8" cy="181.3" r="1.55"/><circle cx="320.3" cy="181.3" r="1.55"/><circle cx="324.7" cy="181.3" r="1.55"/><circle cx="329.2" cy="181.3" r="1.55"/><circle cx="333.7" cy="181.3" r="1.55"/><circle cx="338.2" cy="181.3" r="1.55"/><circle cx="342.6" cy="181.3" r="1.55"/><circle cx="347.1" cy="181.3" r="1.55"/><circle cx="414.1" cy="181.3" r="1.55"/><circle cx="418.6" cy="181.3" r="1.55"/><circle cx="423.1" cy="181.3" r="1.55"/><circle cx="427.6" cy="181.3" r="1.55"/><circle cx="432.0" cy="181.3" r="1.55"/><circle cx="436.5" cy="181.3" r="1.55"/><circle cx="441.0" cy="181.3" r="1.55"/><circle cx="445.4" cy="181.3" r="1.55"/><circle cx="315.8" cy="187.7" r="1.55"/><circle cx="320.3" cy="187.7" r="1.55"/><circle cx="324.7" cy="187.7" r="1.55"/><circle cx="329.2" cy="187.7" r="1.55"/><circle cx="333.7" cy="187.7" r="1.55"/><circle cx="338.2" cy="187.7" r="1.55"/><circle cx="342.6" cy="187.7" r="1.55"/><circle cx="347.1" cy="187.7" r="1.55"/><circle cx="351.6" cy="187.7" r="1.55"/><circle cx="409.7" cy="187.7" r="1.55"/><circle cx="414.1" cy="187.7" r="1.55"/><circle cx="418.6" cy="187.7" r="1.55"/><circle cx="423.1" cy="187.7" r="1.55"/><circle cx="427.6" cy="187.7" r="1.55"/><circle cx="432.0" cy="187.7" r="1.55"/><circle cx="436.5" cy="187.7" r="1.55"/><circle cx="441.0" cy="187.7" r="1.55"/><circle cx="445.4" cy="187.7" r="1.55"/><circle cx="315.8" cy="194.1" r="1.55"/><circle cx="320.3" cy="194.1" r="1.55"/><circle cx="324.7" cy="194.1" r="1.55"/><circle cx="329.2" cy="194.1" r="1.55"/><circle cx="333.7" cy="194.1" r="1.55"/><circle cx="338.2" cy="194.1" r="1.55"/><circle cx="342.6" cy="194.1" r="1.55"/><circle cx="347.1" cy="194.1" r="1.55"/><circle cx="351.6" cy="194.1" r="1.55"/><circle cx="356.0" cy="194.1" r="1.55"/><circle cx="405.2" cy="194.1" r="1.55"/><circle cx="409.7" cy="194.1" r="1.55"/><circle cx="414.1" cy="194.1" r="1.55"/><circle cx="418.6" cy="194.1" r="1.55"/><circle cx="423.1" cy="194.1" r="1.55"/><circle cx="427.6" cy="194.1" r="1.55"/><circle cx="432.0" cy="194.1" r="1.55"/><circle cx="436.5" cy="194.1" r="1.55"/><circle cx="441.0" cy="194.1" r="1.55"/><circle cx="445.4" cy="194.1" r="1.55"/><circle cx="315.8" cy="200.5" r="1.55"/><circle cx="320.3" cy="200.5" r="1.55"/><circle cx="324.7" cy="200.5" r="1.55"/><circle cx="329.2" cy="200.5" r="1.55"/><circle cx="333.7" cy="200.5" r="1.55"/><circle cx="338.2" cy="200.5" r="1.55"/><circle cx="342.6" cy="200.5" r="1.55"/><circle cx="347.1" cy="200.5" r="1.55"/><circle cx="351.6" cy="200.5" r="1.55"/><circle cx="356.0" cy="200.5" r="1.55"/><circle cx="360.5" cy="200.5" r="1.55"/><circle cx="396.3" cy="200.5" r="1.55"/><circle cx="400.7" cy="200.5" r="1.55"/><circle cx="405.2" cy="200.5" r="1.55"/><circle cx="409.7" cy="200.5" r="1.55"/><circle cx="414.1" cy="200.5" r="1.55"/><circle cx="418.6" cy="200.5" r="1.55"/><circle cx="423.1" cy="200.5" r="1.55"/><circle cx="427.6" cy="200.5" r="1.55"/><circle cx="432.0" cy="200.5" r="1.55"/><circle cx="436.5" cy="200.5" r="1.55"/><circle cx="441.0" cy="200.5" r="1.55"/><circle cx="445.4" cy="200.5" r="1.55"/><circle cx="315.8" cy="206.9" r="1.55"/><circle cx="320.3" cy="206.9" r="1.55"/><circle cx="324.7" cy="206.9" r="1.55"/><circle cx="329.2" cy="206.9" r="1.55"/><circle cx="333.7" cy="206.9" r="1.55"/><circle cx="338.2" cy="206.9" r="1.55"/><circle cx="342.6" cy="206.9" r="1.55"/><circle cx="347.1" cy="206.9" r="1.55"/><circle cx="351.6" cy="206.9" r="1.55"/><circle cx="356.0" cy="206.9" r="1.55"/><circle cx="360.5" cy="206.9" r="1.55"/><circle cx="365.0" cy="206.9" r="1.55"/><circle cx="369.4" cy="206.9" r="1.55"/><circle cx="373.9" cy="206.9" r="1.55"/><circle cx="378.4" cy="206.9" r="1.55"/><circle cx="382.9" cy="206.9" r="1.55"/><circle cx="387.3" cy="206.9" r="1.55"/><circle cx="391.8" cy="206.9" r="1.55"/><circle cx="396.3" cy="206.9" r="1.55"/><circle cx="400.7" cy="206.9" r="1.55"/><circle cx="405.2" cy="206.9" r="1.55"/><circle cx="409.7" cy="206.9" r="1.55"/><circle cx="414.1" cy="206.9" r="1.55"/><circle cx="418.6" cy="206.9" r="1.55"/><circle cx="423.1" cy="206.9" r="1.55"/><circle cx="427.6" cy="206.9" r="1.55"/><circle cx="432.0" cy="206.9" r="1.55"/><circle cx="436.5" cy="206.9" r="1.55"/><circle cx="441.0" cy="206.9" r="1.55"/><circle cx="445.4" cy="206.9" r="1.55"/><circle cx="315.8" cy="213.3" r="1.55"/><circle cx="320.3" cy="213.3" r="1.55"/><circle cx="324.7" cy="213.3" r="1.55"/><circle cx="329.2" cy="213.3" r="1.55"/><circle cx="333.7" cy="213.3" r="1.55"/><circle cx="338.2" cy="213.3" r="1.55"/><circle cx="342.6" cy="213.3" r="1.55"/><circle cx="347.1" cy="213.3" r="1.55"/><circle cx="351.6" cy="213.3" r="1.55"/><circle cx="356.0" cy="213.3" r="1.55"/><circle cx="360.5" cy="213.3" r="1.55"/><circle cx="365.0" cy="213.3" r="1.55"/><circle cx="369.4" cy="213.3" r="1.55"/><circle cx="373.9" cy="213.3" r="1.55"/><circle cx="378.4" cy="213.3" r="1.55"/><circle cx="382.9" cy="213.3" r="1.55"/><circle cx="387.3" cy="213.3" r="1.55"/><circle cx="391.8" cy="213.3" r="1.55"/><circle cx="396.3" cy="213.3" r="1.55"/><circle cx="400.7" cy="213.3" r="1.55"/><circle cx="405.2" cy="213.3" r="1.55"/><circle cx="409.7" cy="213.3" r="1.55"/><circle cx="414.1" cy="213.3" r="1.55"/><circle cx="418.6" cy="213.3" r="1.55"/><circle cx="423.1" cy="213.3" r="1.55"/><circle cx="427.6" cy="213.3" r="1.55"/><circle cx="432.0" cy="213.3" r="1.55"/><circle cx="436.5" cy="213.3" r="1.55"/><circle cx="441.0" cy="213.3" r="1.55"/><circle cx="445.4" cy="213.3" r="1.55"/><circle cx="315.8" cy="219.7" r="1.55"/><circle cx="320.3" cy="219.7" r="1.55"/><circle cx="324.7" cy="219.7" r="1.55"/><circle cx="329.2" cy="219.7" r="1.55"/><circle cx="333.7" cy="219.7" r="1.55"/><circle cx="338.2" cy="219.7" r="1.55"/><circle cx="342.6" cy="219.7" r="1.55"/><circle cx="347.1" cy="219.7" r="1.55"/><circle cx="351.6" cy="219.7" r="1.55"/><circle cx="356.0" cy="219.7" r="1.55"/><circle cx="360.5" cy="219.7" r="1.55"/><circle cx="365.0" cy="219.7" r="1.55"/><circle cx="369.4" cy="219.7" r="1.55"/><circle cx="373.9" cy="219.7" r="1.55"/><circle cx="378.4" cy="219.7" r="1.55"/><circle cx="382.9" cy="219.7" r="1.55"/><circle cx="387.3" cy="219.7" r="1.55"/><circle cx="391.8" cy="219.7" r="1.55"/><circle cx="396.3" cy="219.7" r="1.55"/><circle cx="400.7" cy="219.7" r="1.55"/><circle cx="405.2" cy="219.7" r="1.55"/><circle cx="409.7" cy="219.7" r="1.55"/><circle cx="414.1" cy="219.7" r="1.55"/><circle cx="418.6" cy="219.7" r="1.55"/><circle cx="423.1" cy="219.7" r="1.55"/><circle cx="427.6" cy="219.7" r="1.55"/><circle cx="432.0" cy="219.7" r="1.55"/><circle cx="436.5" cy="219.7" r="1.55"/><circle cx="441.0" cy="219.7" r="1.55"/><circle cx="445.4" cy="219.7" r="1.55"/><circle cx="315.8" cy="226.1" r="1.55"/><circle cx="320.3" cy="226.1" r="1.55"/><circle cx="324.7" cy="226.1" r="1.55"/><circle cx="329.2" cy="226.1" r="1.55"/><circle cx="333.7" cy="226.1" r="1.55"/><circle cx="338.2" cy="226.1" r="1.55"/><circle cx="342.6" cy="226.1" r="1.55"/><circle cx="347.1" cy="226.1" r="1.55"/><circle cx="351.6" cy="226.1" r="1.55"/><circle cx="356.0" cy="226.1" r="1.55"/><circle cx="360.5" cy="226.1" r="1.55"/><circle cx="365.0" cy="226.1" r="1.55"/><circle cx="369.4" cy="226.1" r="1.55"/><circle cx="373.9" cy="226.1" r="1.55"/><circle cx="378.4" cy="226.1" r="1.55"/><circle cx="382.9" cy="226.1" r="1.55"/><circle cx="387.3" cy="226.1" r="1.55"/><circle cx="391.8" cy="226.1" r="1.55"/><circle cx="396.3" cy="226.1" r="1.55"/><circle cx="400.7" cy="226.1" r="1.55"/><circle cx="405.2" cy="226.1" r="1.55"/><circle cx="409.7" cy="226.1" r="1.55"/><circle cx="414.1" cy="226.1" r="1.55"/><circle cx="418.6" cy="226.1" r="1.55"/><circle cx="423.1" cy="226.1" r="1.55"/><circle cx="427.6" cy="226.1" r="1.55"/><circle cx="432.0" cy="226.1" r="1.55"/><circle cx="436.5" cy="226.1" r="1.55"/><circle cx="441.0" cy="226.1" r="1.55"/><circle cx="445.4" cy="226.1" r="1.55"/><circle cx="315.8" cy="232.5" r="1.55"/><circle cx="320.3" cy="232.5" r="1.55"/><circle cx="324.7" cy="232.5" r="1.55"/><circle cx="329.2" cy="232.5" r="1.55"/><circle cx="333.7" cy="232.5" r="1.55"/><circle cx="338.2" cy="232.5" r="1.55"/><circle cx="342.6" cy="232.5" r="1.55"/><circle cx="347.1" cy="232.5" r="1.55"/><circle cx="351.6" cy="232.5" r="1.55"/><circle cx="356.0" cy="232.5" r="1.55"/><circle cx="360.5" cy="232.5" r="1.55"/><circle cx="365.0" cy="232.5" r="1.55"/><circle cx="369.4" cy="232.5" r="1.55"/><circle cx="373.9" cy="232.5" r="1.55"/><circle cx="378.4" cy="232.5" r="1.55"/><circle cx="382.9" cy="232.5" r="1.55"/><circle cx="387.3" cy="232.5" r="1.55"/><circle cx="391.8" cy="232.5" r="1.55"/><circle cx="396.3" cy="232.5" r="1.55"/><circle cx="400.7" cy="232.5" r="1.55"/><circle cx="405.2" cy="232.5" r="1.55"/><circle cx="409.7" cy="232.5" r="1.55"/><circle cx="414.1" cy="232.5" r="1.55"/><circle cx="418.6" cy="232.5" r="1.55"/><circle cx="423.1" cy="232.5" r="1.55"/><circle cx="427.6" cy="232.5" r="1.55"/><circle cx="432.0" cy="232.5" r="1.55"/><circle cx="436.5" cy="232.5" r="1.55"/><circle cx="441.0" cy="232.5" r="1.55"/><circle cx="445.4" cy="232.5" r="1.55"/><circle cx="315.8" cy="238.9" r="1.55"/><circle cx="320.3" cy="238.9" r="1.55"/><circle cx="324.7" cy="238.9" r="1.55"/><circle cx="329.2" cy="238.9" r="1.55"/><circle cx="333.7" cy="238.9" r="1.55"/><circle cx="338.2" cy="238.9" r="1.55"/><circle cx="342.6" cy="238.9" r="1.55"/><circle cx="347.1" cy="238.9" r="1.55"/><circle cx="351.6" cy="238.9" r="1.55"/><circle cx="356.0" cy="238.9" r="1.55"/><circle cx="360.5" cy="238.9" r="1.55"/><circle cx="365.0" cy="238.9" r="1.55"/><circle cx="369.4" cy="238.9" r="1.55"/><circle cx="373.9" cy="238.9" r="1.55"/><circle cx="378.4" cy="238.9" r="1.55"/><circle cx="382.9" cy="238.9" r="1.55"/><circle cx="387.3" cy="238.9" r="1.55"/><circle cx="391.8" cy="238.9" r="1.55"/><circle cx="396.3" cy="238.9" r="1.55"/><circle cx="400.7" cy="238.9" r="1.55"/><circle cx="405.2" cy="238.9" r="1.55"/><circle cx="409.7" cy="238.9" r="1.55"/><circle cx="414.1" cy="238.9" r="1.55"/><circle cx="418.6" cy="238.9" r="1.55"/><circle cx="423.1" cy="238.9" r="1.55"/><circle cx="427.6" cy="238.9" r="1.55"/><circle cx="432.0" cy="238.9" r="1.55"/><circle cx="436.5" cy="238.9" r="1.55"/><circle cx="441.0" cy="238.9" r="1.55"/><circle cx="445.4" cy="238.9" r="1.55"/><circle cx="315.8" cy="245.3" r="1.55"/><circle cx="320.3" cy="245.3" r="1.55"/><circle cx="324.7" cy="245.3" r="1.55"/><circle cx="329.2" cy="245.3" r="1.55"/><circle cx="333.7" cy="245.3" r="1.55"/><circle cx="338.2" cy="245.3" r="1.55"/><circle cx="342.6" cy="245.3" r="1.55"/><circle cx="347.1" cy="245.3" r="1.55"/><circle cx="351.6" cy="245.3" r="1.55"/><circle cx="356.0" cy="245.3" r="1.55"/><circle cx="360.5" cy="245.3" r="1.55"/><circle cx="365.0" cy="245.3" r="1.55"/><circle cx="369.4" cy="245.3" r="1.55"/><circle cx="373.9" cy="245.3" r="1.55"/><circle cx="378.4" cy="245.3" r="1.55"/><circle cx="382.9" cy="245.3" r="1.55"/><circle cx="387.3" cy="245.3" r="1.55"/><circle cx="391.8" cy="245.3" r="1.55"/><circle cx="396.3" cy="245.3" r="1.55"/><circle cx="400.7" cy="245.3" r="1.55"/><circle cx="405.2" cy="245.3" r="1.55"/><circle cx="409.7" cy="245.3" r="1.55"/><circle cx="414.1" cy="245.3" r="1.55"/><circle cx="418.6" cy="245.3" r="1.55"/><circle cx="423.1" cy="245.3" r="1.55"/><circle cx="427.6" cy="245.3" r="1.55"/><circle cx="432.0" cy="245.3" r="1.55"/><circle cx="436.5" cy="245.3" r="1.55"/><circle cx="441.0" cy="245.3" r="1.55"/><circle cx="445.4" cy="245.3" r="1.55"/></g>
<g fill="#07c03a"><circle cx="318.0" cy="114.1" r="1.55"/><circle cx="322.5" cy="114.1" r="1.55"/><circle cx="327.0" cy="114.1" r="1.55"/><circle cx="331.4" cy="114.1" r="1.55"/><circle cx="335.9" cy="114.1" r="1.55"/><circle cx="340.4" cy="114.1" r="1.55"/><circle cx="344.9" cy="114.1" r="1.55"/><circle cx="349.3" cy="114.1" r="1.55"/><circle cx="353.8" cy="114.1" r="1.55"/><circle cx="358.3" cy="114.1" r="1.55"/><circle cx="362.7" cy="114.1" r="1.55"/><circle cx="367.2" cy="114.1" r="1.55"/><circle cx="371.7" cy="114.1" r="1.55"/><circle cx="376.1" cy="114.1" r="1.55"/><circle cx="380.6" cy="114.1" r="1.55"/><circle cx="385.1" cy="114.1" r="1.55"/><circle cx="389.6" cy="114.1" r="1.55"/><circle cx="394.0" cy="114.1" r="1.55"/><circle cx="398.5" cy="114.1" r="1.55"/><circle cx="403.0" cy="114.1" r="1.55"/><circle cx="407.4" cy="114.1" r="1.55"/><circle cx="411.9" cy="114.1" r="1.55"/><circle cx="416.4" cy="114.1" r="1.55"/><circle cx="420.8" cy="114.1" r="1.55"/><circle cx="425.3" cy="114.1" r="1.55"/><circle cx="429.8" cy="114.1" r="1.55"/><circle cx="434.3" cy="114.1" r="1.55"/><circle cx="438.7" cy="114.1" r="1.55"/><circle cx="443.2" cy="114.1" r="1.55"/><circle cx="447.7" cy="114.1" r="1.55"/><circle cx="318.0" cy="120.5" r="1.55"/><circle cx="322.5" cy="120.5" r="1.55"/><circle cx="327.0" cy="120.5" r="1.55"/><circle cx="331.4" cy="120.5" r="1.55"/><circle cx="335.9" cy="120.5" r="1.55"/><circle cx="340.4" cy="120.5" r="1.55"/><circle cx="344.9" cy="120.5" r="1.55"/><circle cx="349.3" cy="120.5" r="1.55"/><circle cx="353.8" cy="120.5" r="1.55"/><circle cx="358.3" cy="120.5" r="1.55"/><circle cx="362.7" cy="120.5" r="1.55"/><circle cx="367.2" cy="120.5" r="1.55"/><circle cx="371.7" cy="120.5" r="1.55"/><circle cx="376.1" cy="120.5" r="1.55"/><circle cx="380.6" cy="120.5" r="1.55"/><circle cx="385.1" cy="120.5" r="1.55"/><circle cx="389.6" cy="120.5" r="1.55"/><circle cx="394.0" cy="120.5" r="1.55"/><circle cx="398.5" cy="120.5" r="1.55"/><circle cx="403.0" cy="120.5" r="1.55"/><circle cx="407.4" cy="120.5" r="1.55"/><circle cx="411.9" cy="120.5" r="1.55"/><circle cx="416.4" cy="120.5" r="1.55"/><circle cx="420.8" cy="120.5" r="1.55"/><circle cx="425.3" cy="120.5" r="1.55"/><circle cx="429.8" cy="120.5" r="1.55"/><circle cx="434.3" cy="120.5" r="1.55"/><circle cx="438.7" cy="120.5" r="1.55"/><circle cx="443.2" cy="120.5" r="1.55"/><circle cx="447.7" cy="120.5" r="1.55"/><circle cx="318.0" cy="126.9" r="1.55"/><circle cx="322.5" cy="126.9" r="1.55"/><circle cx="327.0" cy="126.9" r="1.55"/><circle cx="331.4" cy="126.9" r="1.55"/><circle cx="335.9" cy="126.9" r="1.55"/><circle cx="340.4" cy="126.9" r="1.55"/><circle cx="344.9" cy="126.9" r="1.55"/><circle cx="349.3" cy="126.9" r="1.55"/><circle cx="353.8" cy="126.9" r="1.55"/><circle cx="358.3" cy="126.9" r="1.55"/><circle cx="362.7" cy="126.9" r="1.55"/><circle cx="367.2" cy="126.9" r="1.55"/><circle cx="371.7" cy="126.9" r="1.55"/><circle cx="376.1" cy="126.9" r="1.55"/><circle cx="380.6" cy="126.9" r="1.55"/><circle cx="385.1" cy="126.9" r="1.55"/><circle cx="389.6" cy="126.9" r="1.55"/><circle cx="394.0" cy="126.9" r="1.55"/><circle cx="398.5" cy="126.9" r="1.55"/><circle cx="403.0" cy="126.9" r="1.55"/><circle cx="407.4" cy="126.9" r="1.55"/><circle cx="411.9" cy="126.9" r="1.55"/><circle cx="416.4" cy="126.9" r="1.55"/><circle cx="420.8" cy="126.9" r="1.55"/><circle cx="425.3" cy="126.9" r="1.55"/><circle cx="429.8" cy="126.9" r="1.55"/><circle cx="434.3" cy="126.9" r="1.55"/><circle cx="438.7" cy="126.9" r="1.55"/><circle cx="443.2" cy="126.9" r="1.55"/><circle cx="447.7" cy="126.9" r="1.55"/><circle cx="318.0" cy="133.3" r="1.55"/><circle cx="322.5" cy="133.3" r="1.55"/><circle cx="327.0" cy="133.3" r="1.55"/><circle cx="331.4" cy="133.3" r="1.55"/><circle cx="335.9" cy="133.3" r="1.55"/><circle cx="340.4" cy="133.3" r="1.55"/><circle cx="344.9" cy="133.3" r="1.55"/><circle cx="349.3" cy="133.3" r="1.55"/><circle cx="353.8" cy="133.3" r="1.55"/><circle cx="358.3" cy="133.3" r="1.55"/><circle cx="362.7" cy="133.3" r="1.55"/><circle cx="367.2" cy="133.3" r="1.55"/><circle cx="371.7" cy="133.3" r="1.55"/><circle cx="376.1" cy="133.3" r="1.55"/><circle cx="380.6" cy="133.3" r="1.55"/><circle cx="385.1" cy="133.3" r="1.55"/><circle cx="389.6" cy="133.3" r="1.55"/><circle cx="394.0" cy="133.3" r="1.55"/><circle cx="398.5" cy="133.3" r="1.55"/><circle cx="403.0" cy="133.3" r="1.55"/><circle cx="407.4" cy="133.3" r="1.55"/><circle cx="411.9" cy="133.3" r="1.55"/><circle cx="416.4" cy="133.3" r="1.55"/><circle cx="420.8" cy="133.3" r="1.55"/><circle cx="425.3" cy="133.3" r="1.55"/><circle cx="429.8" cy="133.3" r="1.55"/><circle cx="434.3" cy="133.3" r="1.55"/><circle cx="438.7" cy="133.3" r="1.55"/><circle cx="443.2" cy="133.3" r="1.55"/><circle cx="447.7" cy="133.3" r="1.55"/><circle cx="318.0" cy="139.7" r="1.55"/><circle cx="322.5" cy="139.7" r="1.55"/><circle cx="327.0" cy="139.7" r="1.55"/><circle cx="331.4" cy="139.7" r="1.55"/><circle cx="335.9" cy="139.7" r="1.55"/><circle cx="340.4" cy="139.7" r="1.55"/><circle cx="344.9" cy="139.7" r="1.55"/><circle cx="349.3" cy="139.7" r="1.55"/><circle cx="353.8" cy="139.7" r="1.55"/><circle cx="358.3" cy="139.7" r="1.55"/><circle cx="362.7" cy="139.7" r="1.55"/><circle cx="367.2" cy="139.7" r="1.55"/><circle cx="371.7" cy="139.7" r="1.55"/><circle cx="376.1" cy="139.7" r="1.55"/><circle cx="380.6" cy="139.7" r="1.55"/><circle cx="385.1" cy="139.7" r="1.55"/><circle cx="389.6" cy="139.7" r="1.55"/><circle cx="394.0" cy="139.7" r="1.55"/><circle cx="398.5" cy="139.7" r="1.55"/><circle cx="403.0" cy="139.7" r="1.55"/><circle cx="407.4" cy="139.7" r="1.55"/><circle cx="411.9" cy="139.7" r="1.55"/><circle cx="416.4" cy="139.7" r="1.55"/><circle cx="420.8" cy="139.7" r="1.55"/><circle cx="425.3" cy="139.7" r="1.55"/><circle cx="429.8" cy="139.7" r="1.55"/><circle cx="434.3" cy="139.7" r="1.55"/><circle cx="438.7" cy="139.7" r="1.55"/><circle cx="443.2" cy="139.7" r="1.55"/><circle cx="447.7" cy="139.7" r="1.55"/><circle cx="318.0" cy="146.1" r="1.55"/><circle cx="322.5" cy="146.1" r="1.55"/><circle cx="327.0" cy="146.1" r="1.55"/><circle cx="331.4" cy="146.1" r="1.55"/><circle cx="335.9" cy="146.1" r="1.55"/><circle cx="340.4" cy="146.1" r="1.55"/><circle cx="344.9" cy="146.1" r="1.55"/><circle cx="349.3" cy="146.1" r="1.55"/><circle cx="353.8" cy="146.1" r="1.55"/><circle cx="358.3" cy="146.1" r="1.55"/><circle cx="362.7" cy="146.1" r="1.55"/><circle cx="367.2" cy="146.1" r="1.55"/><circle cx="394.0" cy="146.1" r="1.55"/><circle cx="398.5" cy="146.1" r="1.55"/><circle cx="403.0" cy="146.1" r="1.55"/><circle cx="407.4" cy="146.1" r="1.55"/><circle cx="411.9" cy="146.1" r="1.55"/><circle cx="416.4" cy="146.1" r="1.55"/><circle cx="420.8" cy="146.1" r="1.55"/><circle cx="425.3" cy="146.1" r="1.55"/><circle cx="429.8" cy="146.1" r="1.55"/><circle cx="434.3" cy="146.1" r="1.55"/><circle cx="438.7" cy="146.1" r="1.55"/><circle cx="443.2" cy="146.1" r="1.55"/><circle cx="447.7" cy="146.1" r="1.55"/><circle cx="318.0" cy="152.5" r="1.55"/><circle cx="322.5" cy="152.5" r="1.55"/><circle cx="327.0" cy="152.5" r="1.55"/><circle cx="331.4" cy="152.5" r="1.55"/><circle cx="335.9" cy="152.5" r="1.55"/><circle cx="340.4" cy="152.5" r="1.55"/><circle cx="344.9" cy="152.5" r="1.55"/><circle cx="349.3" cy="152.5" r="1.55"/><circle cx="353.8" cy="152.5" r="1.55"/><circle cx="358.3" cy="152.5" r="1.55"/><circle cx="403.0" cy="152.5" r="1.55"/><circle cx="407.4" cy="152.5" r="1.55"/><circle cx="411.9" cy="152.5" r="1.55"/><circle cx="416.4" cy="152.5" r="1.55"/><circle cx="420.8" cy="152.5" r="1.55"/><circle cx="425.3" cy="152.5" r="1.55"/><circle cx="429.8" cy="152.5" r="1.55"/><circle cx="434.3" cy="152.5" r="1.55"/><circle cx="438.7" cy="152.5" r="1.55"/><circle cx="443.2" cy="152.5" r="1.55"/><circle cx="447.7" cy="152.5" r="1.55"/><circle cx="318.0" cy="158.9" r="1.55"/><circle cx="322.5" cy="158.9" r="1.55"/><circle cx="327.0" cy="158.9" r="1.55"/><circle cx="331.4" cy="158.9" r="1.55"/><circle cx="335.9" cy="158.9" r="1.55"/><circle cx="340.4" cy="158.9" r="1.55"/><circle cx="344.9" cy="158.9" r="1.55"/><circle cx="349.3" cy="158.9" r="1.55"/><circle cx="407.4" cy="158.9" r="1.55"/><circle cx="411.9" cy="158.9" r="1.55"/><circle cx="416.4" cy="158.9" r="1.55"/><circle cx="420.8" cy="158.9" r="1.55"/><circle cx="425.3" cy="158.9" r="1.55"/><circle cx="429.8" cy="158.9" r="1.55"/><circle cx="434.3" cy="158.9" r="1.55"/><circle cx="438.7" cy="158.9" r="1.55"/><circle cx="443.2" cy="158.9" r="1.55"/><circle cx="447.7" cy="158.9" r="1.55"/><circle cx="318.0" cy="165.3" r="1.55"/><circle cx="322.5" cy="165.3" r="1.55"/><circle cx="327.0" cy="165.3" r="1.55"/><circle cx="331.4" cy="165.3" r="1.55"/><circle cx="335.9" cy="165.3" r="1.55"/><circle cx="340.4" cy="165.3" r="1.55"/><circle cx="344.9" cy="165.3" r="1.55"/><circle cx="349.3" cy="165.3" r="1.55"/><circle cx="411.9" cy="165.3" r="1.55"/><circle cx="416.4" cy="165.3" r="1.55"/><circle cx="420.8" cy="165.3" r="1.55"/><circle cx="425.3" cy="165.3" r="1.55"/><circle cx="429.8" cy="165.3" r="1.55"/><circle cx="434.3" cy="165.3" r="1.55"/><circle cx="438.7" cy="165.3" r="1.55"/><circle cx="443.2" cy="165.3" r="1.55"/><circle cx="447.7" cy="165.3" r="1.55"/><circle cx="318.0" cy="171.7" r="1.55"/><circle cx="322.5" cy="171.7" r="1.55"/><circle cx="327.0" cy="171.7" r="1.55"/><circle cx="331.4" cy="171.7" r="1.55"/><circle cx="335.9" cy="171.7" r="1.55"/><circle cx="340.4" cy="171.7" r="1.55"/><circle cx="344.9" cy="171.7" r="1.55"/><circle cx="411.9" cy="171.7" r="1.55"/><circle cx="416.4" cy="171.7" r="1.55"/><circle cx="420.8" cy="171.7" r="1.55"/><circle cx="425.3" cy="171.7" r="1.55"/><circle cx="429.8" cy="171.7" r="1.55"/><circle cx="434.3" cy="171.7" r="1.55"/><circle cx="438.7" cy="171.7" r="1.55"/><circle cx="443.2" cy="171.7" r="1.55"/><circle cx="447.7" cy="171.7" r="1.55"/><circle cx="318.0" cy="178.1" r="1.55"/><circle cx="322.5" cy="178.1" r="1.55"/><circle cx="327.0" cy="178.1" r="1.55"/><circle cx="331.4" cy="178.1" r="1.55"/><circle cx="335.9" cy="178.1" r="1.55"/><circle cx="340.4" cy="178.1" r="1.55"/><circle cx="344.9" cy="178.1" r="1.55"/><circle cx="411.9" cy="178.1" r="1.55"/><circle cx="416.4" cy="178.1" r="1.55"/><circle cx="420.8" cy="178.1" r="1.55"/><circle cx="425.3" cy="178.1" r="1.55"/><circle cx="429.8" cy="178.1" r="1.55"/><circle cx="434.3" cy="178.1" r="1.55"/><circle cx="438.7" cy="178.1" r="1.55"/><circle cx="443.2" cy="178.1" r="1.55"/><circle cx="447.7" cy="178.1" r="1.55"/><circle cx="318.0" cy="184.5" r="1.55"/><circle cx="322.5" cy="184.5" r="1.55"/><circle cx="327.0" cy="184.5" r="1.55"/><circle cx="331.4" cy="184.5" r="1.55"/><circle cx="335.9" cy="184.5" r="1.55"/><circle cx="340.4" cy="184.5" r="1.55"/><circle cx="344.9" cy="184.5" r="1.55"/><circle cx="349.3" cy="184.5" r="1.55"/><circle cx="411.9" cy="184.5" r="1.55"/><circle cx="416.4" cy="184.5" r="1.55"/><circle cx="420.8" cy="184.5" r="1.55"/><circle cx="425.3" cy="184.5" r="1.55"/><circle cx="429.8" cy="184.5" r="1.55"/><circle cx="434.3" cy="184.5" r="1.55"/><circle cx="438.7" cy="184.5" r="1.55"/><circle cx="443.2" cy="184.5" r="1.55"/><circle cx="447.7" cy="184.5" r="1.55"/><circle cx="318.0" cy="190.9" r="1.55"/><circle cx="322.5" cy="190.9" r="1.55"/><circle cx="327.0" cy="190.9" r="1.55"/><circle cx="331.4" cy="190.9" r="1.55"/><circle cx="335.9" cy="190.9" r="1.55"/><circle cx="340.4" cy="190.9" r="1.55"/><circle cx="344.9" cy="190.9" r="1.55"/><circle cx="349.3" cy="190.9" r="1.55"/><circle cx="353.8" cy="190.9" r="1.55"/><circle cx="407.4" cy="190.9" r="1.55"/><circle cx="411.9" cy="190.9" r="1.55"/><circle cx="416.4" cy="190.9" r="1.55"/><circle cx="420.8" cy="190.9" r="1.55"/><circle cx="425.3" cy="190.9" r="1.55"/><circle cx="429.8" cy="190.9" r="1.55"/><circle cx="434.3" cy="190.9" r="1.55"/><circle cx="438.7" cy="190.9" r="1.55"/><circle cx="443.2" cy="190.9" r="1.55"/><circle cx="447.7" cy="190.9" r="1.55"/><circle cx="318.0" cy="197.3" r="1.55"/><circle cx="322.5" cy="197.3" r="1.55"/><circle cx="327.0" cy="197.3" r="1.55"/><circle cx="331.4" cy="197.3" r="1.55"/><circle cx="335.9" cy="197.3" r="1.55"/><circle cx="340.4" cy="197.3" r="1.55"/><circle cx="344.9" cy="197.3" r="1.55"/><circle cx="349.3" cy="197.3" r="1.55"/><circle cx="353.8" cy="197.3" r="1.55"/><circle cx="358.3" cy="197.3" r="1.55"/><circle cx="403.0" cy="197.3" r="1.55"/><circle cx="407.4" cy="197.3" r="1.55"/><circle cx="411.9" cy="197.3" r="1.55"/><circle cx="416.4" cy="197.3" r="1.55"/><circle cx="420.8" cy="197.3" r="1.55"/><circle cx="425.3" cy="197.3" r="1.55"/><circle cx="429.8" cy="197.3" r="1.55"/><circle cx="434.3" cy="197.3" r="1.55"/><circle cx="438.7" cy="197.3" r="1.55"/><circle cx="443.2" cy="197.3" r="1.55"/><circle cx="447.7" cy="197.3" r="1.55"/><circle cx="318.0" cy="203.7" r="1.55"/><circle cx="322.5" cy="203.7" r="1.55"/><circle cx="327.0" cy="203.7" r="1.55"/><circle cx="331.4" cy="203.7" r="1.55"/><circle cx="335.9" cy="203.7" r="1.55"/><circle cx="340.4" cy="203.7" r="1.55"/><circle cx="344.9" cy="203.7" r="1.55"/><circle cx="349.3" cy="203.7" r="1.55"/><circle cx="353.8" cy="203.7" r="1.55"/><circle cx="358.3" cy="203.7" r="1.55"/><circle cx="362.7" cy="203.7" r="1.55"/><circle cx="367.2" cy="203.7" r="1.55"/><circle cx="371.7" cy="203.7" r="1.55"/><circle cx="389.6" cy="203.7" r="1.55"/><circle cx="394.0" cy="203.7" r="1.55"/><circle cx="398.5" cy="203.7" r="1.55"/><circle cx="403.0" cy="203.7" r="1.55"/><circle cx="407.4" cy="203.7" r="1.55"/><circle cx="411.9" cy="203.7" r="1.55"/><circle cx="416.4" cy="203.7" r="1.55"/><circle cx="420.8" cy="203.7" r="1.55"/><circle cx="425.3" cy="203.7" r="1.55"/><circle cx="429.8" cy="203.7" r="1.55"/><circle cx="434.3" cy="203.7" r="1.55"/><circle cx="438.7" cy="203.7" r="1.55"/><circle cx="443.2" cy="203.7" r="1.55"/><circle cx="447.7" cy="203.7" r="1.55"/><circle cx="318.0" cy="210.1" r="1.55"/><circle cx="322.5" cy="210.1" r="1.55"/><circle cx="327.0" cy="210.1" r="1.55"/><circle cx="331.4" cy="210.1" r="1.55"/><circle cx="335.9" cy="210.1" r="1.55"/><circle cx="340.4" cy="210.1" r="1.55"/><circle cx="344.9" cy="210.1" r="1.55"/><circle cx="349.3" cy="210.1" r="1.55"/><circle cx="353.8" cy="210.1" r="1.55"/><circle cx="358.3" cy="210.1" r="1.55"/><circle cx="362.7" cy="210.1" r="1.55"/><circle cx="367.2" cy="210.1" r="1.55"/><circle cx="371.7" cy="210.1" r="1.55"/><circle cx="376.1" cy="210.1" r="1.55"/><circle cx="380.6" cy="210.1" r="1.55"/><circle cx="385.1" cy="210.1" r="1.55"/><circle cx="389.6" cy="210.1" r="1.55"/><circle cx="394.0" cy="210.1" r="1.55"/><circle cx="398.5" cy="210.1" r="1.55"/><circle cx="403.0" cy="210.1" r="1.55"/><circle cx="407.4" cy="210.1" r="1.55"/><circle cx="411.9" cy="210.1" r="1.55"/><circle cx="416.4" cy="210.1" r="1.55"/><circle cx="420.8" cy="210.1" r="1.55"/><circle cx="425.3" cy="210.1" r="1.55"/><circle cx="429.8" cy="210.1" r="1.55"/><circle cx="434.3" cy="210.1" r="1.55"/><circle cx="438.7" cy="210.1" r="1.55"/><circle cx="443.2" cy="210.1" r="1.55"/><circle cx="447.7" cy="210.1" r="1.55"/><circle cx="318.0" cy="216.5" r="1.55"/><circle cx="322.5" cy="216.5" r="1.55"/><circle cx="327.0" cy="216.5" r="1.55"/><circle cx="331.4" cy="216.5" r="1.55"/><circle cx="335.9" cy="216.5" r="1.55"/><circle cx="340.4" cy="216.5" r="1.55"/><circle cx="344.9" cy="216.5" r="1.55"/><circle cx="349.3" cy="216.5" r="1.55"/><circle cx="353.8" cy="216.5" r="1.55"/><circle cx="358.3" cy="216.5" r="1.55"/><circle cx="362.7" cy="216.5" r="1.55"/><circle cx="367.2" cy="216.5" r="1.55"/><circle cx="371.7" cy="216.5" r="1.55"/><circle cx="376.1" cy="216.5" r="1.55"/><circle cx="380.6" cy="216.5" r="1.55"/><circle cx="385.1" cy="216.5" r="1.55"/><circle cx="389.6" cy="216.5" r="1.55"/><circle cx="394.0" cy="216.5" r="1.55"/><circle cx="398.5" cy="216.5" r="1.55"/><circle cx="403.0" cy="216.5" r="1.55"/><circle cx="407.4" cy="216.5" r="1.55"/><circle cx="411.9" cy="216.5" r="1.55"/><circle cx="416.4" cy="216.5" r="1.55"/><circle cx="420.8" cy="216.5" r="1.55"/><circle cx="425.3" cy="216.5" r="1.55"/><circle cx="429.8" cy="216.5" r="1.55"/><circle cx="434.3" cy="216.5" r="1.55"/><circle cx="438.7" cy="216.5" r="1.55"/><circle cx="443.2" cy="216.5" r="1.55"/><circle cx="447.7" cy="216.5" r="1.55"/><circle cx="318.0" cy="222.9" r="1.55"/><circle cx="322.5" cy="222.9" r="1.55"/><circle cx="327.0" cy="222.9" r="1.55"/><circle cx="331.4" cy="222.9" r="1.55"/><circle cx="335.9" cy="222.9" r="1.55"/><circle cx="340.4" cy="222.9" r="1.55"/><circle cx="344.9" cy="222.9" r="1.55"/><circle cx="349.3" cy="222.9" r="1.55"/><circle cx="353.8" cy="222.9" r="1.55"/><circle cx="358.3" cy="222.9" r="1.55"/><circle cx="362.7" cy="222.9" r="1.55"/><circle cx="367.2" cy="222.9" r="1.55"/><circle cx="371.7" cy="222.9" r="1.55"/><circle cx="376.1" cy="222.9" r="1.55"/><circle cx="380.6" cy="222.9" r="1.55"/><circle cx="385.1" cy="222.9" r="1.55"/><circle cx="389.6" cy="222.9" r="1.55"/><circle cx="394.0" cy="222.9" r="1.55"/><circle cx="398.5" cy="222.9" r="1.55"/><circle cx="403.0" cy="222.9" r="1.55"/><circle cx="407.4" cy="222.9" r="1.55"/><circle cx="411.9" cy="222.9" r="1.55"/><circle cx="416.4" cy="222.9" r="1.55"/><circle cx="420.8" cy="222.9" r="1.55"/><circle cx="425.3" cy="222.9" r="1.55"/><circle cx="429.8" cy="222.9" r="1.55"/><circle cx="434.3" cy="222.9" r="1.55"/><circle cx="438.7" cy="222.9" r="1.55"/><circle cx="443.2" cy="222.9" r="1.55"/><circle cx="447.7" cy="222.9" r="1.55"/><circle cx="318.0" cy="229.3" r="1.55"/><circle cx="322.5" cy="229.3" r="1.55"/><circle cx="327.0" cy="229.3" r="1.55"/><circle cx="331.4" cy="229.3" r="1.55"/><circle cx="335.9" cy="229.3" r="1.55"/><circle cx="340.4" cy="229.3" r="1.55"/><circle cx="344.9" cy="229.3" r="1.55"/><circle cx="349.3" cy="229.3" r="1.55"/><circle cx="353.8" cy="229.3" r="1.55"/><circle cx="358.3" cy="229.3" r="1.55"/><circle cx="362.7" cy="229.3" r="1.55"/><circle cx="367.2" cy="229.3" r="1.55"/><circle cx="371.7" cy="229.3" r="1.55"/><circle cx="376.1" cy="229.3" r="1.55"/><circle cx="380.6" cy="229.3" r="1.55"/><circle cx="385.1" cy="229.3" r="1.55"/><circle cx="389.6" cy="229.3" r="1.55"/><circle cx="394.0" cy="229.3" r="1.55"/><circle cx="398.5" cy="229.3" r="1.55"/><circle cx="403.0" cy="229.3" r="1.55"/><circle cx="407.4" cy="229.3" r="1.55"/><circle cx="411.9" cy="229.3" r="1.55"/><circle cx="416.4" cy="229.3" r="1.55"/><circle cx="420.8" cy="229.3" r="1.55"/><circle cx="425.3" cy="229.3" r="1.55"/><circle cx="429.8" cy="229.3" r="1.55"/><circle cx="434.3" cy="229.3" r="1.55"/><circle cx="438.7" cy="229.3" r="1.55"/><circle cx="443.2" cy="229.3" r="1.55"/><circle cx="447.7" cy="229.3" r="1.55"/><circle cx="318.0" cy="235.7" r="1.55"/><circle cx="322.5" cy="235.7" r="1.55"/><circle cx="327.0" cy="235.7" r="1.55"/><circle cx="331.4" cy="235.7" r="1.55"/><circle cx="335.9" cy="235.7" r="1.55"/><circle cx="340.4" cy="235.7" r="1.55"/><circle cx="344.9" cy="235.7" r="1.55"/><circle cx="349.3" cy="235.7" r="1.55"/><circle cx="353.8" cy="235.7" r="1.55"/><circle cx="358.3" cy="235.7" r="1.55"/><circle cx="362.7" cy="235.7" r="1.55"/><circle cx="367.2" cy="235.7" r="1.55"/><circle cx="371.7" cy="235.7" r="1.55"/><circle cx="376.1" cy="235.7" r="1.55"/><circle cx="380.6" cy="235.7" r="1.55"/><circle cx="385.1" cy="235.7" r="1.55"/><circle cx="389.6" cy="235.7" r="1.55"/><circle cx="394.0" cy="235.7" r="1.55"/><circle cx="398.5" cy="235.7" r="1.55"/><circle cx="403.0" cy="235.7" r="1.55"/><circle cx="407.4" cy="235.7" r="1.55"/><circle cx="411.9" cy="235.7" r="1.55"/><circle cx="416.4" cy="235.7" r="1.55"/><circle cx="420.8" cy="235.7" r="1.55"/><circle cx="425.3" cy="235.7" r="1.55"/><circle cx="429.8" cy="235.7" r="1.55"/><circle cx="434.3" cy="235.7" r="1.55"/><circle cx="438.7" cy="235.7" r="1.55"/><circle cx="443.2" cy="235.7" r="1.55"/><circle cx="447.7" cy="235.7" r="1.55"/><circle cx="318.0" cy="242.1" r="1.55"/><circle cx="322.5" cy="242.1" r="1.55"/><circle cx="327.0" cy="242.1" r="1.55"/><circle cx="331.4" cy="242.1" r="1.55"/><circle cx="335.9" cy="242.1" r="1.55"/><circle cx="340.4" cy="242.1" r="1.55"/><circle cx="344.9" cy="242.1" r="1.55"/><circle cx="349.3" cy="242.1" r="1.55"/><circle cx="353.8" cy="242.1" r="1.55"/><circle cx="358.3" cy="242.1" r="1.55"/><circle cx="362.7" cy="242.1" r="1.55"/><circle cx="367.2" cy="242.1" r="1.55"/><circle cx="371.7" cy="242.1" r="1.55"/><circle cx="376.1" cy="242.1" r="1.55"/><circle cx="380.6" cy="242.1" r="1.55"/><circle cx="385.1" cy="242.1" r="1.55"/><circle cx="389.6" cy="242.1" r="1.55"/><circle cx="394.0" cy="242.1" r="1.55"/><circle cx="398.5" cy="242.1" r="1.55"/><circle cx="403.0" cy="242.1" r="1.55"/><circle cx="407.4" cy="242.1" r="1.55"/><circle cx="411.9" cy="242.1" r="1.55"/><circle cx="416.4" cy="242.1" r="1.55"/><circle cx="420.8" cy="242.1" r="1.55"/><circle cx="425.3" cy="242.1" r="1.55"/><circle cx="429.8" cy="242.1" r="1.55"/><circle cx="434.3" cy="242.1" r="1.55"/><circle cx="438.7" cy="242.1" r="1.55"/><circle cx="443.2" cy="242.1" r="1.55"/><circle cx="447.7" cy="242.1" r="1.55"/></g>
<g fill="#fff" stroke="#9a9a9a" stroke-width="0.6"><circle cx="371.7" cy="146.1" r="1.1"/><circle cx="376.1" cy="146.1" r="1.1"/><circle cx="380.6" cy="146.1" r="1.1"/><circle cx="385.1" cy="146.1" r="1.1"/><circle cx="389.6" cy="146.1" r="1.1"/><circle cx="365.0" cy="149.3" r="1.1"/><circle cx="369.4" cy="149.3" r="1.1"/><circle cx="387.3" cy="149.3" r="1.1"/><circle cx="391.8" cy="149.3" r="1.1"/><circle cx="396.3" cy="149.3" r="1.1"/><circle cx="362.7" cy="152.5" r="1.1"/><circle cx="398.5" cy="152.5" r="1.1"/><circle cx="356.0" cy="155.7" r="1.1"/><circle cx="360.5" cy="155.7" r="1.1"/><circle cx="400.7" cy="155.7" r="1.1"/><circle cx="353.8" cy="158.9" r="1.1"/><circle cx="358.3" cy="158.9" r="1.1"/><circle cx="403.0" cy="158.9" r="1.1"/><circle cx="356.0" cy="162.1" r="1.1"/><circle cx="405.2" cy="162.1" r="1.1"/><circle cx="353.8" cy="165.3" r="1.1"/><circle cx="407.4" cy="165.3" r="1.1"/><circle cx="351.6" cy="168.5" r="1.1"/><circle cx="409.7" cy="168.5" r="1.1"/><circle cx="349.3" cy="171.7" r="1.1"/><circle cx="407.4" cy="171.7" r="1.1"/><circle cx="351.6" cy="174.9" r="1.1"/><circle cx="409.7" cy="174.9" r="1.1"/><circle cx="349.3" cy="178.1" r="1.1"/><circle cx="407.4" cy="178.1" r="1.1"/><circle cx="351.6" cy="181.3" r="1.1"/><circle cx="409.7" cy="181.3" r="1.1"/><circle cx="353.8" cy="184.5" r="1.1"/><circle cx="407.4" cy="184.5" r="1.1"/><circle cx="356.0" cy="187.7" r="1.1"/><circle cx="405.2" cy="187.7" r="1.1"/><circle cx="358.3" cy="190.9" r="1.1"/><circle cx="403.0" cy="190.9" r="1.1"/><circle cx="360.5" cy="194.1" r="1.1"/><circle cx="400.7" cy="194.1" r="1.1"/><circle cx="362.7" cy="197.3" r="1.1"/><circle cx="367.2" cy="197.3" r="1.1"/><circle cx="394.0" cy="197.3" r="1.1"/><circle cx="398.5" cy="197.3" r="1.1"/><circle cx="365.0" cy="200.5" r="1.1"/><circle cx="369.4" cy="200.5" r="1.1"/><circle cx="373.9" cy="200.5" r="1.1"/><circle cx="378.4" cy="200.5" r="1.1"/><circle cx="382.9" cy="200.5" r="1.1"/><circle cx="387.3" cy="200.5" r="1.1"/><circle cx="391.8" cy="200.5" r="1.1"/><circle cx="376.1" cy="203.7" r="1.1"/><circle cx="380.6" cy="203.7" r="1.1"/><circle cx="385.1" cy="203.7" r="1.1"/></g>
<path d="M400.95,174.30 L400.90,176.19 L400.76,178.07 L400.54,179.97 L400.22,181.89 L399.82,183.83 L399.33,185.81 L397.91,187.23 L396.48,188.56 L395.03,189.80 L393.55,190.95 L392.03,192.02 L390.47,193.00 L388.87,193.90 L387.21,194.72 L385.50,195.47 L383.74,196.15 L381.91,196.76 L380.00,197.32 L378.09,196.76 L376.26,196.15 L374.50,195.47 L372.79,194.72 L371.13,193.90 L369.53,193.00 L367.97,192.02 L366.45,190.95 L364.97,189.80 L363.52,188.56 L362.09,187.23 L360.67,185.81 L360.18,183.83 L359.78,181.89 L359.46,179.97 L359.24,178.07 L359.10,176.19 L359.05,174.30 L359.10,172.41 L359.24,170.53 L359.46,168.63 L359.78,166.71 L360.18,164.77 L360.67,162.79 L362.09,161.37 L363.52,160.04 L364.97,158.80 L366.45,157.65 L367.97,156.58 L369.53,155.60 L371.13,154.70 L372.79,153.88 L374.50,153.13 L376.26,152.45 L378.09,151.84 L380.00,151.28 L381.91,151.84 L383.74,152.45 L385.50,153.13 L387.21,153.88 L388.87,154.70 L390.47,155.60 L392.03,156.58 L393.55,157.65 L395.03,158.80 L396.48,160.04 L397.91,161.37 L399.33,162.79 L399.82,164.77 L400.22,166.71 L400.54,168.63 L400.76,170.53 L400.90,172.41Z" fill="none" stroke="#e43636" stroke-width="1.9" stroke-linejoin="round"/>
</g>
<text x="67.5" y="12.8" font-size="10.5" textLength="63.5" lengthAdjust="spacingAndGlyphs">1.37 wt% (7, 2)</text>
<text x="150.2" y="12.8" font-size="10.5" textLength="69" lengthAdjust="spacingAndGlyphs">3.06 wt% (14, 4)</text>
<text x="234.2" y="12.8" font-size="10.5" textLength="68.6" lengthAdjust="spacingAndGlyphs">5.50 wt% (21, 6)</text>
<text x="319.8" y="12.8" font-size="10.5" textLength="68" lengthAdjust="spacingAndGlyphs">10.5 wt% (28, 8)</text>
<line x1="229" y1="21" x2="229" y2="88.5" stroke="#e8181b" stroke-width="1.1" marker-start="url(#ahR)" marker-end="url(#ahR)"/>
<line x1="236" y1="95.5" x2="292.5" y2="95.5" stroke="#e8181b" stroke-width="1.1" marker-start="url(#ahR)" marker-end="url(#ahR)"/>
<text x="229.2" y="108.8" font-size="10.6" textLength="70" lengthAdjust="spacingAndGlyphs">33.2 Å <tspan font-size="12.5">×</tspan> 39.8 Å</text>
<rect x="388" y="31.3" width="53.3" height="58.2" fill="#fff" stroke="#aaa" stroke-width="0.8"/>
<text x="394" y="42.3" font-size="10" textLength="36" lengthAdjust="spacingAndGlyphs">Structure</text>
<rect x="394" y="51.2" width="7" height="7" fill="#00e619"/>
<rect x="394.3" y="64.6" width="6.6" height="6.6" fill="#fff" stroke="#ccc" stroke-width="0.6"/>
<rect x="394" y="78" width="7" height="6.6" fill="#f05a5a"/>
<text x="411" y="57.8" font-size="10" textLength="19" lengthAdjust="spacingAndGlyphs">FCC</text>
<text x="411" y="71.2" font-size="10" textLength="22.5" lengthAdjust="spacingAndGlyphs">Other</text>
<text x="411" y="84.6" font-size="10" textLength="19.5" lengthAdjust="spacingAndGlyphs">CNT</text>
<text x="16.4" y="113" font-size="10.5" textLength="12.2" lengthAdjust="spacingAndGlyphs" style="stroke-width:0.16px">(a)</text>
<text x="120" y="103.7" font-size="10.5" textLength="19.8" lengthAdjust="spacingAndGlyphs">same</text>
<text x="143" y="103.7" font-size="10.5" font-style="italic">L</text>
<text x="149.3" y="105.6" font-size="7" font-style="italic">y</text>
<text x="155" y="104" font-size="13">×</text>
<text x="166.9" y="103.7" font-size="10.5" font-style="italic">L</text>
<text x="173" y="105.6" font-size="7" font-style="italic">z</text>
<text x="67.4" y="130.5" font-size="10" textLength="41.6" lengthAdjust="spacingAndGlyphs">same wt%</text>
<path d="M104,111 L138,111" fill="none" stroke="#5656ee" stroke-width="2.5" stroke-linecap="round"/>
<path d="M104,111 C108,122 118,131 137,135.8" fill="none" stroke="#5656ee" stroke-width="2.5" stroke-linecap="round"/>
<path d="M144.50,111.00 L135.00,106.80 L137.00,111.00 L135.00,115.20Z" fill="#5656ee"/>
<path d="M144.50,137.60 L136.30,131.23 L137.22,135.79 L134.27,139.38Z" fill="#5656ee"/>
<rect x="71.2" y="145" width="74.8" height="14.4" fill="#fff" fill-opacity="0.72"/>
<text x="76" y="156" font-size="10.6" textLength="68" lengthAdjust="spacingAndGlyphs">1.33 wt% (14, 4)</text>
<rect x="65.7" y="226.2" width="86.3" height="13.2" fill="#fff" fill-opacity="0.72"/>
<text x="74.7" y="239" font-size="10.6" textLength="69.5" lengthAdjust="spacingAndGlyphs">51.1 Å <tspan font-size="12.5">×</tspan> 54.2 Å</text>
<rect x="196.9" y="127" width="74" height="14.4" fill="#fff" fill-opacity="0.72"/>
<text x="201" y="138" font-size="10.6" textLength="68" lengthAdjust="spacingAndGlyphs">1.36 wt% (21, 6)</text>
<rect x="189.5" y="226.2" width="85.5" height="14.2" fill="#fff" fill-opacity="0.72"/>
<text x="198.9" y="239" font-size="10.6" textLength="70.8" lengthAdjust="spacingAndGlyphs">63.9 Å <tspan font-size="12.5">×</tspan> 65.1 Å</text>
<rect x="341.9" y="109.3" width="74" height="15.1" fill="#fff" fill-opacity="0.72"/>
<text x="346" y="121.4" font-size="10.6" textLength="68" lengthAdjust="spacingAndGlyphs">1.38 wt% (28, 8)</text>
<rect x="334.5" y="226.2" width="85.5" height="16" fill="#fff" fill-opacity="0.72"/>
<text x="343.9" y="239" font-size="10.6" textLength="70.8" lengthAdjust="spacingAndGlyphs">74.1 Å <tspan font-size="12.5">×</tspan> 75.9 Å</text>
<g stroke="#bdbdbd" stroke-width="1" stroke-dasharray="1.5,2.1"><line x1="74.52" y1="248.6" x2="74.52" y2="364.6"/><line x1="113.85" y1="248.6" x2="113.85" y2="364.6"/><line x1="153.17" y1="248.6" x2="153.17" y2="364.6"/><line x1="35.2" y1="335.57" x2="192.5" y2="335.57"/><line x1="35.2" y1="306.54" x2="192.5" y2="306.54"/><line x1="35.2" y1="277.51" x2="192.5" y2="277.51"/></g>
<path d="M35.2,364.6v-3M74.52,364.6v-3M113.85,364.6v-3M153.17,364.6v-3M192.5,364.6v-3M35.2,364.6h3M35.2,350.09h2M35.2,335.57h3M35.2,321.06h2M35.2,306.54h3M35.2,292.02h2M35.2,277.51h3M35.2,263h2M35.2,248.48h3" stroke="#3a3a3a" stroke-width="0.8" fill="none"/>
<rect x="35.2" y="248.6" width="157.3" height="116" fill="none" stroke="#3a3a3a" stroke-width="1.1"/>
<text x="35.2" y="375.4" font-size="8.3" text-anchor="middle">0</text>
<text x="74.52" y="375.4" font-size="8.3" text-anchor="middle">3</text>
<text x="113.85" y="375.4" font-size="8.3" text-anchor="middle">6</text>
<text x="153.17" y="375.4" font-size="8.3" text-anchor="middle">9</text>
<text x="191.3" y="375.4" font-size="8.3" text-anchor="middle">12</text>
<text x="25" y="367.5" font-size="8.3" text-anchor="middle">0</text>
<text x="25.4" y="338.47" font-size="8.3" text-anchor="middle">75</text>
<text x="25.2" y="309.44" font-size="8.3" text-anchor="middle">150</text>
<text x="25.2" y="280.41" font-size="8.3" text-anchor="middle">225</text>
<text x="25.2" y="253.98" font-size="8.3" text-anchor="middle">300</text>
<text transform="translate(12.9,312.2) rotate(-90)" font-size="10" text-anchor="middle" textLength="109" lengthAdjust="spacingAndGlyphs">Young's modulus <tspan font-style='italic'>E</tspan> (GPa)</text>
<path d="M53.3,302.4 L75.3,287.4 L107.2,273.5 L172.5,261" fill="none" stroke="#3cbf3c" stroke-width="1.0"/>
<circle cx="53.3" cy="302.4" r="2.8" fill="url(#gG)"/>
<circle cx="75.3" cy="287.4" r="2.8" fill="url(#gG)"/>
<circle cx="107.2" cy="273.5" r="2.8" fill="url(#gG)"/>
<circle cx="172.5" cy="261" r="2.8" fill="url(#gG)"/>
<path d="M53.3,325.5 L75.3,335 L107.2,340.5 L172.5,346.3" fill="none" stroke="#4040ff" stroke-width="1.0"/>
<path d="M53.3,322.03 L56.6,327.63 L50,327.63z" fill="#0a0af0"/>
<path d="M75.3,331.53 L78.6,337.13 L72,337.13z" fill="#0a0af0"/>
<path d="M107.2,337.03 L110.5,342.63 L103.9,342.63z" fill="#0a0af0"/>
<path d="M172.5,342.83 L175.8,348.43 L169.2,348.43z" fill="#0a0af0"/>
<path d="M53.5,339.5 L75.3,343.5 L107.2,345.7 L172.5,349" fill="none" stroke="#ff4040" stroke-width="1.0"/>
<rect x="50.9" y="336.9" width="5.2" height="5.2" fill="#f01010"/>
<rect x="72.7" y="340.9" width="5.2" height="5.2" fill="#f01010"/>
<rect x="104.6" y="343.1" width="5.2" height="5.2" fill="#f01010"/>
<rect x="169.9" y="346.4" width="5.2" height="5.2" fill="#f01010"/>
<rect x="124" y="287.2" width="59.7" height="29.3" fill="#fff" stroke="#c8c8c8" stroke-width="0.8"/>
<text x="132.2" y="296.9" font-size="9.4"><tspan font-style="italic">L</tspan><tspan font-style="italic" font-size="6.5" dy="2.2">y</tspan><tspan dy="-2.2"> = 33.2 Å</tspan></text>
<text x="132.2" y="313.6" font-size="9.4"><tspan font-style="italic">L</tspan><tspan font-style="italic" font-size="6.5" dy="2.2">z</tspan><tspan dy="-2.2"> = 39.8 Å</tspan></text>
<text x="140" y="385.6" font-size="9.4" text-anchor="middle">wt %</text>
<text x="114" y="392" font-size="9.6" text-anchor="middle" style="stroke-width:0.16px">(b)</text>
<g stroke="#bdbdbd" stroke-width="1" stroke-dasharray="1.5,2.1"><line x1="366.92" y1="248.6" x2="366.92" y2="364.6"/><line x1="405.35" y1="248.6" x2="405.35" y2="364.6"/><line x1="443.77" y1="248.6" x2="443.77" y2="364.6"/><line x1="328.5" y1="335.57" x2="482.2" y2="335.57"/><line x1="328.5" y1="306.54" x2="482.2" y2="306.54"/><line x1="328.5" y1="277.51" x2="482.2" y2="277.51"/></g>
<path d="M328.5,364.6v-3M366.92,364.6v-3M405.35,364.6v-3M443.77,364.6v-3M482.2,364.6v-3M328.5,364.6h3M328.5,350.09h2M328.5,335.57h3M328.5,321.06h2M328.5,306.54h3M328.5,292.02h2M328.5,277.51h3M328.5,263h2M328.5,248.48h3" stroke="#3a3a3a" stroke-width="0.8" fill="none"/>
<rect x="328.5" y="248.6" width="153.7" height="116" fill="none" stroke="#3a3a3a" stroke-width="1.1"/>
<text x="328.5" y="375.4" font-size="8.3" text-anchor="middle">0</text>
<text x="366.92" y="375.4" font-size="8.3" text-anchor="middle">3</text>
<text x="405.35" y="375.4" font-size="8.3" text-anchor="middle">6</text>
<text x="443.77" y="375.4" font-size="8.3" text-anchor="middle">9</text>
<text x="481" y="375.4" font-size="8.3" text-anchor="middle">12</text>
<text x="315.3" y="367.5" font-size="8.3" text-anchor="middle">-0.24</text>
<text x="315.3" y="338.47" font-size="8.3" text-anchor="middle">-0.18</text>
<text x="315.3" y="309.44" font-size="8.3" text-anchor="middle">-0.12</text>
<text x="315.3" y="280.41" font-size="8.3" text-anchor="middle">-0.06</text>
<text x="316" y="253.98" font-size="8.3" text-anchor="middle">0.0</text>
<text transform="translate(301.9,308) rotate(-90)" font-size="10" text-anchor="middle" textLength="110" lengthAdjust="spacingAndGlyphs">In-plane Poisson's ratio <tspan font-style='italic'>υ</tspan></text>
<path d="M345.4,301.3 L367.5,289 L398.5,277.2 L463.1,262.7" fill="none" stroke="#ff9a40" stroke-width="1.0"/>
<path d="M345.4,297.83 L348.7,303.43 L342.1,303.43z" fill="#ff7a10"/>
<path d="M367.5,285.53 L370.8,291.13 L364.2,291.13z" fill="#ff7a10"/>
<path d="M398.5,273.73 L401.8,279.33 L395.2,279.33z" fill="#ff7a10"/>
<path d="M463.1,259.23 L466.4,264.83 L459.8,264.83z" fill="#ff7a10"/>
<path d="M345.4,332.7 L367.5,338.8 L398.5,338 L463.1,324.4" fill="none" stroke="#9a4ae8" stroke-width="1.0"/>
<circle cx="345.4" cy="332.7" r="2.8" fill="url(#gP)"/>
<circle cx="367.5" cy="338.8" r="2.8" fill="url(#gP)"/>
<circle cx="398.5" cy="338" r="2.8" fill="url(#gP)"/>
<circle cx="463.1" cy="324.4" r="2.8" fill="url(#gP)"/>
<rect x="412.4" y="287.2" width="59.9" height="30" fill="#fff" stroke="#c8c8c8" stroke-width="0.8"/>
<text x="420.5" y="296.9" font-size="9.4"><tspan font-style="italic">L</tspan><tspan font-style="italic" font-size="6.5" dy="2.2">y</tspan><tspan dy="-2.2"> = 33.2 Å</tspan></text>
<text x="420.5" y="313.6" font-size="9.4"><tspan font-style="italic">L</tspan><tspan font-style="italic" font-size="6.5" dy="2.2">z</tspan><tspan dy="-2.2"> = 39.8 Å</tspan></text>
<text x="428" y="385.5" font-size="9.4" text-anchor="middle">wt %</text>
<text x="401.8" y="392" font-size="9.6" text-anchor="middle" style="stroke-width:0.16px">(c)</text>
<rect x="213.3" y="248.8" width="62.2" height="79.2" fill="#fff" stroke="#c8c8c8" stroke-width="0.8"/>
<path d="M224,260.2h9.5M239.5,260.2h9" stroke="#3cbf3c" stroke-width="1.1"/>
<circle cx="236.3" cy="260.2" r="2.8" fill="url(#gG)"/>
<text x="254.3" y="263" font-size="10"><tspan font-style="italic">E</tspan><tspan font-size="6.5" dy="2">11</tspan></text>
<path d="M224,273.7h9.5M239.5,273.7h9" stroke="#4040ff" stroke-width="1.1"/>
<path d="M236.3,270.23 L239.6,275.83 L233,275.83z" fill="#0a0af0"/>
<text x="254.3" y="276.5" font-size="10"><tspan font-style="italic">E</tspan><tspan font-size="6.5" dy="2">22</tspan></text>
<path d="M224,287.4h9.5M239.5,287.4h9" stroke="#ff4040" stroke-width="1.1"/>
<rect x="233.7" y="284.8" width="5.2" height="5.2" fill="#f01010"/>
<text x="254.3" y="290.2" font-size="10"><tspan font-style="italic">E</tspan><tspan font-size="6.5" dy="2">33</tspan></text>
<path d="M224,302h9.5M239.5,302h9" stroke="#9a4ae8" stroke-width="1.1"/>
<circle cx="236.3" cy="302" r="2.8" fill="url(#gP)"/>
<text x="254.3" y="304.8" font-size="10"><tspan>υ</tspan><tspan font-size="6.5" dy="2">12</tspan></text>
<path d="M224,315.5h9.5M239.5,315.5h9" stroke="#ff9a40" stroke-width="1.1"/>
<path d="M236.3,312.03 L239.6,317.63 L233,317.63z" fill="#ff7a10"/>
<text x="254.3" y="318.3" font-size="10"><tspan>υ</tspan><tspan font-size="6.5" dy="2">21</tspan></text>
<g stroke="#bdbdbd" stroke-width="1" stroke-dasharray="1.5,2.1"><line x1="74.52" y1="400.8" x2="74.52" y2="516.8"/><line x1="113.85" y1="400.8" x2="113.85" y2="516.8"/><line x1="153.17" y1="400.8" x2="153.17" y2="516.8"/><line x1="35.2" y1="487.8" x2="192.5" y2="487.8"/><line x1="35.2" y1="458.8" x2="192.5" y2="458.8"/><line x1="35.2" y1="429.8" x2="192.5" y2="429.8"/></g>
<path d="M35.2,516.8v-3M74.52,516.8v-3M113.85,516.8v-3M153.17,516.8v-3M192.5,516.8v-3M35.2,516.8h3M35.2,502.3h2M35.2,487.8h3M35.2,473.3h2M35.2,458.8h3M35.2,444.3h2M35.2,429.8h3M35.2,415.3h2M35.2,400.8h3" stroke="#3a3a3a" stroke-width="0.8" fill="none"/>
<rect x="35.2" y="400.8" width="157.3" height="116" fill="none" stroke="#3a3a3a" stroke-width="1.1"/>
<text x="35.2" y="527.6" font-size="8.3" text-anchor="middle">4</text>
<text x="74.52" y="527.6" font-size="8.3" text-anchor="middle">10</text>
<text x="113.85" y="527.6" font-size="8.3" text-anchor="middle">16</text>
<text x="153.17" y="527.6" font-size="8.3" text-anchor="middle">22</text>
<text x="191.3" y="527.6" font-size="8.3" text-anchor="middle">28</text>
<text x="25" y="519.7" font-size="8.3" text-anchor="middle">0</text>
<text x="25.4" y="490.7" font-size="8.3" text-anchor="middle">75</text>
<text x="25.2" y="461.7" font-size="8.3" text-anchor="middle">150</text>
<text x="25.2" y="432.7" font-size="8.3" text-anchor="middle">225</text>
<text x="25.2" y="406.3" font-size="8.3" text-anchor="middle">300</text>
<text transform="translate(12.9,464.4) rotate(-90)" font-size="10" text-anchor="middle" textLength="109" lengthAdjust="spacingAndGlyphs">Young's modulus <tspan font-style='italic'>E</tspan> (GPa)</text>
<path d="M51.1,454.7 L92.7,458.4 L135.5,459.2 L177.2,461.2" fill="none" stroke="#3cbf3c" stroke-width="1.0"/>
<circle cx="51.1" cy="454.7" r="2.8" fill="url(#gG)"/>
<circle cx="92.7" cy="458.4" r="2.8" fill="url(#gG)"/>
<circle cx="135.5" cy="459.2" r="2.8" fill="url(#gG)"/>
<circle cx="177.2" cy="461.2" r="2.8" fill="url(#gG)"/>
<path d="M51.1,478 L92.7,482.9 L135.5,483.7 L177.2,485.1" fill="none" stroke="#4040ff" stroke-width="1.0"/>
<path d="M51.1,474.53 L54.4,480.13 L47.8,480.13z" fill="#0a0af0"/>
<path d="M92.7,479.43 L96,485.03 L89.4,485.03z" fill="#0a0af0"/>
<path d="M135.5,480.23 L138.8,485.83 L132.2,485.83z" fill="#0a0af0"/>
<path d="M177.2,481.63 L180.5,487.23 L173.9,487.23z" fill="#0a0af0"/>
<path d="M51.1,492.1 L92.7,494.2 L135.5,494.4 L177.2,495.8" fill="none" stroke="#ff4040" stroke-width="1.0"/>
<rect x="48.5" y="489.5" width="5.2" height="5.2" fill="#f01010"/>
<rect x="90.1" y="491.6" width="5.2" height="5.2" fill="#f01010"/>
<rect x="132.9" y="491.8" width="5.2" height="5.2" fill="#f01010"/>
<rect x="174.6" y="493.2" width="5.2" height="5.2" fill="#f01010"/>
<rect x="86.4" y="403" width="57.3" height="18.6" fill="#fff" stroke="#c8c8c8" stroke-width="0.8"/>
<text x="89.3" y="417.2" font-size="10.2" textLength="52.8" lengthAdjust="spacingAndGlyphs">wt % ≈ 1.3%</text>
<text transform="translate(55.3,448.8) rotate(-12)" font-size="8.2" text-anchor="middle">(7, 2)</text>
<text transform="translate(95.4,450.4) rotate(-12)" font-size="8.2" text-anchor="middle">(14, 4)</text>
<text transform="translate(138.1,453) rotate(-12)" font-size="8.2" text-anchor="middle">(21, 6)</text>
<text transform="translate(180.4,455.4) rotate(-12)" font-size="8.2" text-anchor="middle">(28, 8)</text>
<text x="136.8" y="538.2" font-size="10.5"><tspan font-style="italic">d</tspan><tspan font-size="6.5" dy="2">CNT</tspan><tspan dy="-2" font-weight="bold"> (Å)</tspan></text>
<text x="110.1" y="545.6" font-size="9.8" text-anchor="middle" style="stroke-width:0.16px">(d)</text>
<g stroke="#bdbdbd" stroke-width="1" stroke-dasharray="1.5,2.1"><line x1="366.92" y1="400.8" x2="366.92" y2="516.8"/><line x1="405.35" y1="400.8" x2="405.35" y2="516.8"/><line x1="443.77" y1="400.8" x2="443.77" y2="516.8"/><line x1="328.5" y1="487.8" x2="482.2" y2="487.8"/><line x1="328.5" y1="458.8" x2="482.2" y2="458.8"/><line x1="328.5" y1="429.8" x2="482.2" y2="429.8"/></g>
<path d="M328.5,516.8v-3M366.92,516.8v-3M405.35,516.8v-3M443.77,516.8v-3M482.2,516.8v-3M328.5,516.8h3M328.5,502.3h2M328.5,487.8h3M328.5,473.3h2M328.5,458.8h3M328.5,444.3h2M328.5,429.8h3M328.5,415.3h2M328.5,400.8h3" stroke="#3a3a3a" stroke-width="0.8" fill="none"/>
<rect x="328.5" y="400.8" width="153.7" height="116" fill="none" stroke="#3a3a3a" stroke-width="1.1"/>
<text x="328.5" y="527.6" font-size="8.3" text-anchor="middle">4</text>
<text x="366.92" y="527.6" font-size="8.3" text-anchor="middle">10</text>
<text x="405.35" y="527.6" font-size="8.3" text-anchor="middle">16</text>
<text x="443.77" y="527.6" font-size="8.3" text-anchor="middle">22</text>
<text x="481" y="527.6" font-size="8.3" text-anchor="middle">28</text>
<text x="315.3" y="519.7" font-size="8.3" text-anchor="middle">-0.24</text>
<text x="315.3" y="490.7" font-size="8.3" text-anchor="middle">-0.18</text>
<text x="315.3" y="461.7" font-size="8.3" text-anchor="middle">-0.12</text>
<text x="315.3" y="432.7" font-size="8.3" text-anchor="middle">-0.06</text>
<text x="316" y="406.3" font-size="8.3" text-anchor="middle">0.0</text>
<text transform="translate(301.9,460) rotate(-90)" font-size="10" text-anchor="middle" textLength="110" lengthAdjust="spacingAndGlyphs">In-plane Poisson's ratio <tspan font-style='italic'>υ</tspan></text>
<path d="M343.4,454.2 L384.6,457 L425.9,459.8 L467,460.4" fill="none" stroke="#ff9a40" stroke-width="1.0"/>
<path d="M343.4,450.73 L346.7,456.33 L340.1,456.33z" fill="#ff7a10"/>
<path d="M384.6,453.53 L387.9,459.13 L381.3,459.13z" fill="#ff7a10"/>
<path d="M425.9,456.33 L429.2,461.93 L422.6,461.93z" fill="#ff7a10"/>
<path d="M467,456.93 L470.3,462.53 L463.7,462.53z" fill="#ff7a10"/>
<path d="M343.4,485.1 L384.6,499.8 L425.9,501.5 L467,503.5" fill="none" stroke="#9a4ae8" stroke-width="1.0"/>
<circle cx="343.4" cy="485.1" r="2.8" fill="url(#gP)"/>
<circle cx="384.6" cy="499.8" r="2.8" fill="url(#gP)"/>
<circle cx="425.9" cy="501.5" r="2.8" fill="url(#gP)"/>
<circle cx="467" cy="503.5" r="2.8" fill="url(#gP)"/>
<rect x="376" y="403" width="57" height="18.6" fill="#fff" stroke="#c8c8c8" stroke-width="0.8"/>
<text x="379.3" y="417.2" font-size="10.2" textLength="52.8" lengthAdjust="spacingAndGlyphs">wt % ≈ 1.3%</text>
<text transform="translate(346.6,447) rotate(-12)" font-size="8.2" text-anchor="middle">(7, 2)</text>
<text transform="translate(386.1,450) rotate(-12)" font-size="8.2" text-anchor="middle">(14, 4)</text>
<text transform="translate(427.8,452.5) rotate(-12)" font-size="8.2" text-anchor="middle">(21, 6)</text>
<text transform="translate(469.5,454) rotate(-12)" font-size="8.2" text-anchor="middle">(28, 8)</text>
<text x="425.5" y="538.2" font-size="10.5"><tspan font-style="italic">d</tspan><tspan font-size="6.5" dy="2">CNT</tspan><tspan dy="-2" font-weight="bold"> (Å)</tspan></text>
<text x="399" y="545.6" font-size="9.8" text-anchor="middle" style="stroke-width:0.16px">(e)</text>
</svg></body></html>
